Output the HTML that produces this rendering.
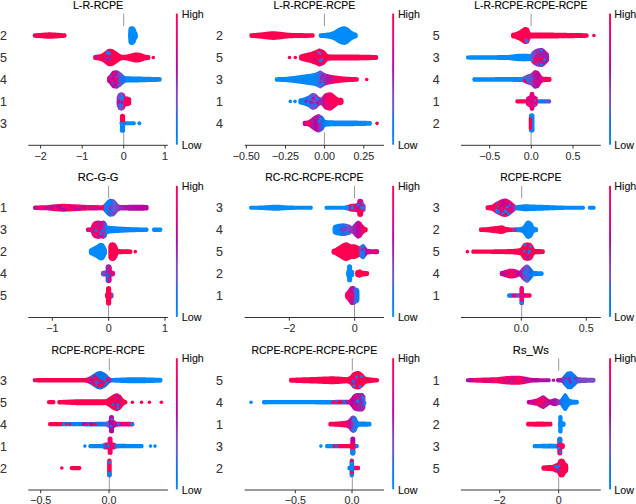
<!DOCTYPE html>
<html><head><meta charset="utf-8"><title>SHAP summary plots</title>
<style>html,body{margin:0;padding:0;background:#fff;}body{width:636px;height:504px;overflow:hidden;font-family:"Liberation Sans", sans-serif;}svg{display:block;}</style>
</head><body>
<svg width="636" height="504" viewBox="0 0 636 504" font-family='"Liberation Sans", sans-serif'><defs><linearGradient id="cb" x1="0" y1="1" x2="0" y2="0"><stop offset="0" stop-color="#008bfb"/><stop offset="0.1" stop-color="#007cf5"/><stop offset="0.2" stop-color="#236cea"/><stop offset="0.3" stop-color="#6359da"/><stop offset="0.4" stop-color="#8443c6"/><stop offset="0.5" stop-color="#9b23ad"/><stop offset="0.6" stop-color="#bb00a0"/><stop offset="0.7" stop-color="#d5008f"/><stop offset="0.8" stop-color="#e9007c"/><stop offset="0.9" stop-color="#f90067"/><stop offset="1" stop-color="#ff0051"/></linearGradient><linearGradient id="g1" gradientUnits="userSpaceOnUse" x1="107.1" y1="0" x2="161.8" y2="0"><stop offset="0" stop-color="#bb00a0"/><stop offset="0.11" stop-color="#bb00a0"/><stop offset="0.18" stop-color="#9b23ad"/><stop offset="0.24" stop-color="#754fd1"/><stop offset="0.29" stop-color="#236cea"/><stop offset="0.34" stop-color="#0086fa"/><stop offset="1" stop-color="#008bfb"/></linearGradient><linearGradient id="g2" gradientUnits="userSpaceOnUse" x1="116.6" y1="0" x2="131.3" y2="0"><stop offset="0" stop-color="#9135ba"/><stop offset="0.3" stop-color="#6359da"/><stop offset="0.44" stop-color="#8443c6"/><stop offset="0.5" stop-color="#fe005c"/><stop offset="1" stop-color="#ff0051"/></linearGradient><linearGradient id="g3" gradientUnits="userSpaceOnUse" x1="274.7" y1="0" x2="358.8" y2="0"><stop offset="0" stop-color="#008bfb"/><stop offset="0.49" stop-color="#0088fa"/><stop offset="0.54" stop-color="#6359da"/><stop offset="0.61" stop-color="#9b23ad"/><stop offset="0.67" stop-color="#e9007c"/><stop offset="0.73" stop-color="#fe005c"/><stop offset="1" stop-color="#ff0051"/></linearGradient><linearGradient id="g4" gradientUnits="userSpaceOnUse" x1="298.2" y1="0" x2="343.7" y2="0"><stop offset="0" stop-color="#0084f9"/><stop offset="0.17" stop-color="#007cf5"/><stop offset="0.3" stop-color="#6359da"/><stop offset="0.44" stop-color="#9135ba"/><stop offset="0.52" stop-color="#9b23ad"/><stop offset="0.59" stop-color="#e9007c"/><stop offset="0.65" stop-color="#fe005c"/><stop offset="1" stop-color="#ff0051"/></linearGradient><linearGradient id="g5" gradientUnits="userSpaceOnUse" x1="302.6" y1="0" x2="372" y2="0"><stop offset="0" stop-color="#bb00a0"/><stop offset="0.11" stop-color="#e00086"/><stop offset="0.19" stop-color="#bb00a0"/><stop offset="0.25" stop-color="#9135ba"/><stop offset="0.29" stop-color="#0074f0"/><stop offset="0.34" stop-color="#0088fa"/><stop offset="1" stop-color="#008bfb"/></linearGradient><linearGradient id="g6" gradientUnits="userSpaceOnUse" x1="465.9" y1="0" x2="549.3" y2="0"><stop offset="0" stop-color="#008bfb"/><stop offset="0.77" stop-color="#008bfb"/><stop offset="0.8" stop-color="#754fd1"/><stop offset="0.89" stop-color="#9b23ad"/><stop offset="0.96" stop-color="#ab15a7"/><stop offset="1" stop-color="#9b23ad"/></linearGradient><linearGradient id="g7" gradientUnits="userSpaceOnUse" x1="472.2" y1="0" x2="551.6" y2="0"><stop offset="0" stop-color="#008bfb"/><stop offset="0.61" stop-color="#008bfb"/><stop offset="0.66" stop-color="#4b63e3"/><stop offset="0.74" stop-color="#8443c6"/><stop offset="0.79" stop-color="#ab15a7"/><stop offset="0.84" stop-color="#c80098"/><stop offset="0.89" stop-color="#e9007c"/><stop offset="0.95" stop-color="#ff0051"/><stop offset="1" stop-color="#ff0051"/></linearGradient><linearGradient id="g8" gradientUnits="userSpaceOnUse" x1="515.3" y1="0" x2="551.2" y2="0"><stop offset="0" stop-color="#ff0051"/><stop offset="0.27" stop-color="#fe005c"/><stop offset="0.41" stop-color="#e9007c"/><stop offset="0.55" stop-color="#d5008f"/><stop offset="0.63" stop-color="#007cf5"/><stop offset="0.83" stop-color="#236cea"/><stop offset="0.99" stop-color="#8443c6"/></linearGradient><linearGradient id="g9" gradientUnits="userSpaceOnUse" x1="33" y1="0" x2="148.6" y2="0"><stop offset="0" stop-color="#ab15a7"/><stop offset="0.04" stop-color="#e9007c"/><stop offset="0.1" stop-color="#f90067"/><stop offset="0.61" stop-color="#fc0061"/><stop offset="0.62" stop-color="#0084f9"/><stop offset="0.67" stop-color="#007cf5"/><stop offset="0.7" stop-color="#6359da"/><stop offset="0.74" stop-color="#9135ba"/><stop offset="0.8" stop-color="#ab15a7"/><stop offset="1" stop-color="#bb00a0"/></linearGradient><linearGradient id="g10" gradientUnits="userSpaceOnUse" x1="85.9" y1="0" x2="148.6" y2="0"><stop offset="0" stop-color="#e00086"/><stop offset="0.1" stop-color="#f20072"/><stop offset="0.18" stop-color="#f90067"/><stop offset="0.24" stop-color="#e00086"/><stop offset="0.29" stop-color="#9135ba"/><stop offset="0.33" stop-color="#0084f9"/><stop offset="1" stop-color="#008bfb"/></linearGradient><linearGradient id="g11" gradientUnits="userSpaceOnUse" x1="100.9" y1="0" x2="115.1" y2="0"><stop offset="0" stop-color="#754fd1"/><stop offset="0.5" stop-color="#9135ba"/><stop offset="0.71" stop-color="#e00086"/><stop offset="1" stop-color="#e9007c"/></linearGradient><linearGradient id="g12" gradientUnits="userSpaceOnUse" x1="105" y1="0" x2="113.7" y2="0"><stop offset="0" stop-color="#ff0051"/><stop offset="0.46" stop-color="#ff0051"/><stop offset="0.69" stop-color="#8443c6"/><stop offset="1" stop-color="#6359da"/></linearGradient><linearGradient id="g13" gradientUnits="userSpaceOnUse" x1="324.4" y1="0" x2="365.8" y2="0"><stop offset="0" stop-color="#008bfb"/><stop offset="0.58" stop-color="#008bfb"/><stop offset="0.61" stop-color="#ff0051"/><stop offset="0.74" stop-color="#fe005c"/><stop offset="0.81" stop-color="#bb00a0"/><stop offset="0.91" stop-color="#754fd1"/><stop offset="1" stop-color="#8443c6"/></linearGradient><linearGradient id="g14" gradientUnits="userSpaceOnUse" x1="332.4" y1="0" x2="367.8" y2="0"><stop offset="0" stop-color="#0088fa"/><stop offset="0.16" stop-color="#0084f9"/><stop offset="0.3" stop-color="#236cea"/><stop offset="0.44" stop-color="#754fd1"/><stop offset="0.55" stop-color="#9135ba"/><stop offset="0.67" stop-color="#ab15a7"/><stop offset="0.75" stop-color="#c80098"/><stop offset="0.84" stop-color="#f20072"/><stop offset="0.89" stop-color="#ff0051"/><stop offset="1" stop-color="#ff0051"/></linearGradient><linearGradient id="g15" gradientUnits="userSpaceOnUse" x1="331.4" y1="0" x2="379.3" y2="0"><stop offset="0" stop-color="#ff0051"/><stop offset="0.56" stop-color="#ff0051"/><stop offset="0.6" stop-color="#6359da"/><stop offset="0.64" stop-color="#0084f9"/><stop offset="0.69" stop-color="#007cf5"/><stop offset="0.72" stop-color="#bb00a0"/><stop offset="0.81" stop-color="#e00086"/><stop offset="0.91" stop-color="#e9007c"/><stop offset="1" stop-color="#d5008f"/></linearGradient><linearGradient id="g16" gradientUnits="userSpaceOnUse" x1="344.9" y1="0" x2="359.5" y2="0"><stop offset="0" stop-color="#ff0051"/><stop offset="0.21" stop-color="#fe005c"/><stop offset="0.35" stop-color="#d5008f"/><stop offset="0.55" stop-color="#ab15a7"/><stop offset="0.69" stop-color="#6359da"/><stop offset="0.83" stop-color="#007cf5"/><stop offset="1" stop-color="#007cf5"/></linearGradient><linearGradient id="g17" gradientUnits="userSpaceOnUse" x1="485.4" y1="0" x2="585" y2="0"><stop offset="0" stop-color="#ff0051"/><stop offset="0.07" stop-color="#fe005c"/><stop offset="0.12" stop-color="#f20072"/><stop offset="0.27" stop-color="#e9007c"/><stop offset="0.3" stop-color="#6359da"/><stop offset="0.32" stop-color="#0088fa"/><stop offset="1" stop-color="#008bfb"/></linearGradient><linearGradient id="g18" gradientUnits="userSpaceOnUse" x1="478.8" y1="0" x2="538.2" y2="0"><stop offset="0" stop-color="#ff0051"/><stop offset="0.54" stop-color="#ff0051"/><stop offset="0.58" stop-color="#8443c6"/><stop offset="0.61" stop-color="#f90067"/><stop offset="0.64" stop-color="#0084f9"/><stop offset="1" stop-color="#008bfb"/></linearGradient><linearGradient id="g19" gradientUnits="userSpaceOnUse" x1="499.5" y1="0" x2="543.8" y2="0"><stop offset="0" stop-color="#9b23ad"/><stop offset="0.08" stop-color="#c80098"/><stop offset="0.17" stop-color="#f20072"/><stop offset="0.28" stop-color="#f20072"/><stop offset="0.37" stop-color="#d5008f"/><stop offset="0.44" stop-color="#bb00a0"/><stop offset="0.53" stop-color="#9135ba"/><stop offset="0.62" stop-color="#754fd1"/><stop offset="0.71" stop-color="#0074f0"/><stop offset="0.78" stop-color="#0084f9"/><stop offset="1" stop-color="#008bfb"/></linearGradient><linearGradient id="g20" gradientUnits="userSpaceOnUse" x1="507" y1="0" x2="531.6" y2="0"><stop offset="0" stop-color="#0084f9"/><stop offset="0.16" stop-color="#007cf5"/><stop offset="0.24" stop-color="#fe005c"/><stop offset="0.33" stop-color="#9b23ad"/><stop offset="0.45" stop-color="#6359da"/><stop offset="0.57" stop-color="#e9007c"/><stop offset="0.69" stop-color="#bb00a0"/><stop offset="0.81" stop-color="#f90067"/><stop offset="1" stop-color="#ff0051"/></linearGradient><linearGradient id="g21" gradientUnits="userSpaceOnUse" x1="32.8" y1="0" x2="162.5" y2="0"><stop offset="0" stop-color="#ff0051"/><stop offset="0.41" stop-color="#ff0051"/><stop offset="0.43" stop-color="#d5008f"/><stop offset="0.45" stop-color="#236cea"/><stop offset="0.52" stop-color="#0074f0"/><stop offset="0.58" stop-color="#236cea"/><stop offset="0.6" stop-color="#9b23ad"/><stop offset="0.61" stop-color="#0084f9"/><stop offset="1" stop-color="#008bfb"/></linearGradient><linearGradient id="g22" gradientUnits="userSpaceOnUse" x1="48" y1="0" x2="134.4" y2="0"><stop offset="0" stop-color="#ff0051"/><stop offset="0.16" stop-color="#ff0051"/><stop offset="0.17" stop-color="#0084f9"/><stop offset="0.6" stop-color="#007cf5"/><stop offset="0.69" stop-color="#6359da"/><stop offset="0.74" stop-color="#bb00a0"/><stop offset="0.79" stop-color="#d5008f"/><stop offset="0.89" stop-color="#e9007c"/><stop offset="1" stop-color="#f90067"/></linearGradient><linearGradient id="g23" gradientUnits="userSpaceOnUse" x1="88.3" y1="0" x2="143.7" y2="0"><stop offset="0" stop-color="#008bfb"/><stop offset="0.28" stop-color="#0084f9"/><stop offset="0.32" stop-color="#f90067"/><stop offset="0.46" stop-color="#f90067"/><stop offset="0.5" stop-color="#0084f9"/><stop offset="1" stop-color="#008bfb"/></linearGradient><linearGradient id="g24" gradientUnits="userSpaceOnUse" x1="261.9" y1="0" x2="365.5" y2="0"><stop offset="0" stop-color="#008bfb"/><stop offset="0.66" stop-color="#008bfb"/><stop offset="0.68" stop-color="#8443c6"/><stop offset="0.72" stop-color="#0084f9"/><stop offset="0.75" stop-color="#e9007c"/><stop offset="0.79" stop-color="#007cf5"/><stop offset="0.83" stop-color="#d5008f"/><stop offset="0.87" stop-color="#bb00a0"/><stop offset="0.93" stop-color="#9b23ad"/><stop offset="1" stop-color="#9b23ad"/></linearGradient><linearGradient id="g25" gradientUnits="userSpaceOnUse" x1="328.2" y1="0" x2="371.6" y2="0"><stop offset="0" stop-color="#ff0051"/><stop offset="0.36" stop-color="#fe005c"/><stop offset="0.46" stop-color="#e00086"/><stop offset="0.53" stop-color="#9b23ad"/><stop offset="0.59" stop-color="#6359da"/><stop offset="0.65" stop-color="#0084f9"/><stop offset="1" stop-color="#008bfb"/></linearGradient><linearGradient id="g26" gradientUnits="userSpaceOnUse" x1="325" y1="0" x2="359" y2="0"><stop offset="0" stop-color="#008bfb"/><stop offset="0.21" stop-color="#008bfb"/><stop offset="0.26" stop-color="#f90067"/><stop offset="0.35" stop-color="#236cea"/><stop offset="0.41" stop-color="#ff0051"/><stop offset="0.74" stop-color="#ff0051"/><stop offset="0.79" stop-color="#d5008f"/><stop offset="0.85" stop-color="#007cf5"/><stop offset="1" stop-color="#008bfb"/></linearGradient><linearGradient id="g27" gradientUnits="userSpaceOnUse" x1="347.3" y1="0" x2="360.2" y2="0"><stop offset="0" stop-color="#0084f9"/><stop offset="0.44" stop-color="#007cf5"/><stop offset="0.6" stop-color="#f90067"/><stop offset="1" stop-color="#ff0051"/></linearGradient><linearGradient id="g28" gradientUnits="userSpaceOnUse" x1="465.7" y1="0" x2="550.9" y2="0"><stop offset="0" stop-color="#ab15a7"/><stop offset="0.06" stop-color="#bb00a0"/><stop offset="0.11" stop-color="#f20072"/><stop offset="0.4" stop-color="#f90067"/><stop offset="0.64" stop-color="#fb0063"/><stop offset="0.72" stop-color="#e9007c"/><stop offset="0.77" stop-color="#bb00a0"/><stop offset="1" stop-color="#ab15a7"/></linearGradient><linearGradient id="g29" gradientUnits="userSpaceOnUse" x1="555.9" y1="0" x2="595.5" y2="0"><stop offset="0" stop-color="#ab15a7"/><stop offset="0.15" stop-color="#9b23ad"/><stop offset="0.23" stop-color="#007cf5"/><stop offset="0.41" stop-color="#007ff7"/><stop offset="0.51" stop-color="#236cea"/><stop offset="0.61" stop-color="#8443c6"/><stop offset="1" stop-color="#754fd1"/></linearGradient><linearGradient id="g30" gradientUnits="userSpaceOnUse" x1="526.7" y1="0" x2="579" y2="0"><stop offset="0" stop-color="#bb00a0"/><stop offset="0.12" stop-color="#d5008f"/><stop offset="0.22" stop-color="#e9007c"/><stop offset="0.31" stop-color="#f20072"/><stop offset="0.41" stop-color="#bb00a0"/><stop offset="0.54" stop-color="#ab15a7"/><stop offset="0.62" stop-color="#9135ba"/><stop offset="0.67" stop-color="#007cf5"/><stop offset="0.73" stop-color="#0084f9"/><stop offset="1" stop-color="#008bfb"/></linearGradient><linearGradient id="g31" gradientUnits="userSpaceOnUse" x1="532.6" y1="0" x2="565" y2="0"><stop offset="0" stop-color="#008bfb"/><stop offset="0.72" stop-color="#008bfb"/><stop offset="0.78" stop-color="#e9007c"/><stop offset="0.85" stop-color="#f90067"/><stop offset="1" stop-color="#ff0051"/></linearGradient></defs><line x1="123.7" y1="13.6" x2="123.7" y2="26.05" stroke="#999" stroke-width="1"/>
<line x1="123.7" y1="132.35" x2="123.7" y2="145.3" stroke="#999" stroke-width="1"/>
<path d="M32.7,35.13 L33.2,33.88 L33.7,33.51 L34.2,33.35 L34.7,33.31 L35.2,33.28 L35.7,33.24 L36.2,33.21 L36.7,33.17 L37.2,33.14 L37.7,33.1 L38.2,33.07 L38.7,33.04 L39.2,33 L39.7,32.97 L40.2,32.93 L40.7,32.89 L41.2,32.85 L41.7,32.81 L42.2,32.77 L42.7,32.73 L43.2,32.69 L43.7,32.65 L44.2,32.61 L44.7,32.57 L45.2,32.53 L45.7,32.5 L46.2,32.47 L46.7,32.44 L47.2,32.41 L47.7,32.38 L48.2,32.34 L48.7,32.31 L49.2,32.28 L49.7,32.25 L50.2,32.28 L50.7,32.31 L51.2,32.33 L51.7,32.36 L52.2,32.39 L52.7,32.42 L53.2,32.45 L53.7,32.48 L54.2,32.5 L54.7,32.53 L55.2,32.56 L55.7,32.6 L56.2,32.64 L56.7,32.68 L57.2,32.72 L57.7,32.76 L58.2,32.8 L58.7,32.84 L59.2,32.88 L59.7,32.92 L60.2,32.96 L60.7,33 L61.2,33.04 L61.7,33.07 L62.2,33.11 L62.7,33.15 L63.2,33.19 L63.7,33.22 L64.2,33.26 L64.7,33.3 L65.2,33.36 L65.7,33.58 L66.2,34.04 L66.7,35.55 L66.7,35.55 L66.2,37.06 L65.7,37.52 L65.2,37.74 L64.7,37.8 L64.2,37.84 L63.7,37.88 L63.2,37.91 L62.7,37.95 L62.2,37.99 L61.7,38.03 L61.2,38.06 L60.7,38.1 L60.2,38.14 L59.7,38.18 L59.2,38.22 L58.7,38.26 L58.2,38.3 L57.7,38.34 L57.2,38.38 L56.7,38.42 L56.2,38.46 L55.7,38.5 L55.2,38.54 L54.7,38.57 L54.2,38.6 L53.7,38.62 L53.2,38.65 L52.7,38.68 L52.2,38.71 L51.7,38.74 L51.2,38.77 L50.7,38.79 L50.2,38.82 L49.7,38.85 L49.2,38.82 L48.7,38.79 L48.2,38.76 L47.7,38.72 L47.2,38.69 L46.7,38.66 L46.2,38.63 L45.7,38.6 L45.2,38.57 L44.7,38.53 L44.2,38.49 L43.7,38.45 L43.2,38.41 L42.7,38.37 L42.2,38.33 L41.7,38.29 L41.2,38.25 L40.7,38.21 L40.2,38.17 L39.7,38.13 L39.2,38.1 L38.7,38.06 L38.2,38.03 L37.7,38 L37.2,37.96 L36.7,37.93 L36.2,37.89 L35.7,37.86 L35.2,37.82 L34.7,37.79 L34.2,37.75 L33.7,37.59 L33.2,37.22 L32.7,35.97Z" fill="#ff0051"/>
<path d="M128,35.55 L128.5,28.23 L129,27.59 L129.5,26.96 L130,26.49 L130.5,26.24 L131,26.15 L131.5,26.15 L132,26.15 L132.5,26.16 L133,26.25 L133.5,26.47 L134,26.89 L134.5,27.36 L135,27.82 L135.5,28.46 L136,29.81 L136.5,31.56 L137,32.2 L137.5,32.69 L138,35.55 L138,35.55 L137.5,38.41 L137,38.9 L136.5,39.54 L136,41.29 L135.5,42.64 L135,43.28 L134.5,43.74 L134,44.21 L133.5,44.63 L133,44.85 L132.5,44.94 L132,44.95 L131.5,44.95 L131,44.95 L130.5,44.86 L130,44.61 L129.5,44.14 L129,43.51 L128.5,42.87 L128,35.55Z" fill="#008bfb"/>
<path d="M93.1,56.82 L93.6,55.58 L94.1,55.21 L94.6,55.05 L95.1,54.97 L95.6,54.89 L96.1,54.82 L96.6,54.74 L97.1,54.67 L97.6,54.59 L98.1,54.52 L98.6,54.44 L99.1,54.37 L99.6,54.29 L100.1,54.22 L100.6,54.07 L101.1,53.81 L101.6,53.54 L102.1,53.27 L102.6,53.01 L103.1,52.72 L103.6,52.34 L104.1,51.96 L104.6,51.58 L105.1,51.2 L105.6,50.82 L106.1,50.42 L106.6,50.02 L107.1,49.62 L107.6,49.27 L108.1,49.05 L108.6,48.91 L109.1,48.78 L109.6,48.65 L110.1,48.63 L110.6,48.69 L111.1,48.79 L111.6,48.89 L112.1,48.99 L112.6,49.12 L113.1,49.36 L113.6,49.66 L114.1,49.96 L114.6,50.26 L115.1,50.56 L115.6,50.88 L116.1,51.19 L116.6,51.5 L117.1,51.81 L117.6,52.16 L118.1,52.56 L118.6,52.97 L119.1,53.38 L119.6,53.73 L120.1,54.08 L120.6,54.35 L121.1,54.46 L121.6,54.56 L122.1,54.67 L122.6,54.78 L123.1,54.88 L123.6,54.84 L124.1,54.79 L124.6,54.74 L125.1,54.69 L125.6,54.64 L126.1,54.56 L126.6,54.48 L127.1,54.4 L127.6,54.32 L128.1,54.24 L128.6,54.1 L129.1,53.96 L129.6,53.81 L130.1,53.67 L130.6,53.53 L131.1,53.39 L131.6,53.25 L132.1,53.13 L132.6,53.02 L133.1,52.9 L133.6,52.78 L134.1,52.67 L134.6,52.55 L135.1,52.5 L135.6,52.5 L136.1,52.5 L136.6,52.5 L137.1,52.5 L137.6,52.5 L138.1,52.51 L138.6,52.59 L139.1,52.71 L139.6,52.83 L140.1,52.94 L140.6,53.06 L141.1,53.18 L141.6,53.31 L142.1,53.49 L142.6,53.68 L143.1,53.87 L143.6,54.05 L144.1,54.24 L144.6,54.43 L145.1,54.62 L145.6,54.75 L146.1,54.81 L146.6,54.86 L147.1,54.92 L147.6,54.97 L148.1,55.03 L148.6,55.08 L149.1,55.16 L149.6,55.37 L150.1,55.83 L150.5,57.5 L150.5,57.5 L150.1,59.17 L149.6,59.63 L149.1,59.84 L148.6,59.92 L148.1,59.97 L147.6,60.03 L147.1,60.08 L146.6,60.14 L146.1,60.19 L145.6,60.25 L145.1,60.38 L144.6,60.57 L144.1,60.76 L143.6,60.95 L143.1,61.13 L142.6,61.32 L142.1,61.51 L141.6,61.69 L141.1,61.82 L140.6,61.94 L140.1,62.06 L139.6,62.17 L139.1,62.29 L138.6,62.41 L138.1,62.49 L137.6,62.5 L137.1,62.5 L136.6,62.5 L136.1,62.5 L135.6,62.5 L135.1,62.5 L134.6,62.45 L134.1,62.33 L133.6,62.22 L133.1,62.1 L132.6,61.98 L132.1,61.87 L131.6,61.75 L131.1,61.61 L130.6,61.47 L130.1,61.33 L129.6,61.19 L129.1,61.04 L128.6,60.9 L128.1,60.76 L127.6,60.68 L127.1,60.6 L126.6,60.52 L126.1,60.44 L125.6,60.36 L125.1,60.31 L124.6,60.26 L124.1,60.21 L123.6,60.16 L123.1,60.12 L122.6,60.22 L122.1,60.33 L121.6,60.44 L121.1,60.54 L120.6,60.65 L120.1,60.92 L119.6,61.27 L119.1,61.62 L118.6,62.03 L118.1,62.44 L117.6,62.84 L117.1,63.19 L116.6,63.5 L116.1,63.81 L115.6,64.12 L115.1,64.44 L114.6,64.74 L114.1,65.04 L113.6,65.34 L113.1,65.64 L112.6,65.88 L112.1,66.01 L111.6,66.11 L111.1,66.21 L110.6,66.31 L110.1,66.37 L109.6,66.35 L109.1,66.22 L108.6,66.09 L108.1,65.95 L107.6,65.73 L107.1,65.38 L106.6,64.98 L106.1,64.58 L105.6,64.18 L105.1,63.8 L104.6,63.42 L104.1,63.04 L103.6,62.66 L103.1,62.28 L102.6,61.99 L102.1,61.73 L101.6,61.46 L101.1,61.19 L100.6,60.93 L100.1,60.78 L99.6,60.71 L99.1,60.63 L98.6,60.56 L98.1,60.48 L97.6,60.41 L97.1,60.33 L96.6,60.26 L96.1,60.18 L95.6,60.11 L95.1,60.03 L94.6,59.95 L94.1,59.79 L93.6,59.42 L93.1,58.18Z" fill="#ff0051"/>
<circle cx="107.59" cy="58.22" r="1.5" fill="#9b23ad"/>
<circle cx="110.21" cy="57.91" r="1.5" fill="#9b23ad"/>
<circle cx="109.29" cy="59.52" r="1.5" fill="#9b23ad"/>
<circle cx="105.46" cy="59.25" r="1.5" fill="#9b23ad"/>
<circle cx="107.22" cy="53.05" r="1.5" fill="#0084f9"/>
<circle cx="107.42" cy="51.93" r="1.5" fill="#0084f9"/>
<circle cx="109.55" cy="53.41" r="1.5" fill="#0084f9"/>
<circle cx="96.5" cy="56.99" r="1.5" fill="#9b23ad"/>
<circle cx="153.3" cy="57.5" r="1.8" fill="#ff0051"/>
<path d="M107.1,77.73 L107.6,76.49 L108.1,76.07 L108.6,75.68 L109.1,75.28 L109.6,74.64 L110.1,73.98 L110.6,73.32 L111.1,72.66 L111.6,72 L112.1,71.34 L112.6,70.96 L113.1,70.71 L113.6,70.61 L114.1,70.53 L114.6,70.45 L115.1,70.37 L115.6,70.29 L116.1,70.21 L116.6,70.18 L117.1,70.24 L117.6,70.45 L118.1,70.74 L118.6,71.03 L119.1,71.32 L119.6,71.61 L120.1,71.9 L120.6,72.19 L121.1,72.6 L121.6,73.08 L122.1,73.56 L122.6,74.04 L123.1,74.52 L123.6,74.96 L124.1,75.31 L124.6,75.66 L125.1,76 L125.6,76.27 L126.1,76.28 L126.6,76.29 L127.1,76.29 L127.6,76.3 L128.1,76.31 L128.6,76.32 L129.1,76.33 L129.6,76.34 L130.1,76.35 L130.6,76.36 L131.1,76.37 L131.6,76.38 L132.1,76.39 L132.6,76.4 L133.1,76.41 L133.6,76.42 L134.1,76.43 L134.6,76.44 L135.1,76.45 L135.6,76.46 L136.1,76.47 L136.6,76.48 L137.1,76.49 L137.6,76.5 L138.1,76.51 L138.6,76.52 L139.1,76.53 L139.6,76.54 L140.1,76.56 L140.6,76.57 L141.1,76.59 L141.6,76.6 L142.1,76.62 L142.6,76.63 L143.1,76.65 L143.6,76.66 L144.1,76.68 L144.6,76.69 L145.1,76.71 L145.6,76.72 L146.1,76.74 L146.6,76.75 L147.1,76.77 L147.6,76.78 L148.1,76.8 L148.6,76.81 L149.1,76.83 L149.6,76.84 L150.1,76.85 L150.6,76.87 L151.1,76.88 L151.6,76.89 L152.1,76.9 L152.6,76.92 L153.1,76.93 L153.6,76.94 L154.1,76.95 L154.6,76.97 L155.1,76.98 L155.6,76.99 L156.1,77 L156.6,77.02 L157.1,77.03 L157.6,77.04 L158.1,77.06 L158.6,77.08 L159.1,77.11 L159.6,77.13 L160.1,77.16 L160.6,77.29 L161.1,77.61 L161.6,78.36 L161.8,79.45 L161.8,79.45 L161.6,80.54 L161.1,81.29 L160.6,81.61 L160.1,81.74 L159.6,81.77 L159.1,81.79 L158.6,81.82 L158.1,81.84 L157.6,81.86 L157.1,81.87 L156.6,81.88 L156.1,81.9 L155.6,81.91 L155.1,81.92 L154.6,81.93 L154.1,81.95 L153.6,81.96 L153.1,81.97 L152.6,81.98 L152.1,82 L151.6,82.01 L151.1,82.02 L150.6,82.03 L150.1,82.05 L149.6,82.06 L149.1,82.07 L148.6,82.09 L148.1,82.1 L147.6,82.12 L147.1,82.13 L146.6,82.15 L146.1,82.16 L145.6,82.18 L145.1,82.19 L144.6,82.21 L144.1,82.22 L143.6,82.24 L143.1,82.25 L142.6,82.27 L142.1,82.28 L141.6,82.3 L141.1,82.31 L140.6,82.33 L140.1,82.34 L139.6,82.36 L139.1,82.37 L138.6,82.38 L138.1,82.39 L137.6,82.4 L137.1,82.41 L136.6,82.42 L136.1,82.43 L135.6,82.44 L135.1,82.45 L134.6,82.46 L134.1,82.47 L133.6,82.48 L133.1,82.49 L132.6,82.5 L132.1,82.51 L131.6,82.52 L131.1,82.53 L130.6,82.54 L130.1,82.55 L129.6,82.56 L129.1,82.57 L128.6,82.58 L128.1,82.59 L127.6,82.6 L127.1,82.61 L126.6,82.61 L126.1,82.62 L125.6,82.63 L125.1,82.9 L124.6,83.24 L124.1,83.59 L123.6,83.94 L123.1,84.38 L122.6,84.86 L122.1,85.34 L121.6,85.82 L121.1,86.3 L120.6,86.71 L120.1,87 L119.6,87.29 L119.1,87.58 L118.6,87.87 L118.1,88.16 L117.6,88.45 L117.1,88.66 L116.6,88.72 L116.1,88.69 L115.6,88.61 L115.1,88.53 L114.6,88.45 L114.1,88.37 L113.6,88.29 L113.1,88.19 L112.6,87.94 L112.1,87.56 L111.6,86.9 L111.1,86.24 L110.6,85.58 L110.1,84.92 L109.6,84.26 L109.1,83.62 L108.6,83.22 L108.1,82.83 L107.6,82.41 L107.1,81.17Z" fill="url(#g1)"/>
<circle cx="116.51" cy="81.46" r="1.5" fill="#ff0051"/>
<circle cx="116.31" cy="78.99" r="1.5" fill="#ff0051"/>
<circle cx="117.91" cy="77.62" r="1.5" fill="#ff0051"/>
<circle cx="117.73" cy="76.57" r="1.5" fill="#9135ba"/>
<circle cx="111.3" cy="76.33" r="1.5" fill="#9135ba"/>
<circle cx="112.78" cy="83.27" r="1.5" fill="#9135ba"/>
<circle cx="111.63" cy="80.19" r="1.5" fill="#9135ba"/>
<circle cx="115.75" cy="77.57" r="1.5" fill="#9135ba"/>
<circle cx="113.93" cy="73.27" r="1.5" fill="#f20072"/>
<circle cx="109.54" cy="78.14" r="1.5" fill="#f20072"/>
<circle cx="115.12" cy="78.4" r="1.5" fill="#f20072"/>
<circle cx="111.83" cy="80.27" r="1.5" fill="#f20072"/>
<circle cx="120.72" cy="77.56" r="1.5" fill="#236cea"/>
<circle cx="122.77" cy="80.6" r="1.5" fill="#236cea"/>
<circle cx="119.46" cy="80.32" r="1.5" fill="#236cea"/>
<path d="M116.6,97.63 L117.1,96.05 L117.6,94.72 L118.1,93.72 L118.6,93.17 L119.1,92.91 L119.6,92.69 L120.1,92.47 L120.6,92.25 L121.1,92.17 L121.6,92.16 L122.1,92.29 L122.6,92.52 L123.1,92.76 L123.6,92.99 L124.1,93.31 L124.6,94.01 L125.1,95.11 L125.6,96.31 L126.1,96.6 L126.6,96.6 L127.1,96.6 L127.6,96.61 L128.1,96.72 L128.6,96.9 L129.1,97.1 L129.6,97.3 L130.1,97.5 L130.6,97.82 L131.1,98.57 L131.3,101.4 L131.3,101.4 L131.1,104.23 L130.6,104.98 L130.1,105.3 L129.6,105.5 L129.1,105.7 L128.6,105.9 L128.1,106.08 L127.6,106.19 L127.1,106.2 L126.6,106.2 L126.1,106.2 L125.6,106.49 L125.1,107.69 L124.6,108.79 L124.1,109.49 L123.6,109.81 L123.1,110.04 L122.6,110.28 L122.1,110.51 L121.6,110.64 L121.1,110.63 L120.6,110.55 L120.1,110.33 L119.6,110.11 L119.1,109.89 L118.6,109.63 L118.1,109.08 L117.6,108.08 L117.1,106.75 L116.6,105.17Z" fill="url(#g2)"/>
<circle cx="121.34" cy="104.58" r="1.5" fill="#0084f9"/>
<circle cx="122.05" cy="98.56" r="1.5" fill="#0084f9"/>
<circle cx="122.93" cy="97.13" r="1.5" fill="#0084f9"/>
<circle cx="120.96" cy="103.31" r="1.5" fill="#0084f9"/>
<circle cx="118.76" cy="101.3" r="1.5" fill="#ab15a7"/>
<circle cx="118.2" cy="102.48" r="1.5" fill="#ab15a7"/>
<circle cx="121.82" cy="102.46" r="1.5" fill="#ab15a7"/>
<path d="M124,123.15 L124.5,121.91 L125,121.54 L125.5,121.38 L126,121.35 L126.5,121.35 L127,121.35 L127.5,121.35 L128,121.35 L128.5,121.35 L129,121.35 L129.5,121.35 L130,121.35 L130.5,121.35 L131,121.35 L131.5,121.35 L132,121.35 L132.5,121.35 L133,121.35 L133.5,121.35 L134,121.35 L134.5,121.41 L135,121.62 L135.5,122.08 L136,123.35 L136,123.35 L135.5,124.62 L135,125.08 L134.5,125.29 L134,125.35 L133.5,125.35 L133,125.35 L132.5,125.35 L132,125.35 L131.5,125.35 L131,125.35 L130.5,125.35 L130,125.35 L129.5,125.35 L129,125.35 L128.5,125.35 L128,125.35 L127.5,125.35 L127,125.35 L126.5,125.35 L126,125.35 L125.5,125.32 L125,125.16 L124.5,124.79 L124,123.55Z" fill="#008bfb"/>
<circle cx="139.3" cy="123.2" r="2" fill="#008bfb"/>
<rect x="119.9" y="113.7" width="5.2" height="10.8" rx="2.6" fill="#ff0051"/>
<rect x="119.9" y="122" width="5.2" height="10.8" rx="2.6" fill="#0084f9"/>
<circle cx="121" cy="123" r="1.6" fill="#0084f9"/>
<line x1="28.3" y1="145.3" x2="167.9" y2="145.3" stroke="#333" stroke-width="1"/>
<line x1="40.6" y1="145.3" x2="40.6" y2="148.5" stroke="#333" stroke-width="1"/>
<text x="40.6" y="159.6" font-size="10.7" text-anchor="middle" fill="#333" stroke="#333" stroke-width="0.12">−2</text>
<line x1="82.2" y1="145.3" x2="82.2" y2="148.5" stroke="#333" stroke-width="1"/>
<text x="82.2" y="159.6" font-size="10.7" text-anchor="middle" fill="#333" stroke="#333" stroke-width="0.12">−1</text>
<line x1="123.7" y1="145.3" x2="123.7" y2="148.5" stroke="#333" stroke-width="1"/>
<text x="123.7" y="159.6" font-size="10.7" text-anchor="middle" fill="#333" stroke="#333" stroke-width="0.12">0</text>
<line x1="165" y1="145.3" x2="165" y2="148.5" stroke="#333" stroke-width="1"/>
<text x="165" y="159.6" font-size="10.7" text-anchor="middle" fill="#333" stroke="#333" stroke-width="0.12">1</text>
<text x="6.8" y="40.15" font-size="12.4" text-anchor="end" fill="#333" stroke="#333" stroke-width="0.12">2</text>
<text x="6.8" y="62.1" font-size="12.4" text-anchor="end" fill="#333" stroke="#333" stroke-width="0.12">5</text>
<text x="6.8" y="84.05" font-size="12.4" text-anchor="end" fill="#333" stroke="#333" stroke-width="0.12">4</text>
<text x="6.8" y="106" font-size="12.4" text-anchor="end" fill="#333" stroke="#333" stroke-width="0.12">1</text>
<text x="6.8" y="127.95" font-size="12.4" text-anchor="end" fill="#333" stroke="#333" stroke-width="0.12">3</text>
<text x="98.1" y="8.9" font-size="10.7" text-anchor="middle" fill="#000" stroke="#000" stroke-width="0.12" textLength="50.3" lengthAdjust="spacingAndGlyphs">L-R-RCPE</text>
<rect x="175.9" y="13.6" width="1.9" height="131.1" fill="url(#cb)"/>
<text x="181.8" y="17.6" font-size="10.7" text-anchor="start" fill="#111" stroke="#111" stroke-width="0.12">High</text>
<text x="181.8" y="149" font-size="10.7" text-anchor="start" fill="#111" stroke="#111" stroke-width="0.12">Low</text>
<line x1="324.4" y1="13.6" x2="324.4" y2="26.05" stroke="#999" stroke-width="1"/>
<line x1="324.4" y1="132.35" x2="324.4" y2="145.3" stroke="#999" stroke-width="1"/>
<path d="M249.3,35.55 L249.8,33.78 L250.3,33.41 L250.8,33.25 L251.3,33.21 L251.8,33.17 L252.3,33.14 L252.8,33.1 L253.3,33.07 L253.8,33.03 L254.3,33 L254.8,32.96 L255.3,32.92 L255.8,32.88 L256.3,32.83 L256.8,32.79 L257.3,32.75 L257.8,32.71 L258.3,32.66 L258.8,32.62 L259.3,32.58 L259.8,32.53 L260.3,32.49 L260.8,32.45 L261.3,32.41 L261.8,32.36 L262.3,32.3 L262.8,32.23 L263.3,32.16 L263.8,32.1 L264.3,32.03 L264.8,31.96 L265.3,31.9 L265.8,31.83 L266.3,31.76 L266.8,31.7 L267.3,31.63 L267.8,31.57 L268.3,31.52 L268.8,31.49 L269.3,31.45 L269.8,31.41 L270.3,31.38 L270.8,31.34 L271.3,31.3 L271.8,31.27 L272.3,31.23 L272.8,31.19 L273.3,31.15 L273.8,31.18 L274.3,31.22 L274.8,31.27 L275.3,31.32 L275.8,31.36 L276.3,31.41 L276.8,31.45 L277.3,31.5 L277.8,31.54 L278.3,31.59 L278.8,31.63 L279.3,31.68 L279.8,31.72 L280.3,31.77 L280.8,31.84 L281.3,31.91 L281.8,31.97 L282.3,32.04 L282.8,32.11 L283.3,32.17 L283.8,32.24 L284.3,32.31 L284.8,32.37 L285.3,32.44 L285.8,32.51 L286.3,32.57 L286.8,32.6 L287.3,32.63 L287.8,32.67 L288.3,32.7 L288.8,32.73 L289.3,32.77 L289.8,32.8 L290.3,32.83 L290.8,32.87 L291.3,32.9 L291.8,32.93 L292.3,32.96 L292.8,32.96 L293.3,32.97 L293.8,32.98 L294.3,32.99 L294.8,32.99 L295.3,33 L295.8,33.01 L296.3,33.02 L296.8,33.03 L297.3,33.03 L297.8,33.04 L298.3,33.05 L298.8,33.06 L299.3,33.06 L299.8,33.07 L300.3,33.08 L300.8,33.09 L301.3,33.09 L301.8,33.1 L302.3,33.11 L302.8,33.12 L303.3,33.13 L303.8,33.13 L304.3,33.14 L304.8,33.15 L305.3,33.16 L305.8,33.17 L306.3,33.18 L306.8,33.19 L307.3,33.2 L307.8,33.21 L308.3,33.22 L308.8,33.23 L309.3,33.24 L309.8,33.25 L310.3,33.26 L310.8,33.27 L311.3,33.28 L311.8,33.29 L312.3,33.3 L312.8,33.31 L313.3,33.37 L313.8,33.58 L314.3,34.04 L314.8,35.55 L314.8,35.55 L314.3,37.06 L313.8,37.52 L313.3,37.73 L312.8,37.79 L312.3,37.8 L311.8,37.81 L311.3,37.82 L310.8,37.83 L310.3,37.84 L309.8,37.85 L309.3,37.86 L308.8,37.87 L308.3,37.88 L307.8,37.89 L307.3,37.9 L306.8,37.91 L306.3,37.92 L305.8,37.93 L305.3,37.94 L304.8,37.95 L304.3,37.96 L303.8,37.97 L303.3,37.97 L302.8,37.98 L302.3,37.99 L301.8,38 L301.3,38.01 L300.8,38.01 L300.3,38.02 L299.8,38.03 L299.3,38.04 L298.8,38.04 L298.3,38.05 L297.8,38.06 L297.3,38.07 L296.8,38.07 L296.3,38.08 L295.8,38.09 L295.3,38.1 L294.8,38.11 L294.3,38.11 L293.8,38.12 L293.3,38.13 L292.8,38.14 L292.3,38.14 L291.8,38.17 L291.3,38.2 L290.8,38.23 L290.3,38.27 L289.8,38.3 L289.3,38.33 L288.8,38.37 L288.3,38.4 L287.8,38.43 L287.3,38.47 L286.8,38.5 L286.3,38.53 L285.8,38.59 L285.3,38.66 L284.8,38.73 L284.3,38.79 L283.8,38.86 L283.3,38.93 L282.8,38.99 L282.3,39.06 L281.8,39.13 L281.3,39.19 L280.8,39.26 L280.3,39.33 L279.8,39.38 L279.3,39.42 L278.8,39.47 L278.3,39.51 L277.8,39.56 L277.3,39.6 L276.8,39.65 L276.3,39.69 L275.8,39.74 L275.3,39.78 L274.8,39.83 L274.3,39.88 L273.8,39.92 L273.3,39.95 L272.8,39.91 L272.3,39.87 L271.8,39.83 L271.3,39.8 L270.8,39.76 L270.3,39.72 L269.8,39.69 L269.3,39.65 L268.8,39.61 L268.3,39.58 L267.8,39.53 L267.3,39.47 L266.8,39.4 L266.3,39.34 L265.8,39.27 L265.3,39.2 L264.8,39.14 L264.3,39.07 L263.8,39 L263.3,38.94 L262.8,38.87 L262.3,38.8 L261.8,38.74 L261.3,38.69 L260.8,38.65 L260.3,38.61 L259.8,38.57 L259.3,38.52 L258.8,38.48 L258.3,38.44 L257.8,38.39 L257.3,38.35 L256.8,38.31 L256.3,38.27 L255.8,38.22 L255.3,38.18 L254.8,38.14 L254.3,38.1 L253.8,38.07 L253.3,38.03 L252.8,38 L252.3,37.96 L251.8,37.93 L251.3,37.89 L250.8,37.85 L250.3,37.69 L249.8,37.32 L249.3,35.55Z" fill="#ff0051"/>
<path d="M318.6,35.55 L319.1,33.78 L319.6,33.42 L320.1,33.25 L320.6,33.21 L321.1,33.18 L321.6,33.14 L322.1,33.11 L322.6,33.08 L323.1,33.04 L323.6,33.01 L324.1,32.97 L324.6,32.92 L325.1,32.86 L325.6,32.8 L326.1,32.73 L326.6,32.67 L327.1,32.61 L327.6,32.54 L328.1,32.48 L328.6,32.42 L329.1,32.35 L329.6,32.29 L330.1,32.14 L330.6,31.98 L331.1,31.83 L331.6,31.68 L332.1,31.53 L332.6,31.37 L333.1,31.17 L333.6,30.9 L334.1,30.62 L334.6,30.34 L335.1,30.07 L335.6,29.78 L336.1,29.42 L336.6,29.06 L337.1,28.7 L337.6,28.34 L338.1,28.01 L338.6,27.78 L339.1,27.58 L339.6,27.38 L340.1,27.18 L340.6,26.98 L341.1,26.78 L341.6,26.61 L342.1,26.51 L342.6,26.43 L343.1,26.35 L343.6,26.27 L344.1,26.19 L344.6,26.18 L345.1,26.27 L345.6,26.47 L346.1,26.69 L346.6,26.91 L347.1,27.13 L347.6,27.35 L348.1,27.66 L348.6,28.07 L349.1,28.52 L349.6,28.98 L350.1,29.43 L350.6,29.85 L351.1,30.24 L351.6,30.64 L352.1,31.03 L352.6,31.37 L353.1,31.6 L353.6,31.83 L354.1,32.06 L354.6,32.25 L355.1,32.42 L355.6,32.58 L356.1,32.74 L356.6,32.91 L357.1,33.22 L357.6,33.97 L357.7,34.56 L357.7,36.54 L357.6,37.13 L357.1,37.88 L356.6,38.19 L356.1,38.36 L355.6,38.52 L355.1,38.68 L354.6,38.85 L354.1,39.04 L353.6,39.27 L353.1,39.5 L352.6,39.73 L352.1,40.07 L351.6,40.46 L351.1,40.86 L350.6,41.25 L350.1,41.67 L349.6,42.12 L349.1,42.58 L348.6,43.03 L348.1,43.44 L347.6,43.75 L347.1,43.97 L346.6,44.19 L346.1,44.41 L345.6,44.63 L345.1,44.83 L344.6,44.92 L344.1,44.91 L343.6,44.83 L343.1,44.75 L342.6,44.67 L342.1,44.59 L341.6,44.49 L341.1,44.32 L340.6,44.12 L340.1,43.92 L339.6,43.72 L339.1,43.52 L338.6,43.32 L338.1,43.09 L337.6,42.76 L337.1,42.4 L336.6,42.04 L336.1,41.68 L335.6,41.32 L335.1,41.03 L334.6,40.76 L334.1,40.48 L333.6,40.2 L333.1,39.93 L332.6,39.73 L332.1,39.57 L331.6,39.42 L331.1,39.27 L330.6,39.12 L330.1,38.96 L329.6,38.81 L329.1,38.75 L328.6,38.68 L328.1,38.62 L327.6,38.56 L327.1,38.49 L326.6,38.43 L326.1,38.37 L325.6,38.3 L325.1,38.24 L324.6,38.18 L324.1,38.13 L323.6,38.09 L323.1,38.06 L322.6,38.02 L322.1,37.99 L321.6,37.96 L321.1,37.92 L320.6,37.89 L320.1,37.85 L319.6,37.68 L319.1,37.32 L318.6,35.55Z" fill="#008bfb"/>
<circle cx="289.5" cy="57.5" r="1.8" fill="#ff0051"/>
<circle cx="295.3" cy="57.5" r="1.8" fill="#ff0051"/>
<path d="M298.9,57.5 L299.4,55.06 L299.9,54.7 L300.4,54.53 L300.9,54.39 L301.4,54.25 L301.9,54.12 L302.4,53.98 L302.9,53.85 L303.4,53.71 L303.9,53.57 L304.4,53.45 L304.9,53.33 L305.4,53.22 L305.9,53.1 L306.4,52.98 L306.9,52.86 L307.4,52.74 L307.9,52.62 L308.4,52.5 L308.9,52.38 L309.4,52.26 L309.9,52.14 L310.4,52 L310.9,51.81 L311.4,51.63 L311.9,51.45 L312.4,51.27 L312.9,51.09 L313.4,50.9 L313.9,50.72 L314.4,50.54 L314.9,50.36 L315.4,50.18 L315.9,49.95 L316.4,49.72 L316.9,49.48 L317.4,49.25 L317.9,49.02 L318.4,48.78 L318.9,48.61 L319.4,48.52 L319.9,48.58 L320.4,48.76 L320.9,48.95 L321.4,49.14 L321.9,49.33 L322.4,49.53 L322.9,49.72 L323.4,49.91 L323.9,50.1 L324.4,50.42 L324.9,50.9 L325.4,51.47 L325.9,52.04 L326.4,52.61 L326.9,53.17 L327.4,53.7 L327.9,54.23 L328.4,54.33 L328.9,54.35 L329.4,54.36 L329.9,54.37 L330.4,54.38 L330.9,54.4 L331.4,54.41 L331.9,54.42 L332.4,54.44 L332.9,54.45 L333.4,54.46 L333.9,54.47 L334.4,54.49 L334.9,54.5 L335.4,54.5 L335.9,54.5 L336.4,54.5 L336.9,54.5 L337.4,54.5 L337.9,54.5 L338.4,54.5 L338.9,54.5 L339.4,54.5 L339.9,54.5 L340.4,54.5 L340.9,54.5 L341.4,54.5 L341.9,54.5 L342.4,54.5 L342.9,54.5 L343.4,54.5 L343.9,54.5 L344.4,54.5 L344.9,54.5 L345.4,54.5 L345.9,54.5 L346.4,54.5 L346.9,54.5 L347.4,54.5 L347.9,54.5 L348.4,54.5 L348.9,54.5 L349.4,54.5 L349.9,54.5 L350.4,54.51 L350.9,54.51 L351.4,54.52 L351.9,54.53 L352.4,54.53 L352.9,54.54 L353.4,54.55 L353.9,54.55 L354.4,54.56 L354.9,54.57 L355.4,54.57 L355.9,54.58 L356.4,54.59 L356.9,54.59 L357.4,54.6 L357.9,54.61 L358.4,54.61 L358.9,54.62 L359.4,54.63 L359.9,54.63 L360.4,54.64 L360.9,54.65 L361.4,54.65 L361.9,54.66 L362.4,54.67 L362.9,54.67 L363.4,54.68 L363.9,54.69 L364.4,54.69 L364.9,54.7 L365.4,54.71 L365.9,54.73 L366.4,54.74 L366.9,54.76 L367.4,54.77 L367.9,54.78 L368.4,54.8 L368.9,54.81 L369.4,54.83 L369.9,54.84 L370.4,54.86 L370.9,54.87 L371.4,54.88 L371.9,54.9 L372.4,54.92 L372.9,54.94 L373.4,54.97 L373.9,54.99 L374.4,55.02 L374.9,55.04 L375.4,55.06 L375.9,55.09 L376.4,55.11 L376.9,55.17 L377.4,55.38 L377.9,55.85 L378.3,57.5 L378.3,57.5 L377.9,59.15 L377.4,59.62 L376.9,59.83 L376.4,59.89 L375.9,59.91 L375.4,59.94 L374.9,59.96 L374.4,59.98 L373.9,60.01 L373.4,60.03 L372.9,60.06 L372.4,60.08 L371.9,60.1 L371.4,60.12 L370.9,60.13 L370.4,60.14 L369.9,60.16 L369.4,60.17 L368.9,60.19 L368.4,60.2 L367.9,60.22 L367.4,60.23 L366.9,60.24 L366.4,60.26 L365.9,60.27 L365.4,60.29 L364.9,60.3 L364.4,60.31 L363.9,60.31 L363.4,60.32 L362.9,60.33 L362.4,60.33 L361.9,60.34 L361.4,60.35 L360.9,60.35 L360.4,60.36 L359.9,60.37 L359.4,60.37 L358.9,60.38 L358.4,60.39 L357.9,60.39 L357.4,60.4 L356.9,60.41 L356.4,60.41 L355.9,60.42 L355.4,60.43 L354.9,60.43 L354.4,60.44 L353.9,60.45 L353.4,60.45 L352.9,60.46 L352.4,60.47 L351.9,60.47 L351.4,60.48 L350.9,60.49 L350.4,60.49 L349.9,60.5 L349.4,60.5 L348.9,60.5 L348.4,60.5 L347.9,60.5 L347.4,60.5 L346.9,60.5 L346.4,60.5 L345.9,60.5 L345.4,60.5 L344.9,60.5 L344.4,60.5 L343.9,60.5 L343.4,60.5 L342.9,60.5 L342.4,60.5 L341.9,60.5 L341.4,60.5 L340.9,60.5 L340.4,60.5 L339.9,60.5 L339.4,60.5 L338.9,60.5 L338.4,60.5 L337.9,60.5 L337.4,60.5 L336.9,60.5 L336.4,60.5 L335.9,60.5 L335.4,60.5 L334.9,60.5 L334.4,60.51 L333.9,60.53 L333.4,60.54 L332.9,60.55 L332.4,60.56 L331.9,60.58 L331.4,60.59 L330.9,60.6 L330.4,60.62 L329.9,60.63 L329.4,60.64 L328.9,60.65 L328.4,60.67 L327.9,60.77 L327.4,61.3 L326.9,61.83 L326.4,62.39 L325.9,62.96 L325.4,63.53 L324.9,64.1 L324.4,64.58 L323.9,64.9 L323.4,65.09 L322.9,65.28 L322.4,65.47 L321.9,65.67 L321.4,65.86 L320.9,66.05 L320.4,66.24 L319.9,66.42 L319.4,66.48 L318.9,66.39 L318.4,66.22 L317.9,65.98 L317.4,65.75 L316.9,65.52 L316.4,65.28 L315.9,65.05 L315.4,64.82 L314.9,64.64 L314.4,64.46 L313.9,64.28 L313.4,64.1 L312.9,63.91 L312.4,63.73 L311.9,63.55 L311.4,63.37 L310.9,63.19 L310.4,63 L309.9,62.86 L309.4,62.74 L308.9,62.62 L308.4,62.5 L307.9,62.38 L307.4,62.26 L306.9,62.14 L306.4,62.02 L305.9,61.9 L305.4,61.78 L304.9,61.67 L304.4,61.55 L303.9,61.43 L303.4,61.29 L302.9,61.15 L302.4,61.02 L301.9,60.88 L301.4,60.75 L300.9,60.61 L300.4,60.47 L299.9,60.3 L299.4,59.94 L298.9,57.5Z" fill="#ff0051"/>
<circle cx="321.5" cy="59.78" r="1.5" fill="#0084f9"/>
<circle cx="320.78" cy="60.82" r="1.5" fill="#0084f9"/>
<circle cx="320.32" cy="60.43" r="1.5" fill="#0084f9"/>
<circle cx="320.36" cy="53.29" r="1.5" fill="#6359da"/>
<circle cx="318.9" cy="52.62" r="1.5" fill="#6359da"/>
<circle cx="314.61" cy="59.56" r="1.5" fill="#bb00a0"/>
<circle cx="320.47" cy="64.19" r="1.5" fill="#bb00a0"/>
<path d="M274.7,79.45 L275.2,77.74 L275.7,77.37 L276.2,77.21 L276.7,77.18 L277.2,77.16 L277.7,77.14 L278.2,77.12 L278.7,77.1 L279.2,77.09 L279.7,77.07 L280.2,77.05 L280.7,77.03 L281.2,77.01 L281.7,76.99 L282.2,76.98 L282.7,76.96 L283.2,76.94 L283.7,76.92 L284.2,76.9 L284.7,76.89 L285.2,76.87 L285.7,76.84 L286.2,76.79 L286.7,76.74 L287.2,76.68 L287.7,76.63 L288.2,76.57 L288.7,76.52 L289.2,76.47 L289.7,76.41 L290.2,76.36 L290.7,76.31 L291.2,76.25 L291.7,76.2 L292.2,76.14 L292.7,76.09 L293.2,76.04 L293.7,75.98 L294.2,75.93 L294.7,75.88 L295.2,75.8 L295.7,75.73 L296.2,75.66 L296.7,75.59 L297.2,75.52 L297.7,75.45 L298.2,75.38 L298.7,75.31 L299.2,75.24 L299.7,75.17 L300.2,75.1 L300.7,75.03 L301.2,74.96 L301.7,74.89 L302.2,74.82 L302.7,74.75 L303.2,74.68 L303.7,74.6 L304.2,74.53 L304.7,74.46 L305.2,74.39 L305.7,74.32 L306.2,74.25 L306.7,74.18 L307.2,74.11 L307.7,74.05 L308.2,73.98 L308.7,73.92 L309.2,73.86 L309.7,73.79 L310.2,73.73 L310.7,73.66 L311.2,73.6 L311.7,73.51 L312.2,73.41 L312.7,73.3 L313.2,73.2 L313.7,73.09 L314.2,72.99 L314.7,72.88 L315.2,72.78 L315.7,72.6 L316.2,72.36 L316.7,72.12 L317.2,71.88 L317.7,71.64 L318.2,71.36 L318.7,71.08 L319.2,70.8 L319.7,70.56 L320.2,70.48 L320.7,70.53 L321.2,70.73 L321.7,71.04 L322.2,71.39 L322.7,71.74 L323.2,72.09 L323.7,72.43 L324.2,72.77 L324.7,73.11 L325.2,73.37 L325.7,73.51 L326.2,73.66 L326.7,73.8 L327.2,73.95 L327.7,74.09 L328.2,74.23 L328.7,74.35 L329.2,74.44 L329.7,74.54 L330.2,74.63 L330.7,74.72 L331.2,74.81 L331.7,74.9 L332.2,75 L332.7,75.09 L333.2,75.18 L333.7,75.25 L334.2,75.32 L334.7,75.39 L335.2,75.46 L335.7,75.53 L336.2,75.6 L336.7,75.67 L337.2,75.74 L337.7,75.81 L338.2,75.88 L338.7,75.95 L339.2,76.02 L339.7,76.09 L340.2,76.16 L340.7,76.21 L341.2,76.25 L341.7,76.3 L342.2,76.34 L342.7,76.39 L343.2,76.43 L343.7,76.48 L344.2,76.52 L344.7,76.57 L345.2,76.62 L345.7,76.66 L346.2,76.68 L346.7,76.71 L347.2,76.73 L347.7,76.75 L348.2,76.78 L348.7,76.8 L349.2,76.82 L349.7,76.85 L350.2,76.87 L350.7,76.89 L351.2,76.91 L351.7,76.94 L352.2,76.96 L352.7,76.98 L353.2,77.01 L353.7,77.03 L354.2,77.05 L354.7,77.07 L355.2,77.09 L355.7,77.12 L356.2,77.14 L356.7,77.16 L357.2,77.18 L357.7,77.31 L358.2,77.63 L358.7,78.38 L358.8,79.45 L358.8,79.45 L358.7,80.52 L358.2,81.27 L357.7,81.59 L357.2,81.72 L356.7,81.74 L356.2,81.76 L355.7,81.78 L355.2,81.81 L354.7,81.83 L354.2,81.85 L353.7,81.87 L353.2,81.89 L352.7,81.92 L352.2,81.94 L351.7,81.96 L351.2,81.99 L350.7,82.01 L350.2,82.03 L349.7,82.05 L349.2,82.08 L348.7,82.1 L348.2,82.12 L347.7,82.15 L347.2,82.17 L346.7,82.19 L346.2,82.22 L345.7,82.24 L345.2,82.28 L344.7,82.33 L344.2,82.38 L343.7,82.42 L343.2,82.47 L342.7,82.51 L342.2,82.56 L341.7,82.6 L341.2,82.65 L340.7,82.69 L340.2,82.74 L339.7,82.81 L339.2,82.88 L338.7,82.95 L338.2,83.02 L337.7,83.09 L337.2,83.16 L336.7,83.23 L336.2,83.3 L335.7,83.37 L335.2,83.44 L334.7,83.51 L334.2,83.58 L333.7,83.65 L333.2,83.72 L332.7,83.81 L332.2,83.9 L331.7,84 L331.2,84.09 L330.7,84.18 L330.2,84.27 L329.7,84.36 L329.2,84.46 L328.7,84.55 L328.2,84.67 L327.7,84.81 L327.2,84.95 L326.7,85.1 L326.2,85.24 L325.7,85.39 L325.2,85.53 L324.7,85.79 L324.2,86.13 L323.7,86.47 L323.2,86.81 L322.7,87.16 L322.2,87.51 L321.7,87.86 L321.2,88.17 L320.7,88.37 L320.2,88.42 L319.7,88.34 L319.2,88.1 L318.7,87.82 L318.2,87.54 L317.7,87.26 L317.2,87.02 L316.7,86.78 L316.2,86.54 L315.7,86.3 L315.2,86.12 L314.7,86.02 L314.2,85.91 L313.7,85.81 L313.2,85.7 L312.7,85.6 L312.2,85.49 L311.7,85.39 L311.2,85.3 L310.7,85.24 L310.2,85.17 L309.7,85.11 L309.2,85.04 L308.7,84.98 L308.2,84.92 L307.7,84.85 L307.2,84.79 L306.7,84.72 L306.2,84.65 L305.7,84.58 L305.2,84.51 L304.7,84.44 L304.2,84.37 L303.7,84.3 L303.2,84.22 L302.7,84.15 L302.2,84.08 L301.7,84.01 L301.2,83.94 L300.7,83.87 L300.2,83.8 L299.7,83.73 L299.2,83.66 L298.7,83.59 L298.2,83.52 L297.7,83.45 L297.2,83.38 L296.7,83.31 L296.2,83.24 L295.7,83.17 L295.2,83.1 L294.7,83.02 L294.2,82.97 L293.7,82.92 L293.2,82.86 L292.7,82.81 L292.2,82.76 L291.7,82.7 L291.2,82.65 L290.7,82.59 L290.2,82.54 L289.7,82.49 L289.2,82.43 L288.7,82.38 L288.2,82.33 L287.7,82.27 L287.2,82.22 L286.7,82.16 L286.2,82.11 L285.7,82.06 L285.2,82.03 L284.7,82.01 L284.2,82 L283.7,81.98 L283.2,81.96 L282.7,81.94 L282.2,81.92 L281.7,81.91 L281.2,81.89 L280.7,81.87 L280.2,81.85 L279.7,81.83 L279.2,81.81 L278.7,81.8 L278.2,81.78 L277.7,81.76 L277.2,81.74 L276.7,81.72 L276.2,81.69 L275.7,81.53 L275.2,81.16 L274.7,79.45Z" fill="url(#g3)"/>
<circle cx="332.33" cy="78.33" r="1.5" fill="#9b23ad"/>
<circle cx="325.79" cy="80.81" r="1.5" fill="#9b23ad"/>
<circle cx="320.34" cy="78.9" r="1.5" fill="#9b23ad"/>
<circle cx="322.52" cy="75.13" r="1.5" fill="#9b23ad"/>
<circle cx="320.88" cy="83.09" r="1.5" fill="#9b23ad"/>
<circle cx="321.94" cy="76.4" r="1.5" fill="#9b23ad"/>
<circle cx="321.13" cy="84.36" r="1.5" fill="#0084f9"/>
<circle cx="318.64" cy="78.81" r="1.5" fill="#0084f9"/>
<circle cx="322.4" cy="83.84" r="1.5" fill="#0084f9"/>
<circle cx="366.7" cy="79.45" r="1.8" fill="#ff0051"/>
<circle cx="290.3" cy="101.4" r="1.8" fill="#008bfb"/>
<circle cx="295" cy="101.4" r="1.8" fill="#008bfb"/>
<path d="M298.2,101.4 L298.7,99.02 L299.2,98.65 L299.7,98.49 L300.2,98.37 L300.7,98.25 L301.2,98.13 L301.7,98.01 L302.2,97.88 L302.7,97.76 L303.2,97.64 L303.7,97.52 L304.2,97.35 L304.7,97.15 L305.2,96.95 L305.7,96.75 L306.2,96.56 L306.7,96.36 L307.2,96.16 L307.7,95.96 L308.2,95.76 L308.7,95.34 L309.2,94.9 L309.7,94.46 L310.2,94.09 L310.7,93.83 L311.2,93.56 L311.7,93.3 L312.2,93.04 L312.7,92.88 L313.2,92.86 L313.7,92.93 L314.2,93.13 L314.7,93.35 L315.2,93.58 L315.7,93.81 L316.2,94.04 L316.7,94.36 L317.2,94.88 L317.7,95.4 L318.2,95.92 L318.7,96.45 L319.2,96.78 L319.7,97.03 L320.2,97.27 L320.7,97.51 L321.2,97.73 L321.7,97.09 L322.2,96.46 L322.7,95.84 L323.2,95.23 L323.7,94.61 L324.2,94 L324.7,93.52 L325.2,93.27 L325.7,93.13 L326.2,92.99 L326.7,92.85 L327.2,92.71 L327.7,92.57 L328.2,92.43 L328.7,92.28 L329.2,92.15 L329.7,92.14 L330.2,92.22 L330.7,92.41 L331.2,92.62 L331.7,92.83 L332.2,93.03 L332.7,93.24 L333.2,93.56 L333.7,93.99 L334.2,94.43 L334.7,94.86 L335.2,95.3 L335.7,95.72 L336.2,96.13 L336.7,96.54 L337.2,96.95 L337.7,97.32 L338.2,97.61 L338.7,97.83 L339.2,97.76 L339.7,97.7 L340.2,97.64 L340.7,97.62 L341.2,97.73 L341.7,97.94 L342.2,98.18 L342.7,98.43 L343.2,98.89 L343.7,101.4 L343.7,101.4 L343.2,103.91 L342.7,104.37 L342.2,104.62 L341.7,104.86 L341.2,105.07 L340.7,105.18 L340.2,105.16 L339.7,105.1 L339.2,105.04 L338.7,104.97 L338.2,105.19 L337.7,105.48 L337.2,105.85 L336.7,106.26 L336.2,106.67 L335.7,107.08 L335.2,107.5 L334.7,107.94 L334.2,108.37 L333.7,108.81 L333.2,109.24 L332.7,109.56 L332.2,109.77 L331.7,109.97 L331.2,110.18 L330.7,110.39 L330.2,110.58 L329.7,110.66 L329.2,110.65 L328.7,110.52 L328.2,110.37 L327.7,110.23 L327.2,110.09 L326.7,109.95 L326.2,109.81 L325.7,109.67 L325.2,109.53 L324.7,109.28 L324.2,108.8 L323.7,108.19 L323.2,107.57 L322.7,106.96 L322.2,106.34 L321.7,105.71 L321.2,105.07 L320.7,105.29 L320.2,105.53 L319.7,105.77 L319.2,106.02 L318.7,106.35 L318.2,106.88 L317.7,107.4 L317.2,107.92 L316.7,108.44 L316.2,108.76 L315.7,108.99 L315.2,109.22 L314.7,109.45 L314.2,109.67 L313.7,109.87 L313.2,109.94 L312.7,109.92 L312.2,109.76 L311.7,109.5 L311.2,109.24 L310.7,108.97 L310.2,108.71 L309.7,108.34 L309.2,107.9 L308.7,107.46 L308.2,107.04 L307.7,106.84 L307.2,106.64 L306.7,106.44 L306.2,106.24 L305.7,106.05 L305.2,105.85 L304.7,105.65 L304.2,105.45 L303.7,105.28 L303.2,105.16 L302.7,105.04 L302.2,104.92 L301.7,104.79 L301.2,104.67 L300.7,104.55 L300.2,104.43 L299.7,104.31 L299.2,104.15 L298.7,103.78 L298.2,101.4Z" fill="url(#g4)"/>
<circle cx="315.29" cy="105.62" r="1.5" fill="#0084f9"/>
<circle cx="307.18" cy="100.84" r="1.5" fill="#0084f9"/>
<circle cx="308.38" cy="104.3" r="1.5" fill="#0084f9"/>
<circle cx="317.37" cy="98.78" r="1.5" fill="#0084f9"/>
<circle cx="305.64" cy="99.96" r="1.5" fill="#0084f9"/>
<circle cx="306.5" cy="101.31" r="1.5" fill="#0084f9"/>
<circle cx="313.07" cy="98.18" r="1.5" fill="#ab15a7"/>
<circle cx="306.05" cy="100.94" r="1.5" fill="#ab15a7"/>
<circle cx="310.43" cy="102.09" r="1.5" fill="#ab15a7"/>
<circle cx="317.44" cy="102.8" r="1.5" fill="#ab15a7"/>
<circle cx="312.19" cy="102.89" r="1.5" fill="#ab15a7"/>
<circle cx="327.73" cy="95.18" r="1.5" fill="#e00086"/>
<circle cx="329.3" cy="105.55" r="1.5" fill="#e00086"/>
<circle cx="329.12" cy="105.79" r="1.5" fill="#e00086"/>
<path d="M302.6,123.35 L303.1,121.3 L303.6,120.93 L304.1,120.77 L304.6,120.73 L305.1,120.7 L305.6,120.67 L306.1,120.64 L306.6,120.61 L307.1,120.58 L307.6,120.4 L308.1,120.2 L308.6,119.99 L309.1,119.78 L309.6,119.41 L310.1,119.04 L310.6,118.67 L311.1,118.3 L311.6,117.92 L312.1,117.53 L312.6,117.14 L313.1,116.76 L313.6,116.37 L314.1,115.98 L314.6,115.64 L315.1,115.42 L315.6,115.2 L316.1,114.98 L316.6,114.76 L317.1,114.54 L317.6,114.33 L318.1,114.16 L318.6,114.08 L319.1,114.14 L319.6,114.35 L320.1,114.64 L320.6,114.93 L321.1,115.22 L321.6,115.51 L322.1,115.8 L322.6,116.09 L323.1,116.55 L323.6,117.28 L324.1,118.05 L324.6,118.86 L325.1,119.77 L325.6,119.97 L326.1,120.01 L326.6,120.06 L327.1,120.1 L327.6,120.14 L328.1,120.18 L328.6,120.23 L329.1,120.27 L329.6,120.31 L330.1,120.35 L330.6,120.36 L331.1,120.36 L331.6,120.36 L332.1,120.37 L332.6,120.37 L333.1,120.37 L333.6,120.38 L334.1,120.38 L334.6,120.38 L335.1,120.39 L335.6,120.39 L336.1,120.39 L336.6,120.4 L337.1,120.4 L337.6,120.4 L338.1,120.41 L338.6,120.41 L339.1,120.41 L339.6,120.42 L340.1,120.42 L340.6,120.42 L341.1,120.43 L341.6,120.43 L342.1,120.43 L342.6,120.44 L343.1,120.44 L343.6,120.44 L344.1,120.45 L344.6,120.45 L345.1,120.45 L345.6,120.46 L346.1,120.47 L346.6,120.47 L347.1,120.48 L347.6,120.49 L348.1,120.49 L348.6,120.5 L349.1,120.51 L349.6,120.51 L350.1,120.52 L350.6,120.53 L351.1,120.53 L351.6,120.54 L352.1,120.55 L352.6,120.55 L353.1,120.56 L353.6,120.57 L354.1,120.57 L354.6,120.58 L355.1,120.59 L355.6,120.59 L356.1,120.6 L356.6,120.61 L357.1,120.61 L357.6,120.62 L358.1,120.63 L358.6,120.63 L359.1,120.64 L359.6,120.65 L360.1,120.66 L360.6,120.67 L361.1,120.69 L361.6,120.71 L362.1,120.72 L362.6,120.74 L363.1,120.76 L363.6,120.77 L364.1,120.79 L364.6,120.81 L365.1,120.82 L365.6,120.84 L366.1,120.86 L366.6,120.87 L367.1,120.89 L367.6,120.91 L368.1,120.92 L368.6,120.94 L369.1,120.96 L369.6,120.97 L370.1,120.99 L370.6,121.05 L371.1,121.26 L371.6,121.72 L372,123.35 L372,123.35 L371.6,124.98 L371.1,125.44 L370.6,125.65 L370.1,125.71 L369.6,125.73 L369.1,125.74 L368.6,125.76 L368.1,125.78 L367.6,125.79 L367.1,125.81 L366.6,125.83 L366.1,125.84 L365.6,125.86 L365.1,125.88 L364.6,125.89 L364.1,125.91 L363.6,125.93 L363.1,125.94 L362.6,125.96 L362.1,125.98 L361.6,125.99 L361.1,126.01 L360.6,126.03 L360.1,126.04 L359.6,126.05 L359.1,126.06 L358.6,126.07 L358.1,126.07 L357.6,126.08 L357.1,126.09 L356.6,126.09 L356.1,126.1 L355.6,126.11 L355.1,126.11 L354.6,126.12 L354.1,126.13 L353.6,126.13 L353.1,126.14 L352.6,126.15 L352.1,126.15 L351.6,126.16 L351.1,126.17 L350.6,126.17 L350.1,126.18 L349.6,126.19 L349.1,126.19 L348.6,126.2 L348.1,126.21 L347.6,126.21 L347.1,126.22 L346.6,126.23 L346.1,126.23 L345.6,126.24 L345.1,126.25 L344.6,126.25 L344.1,126.25 L343.6,126.26 L343.1,126.26 L342.6,126.26 L342.1,126.27 L341.6,126.27 L341.1,126.27 L340.6,126.28 L340.1,126.28 L339.6,126.28 L339.1,126.29 L338.6,126.29 L338.1,126.29 L337.6,126.3 L337.1,126.3 L336.6,126.3 L336.1,126.31 L335.6,126.31 L335.1,126.31 L334.6,126.32 L334.1,126.32 L333.6,126.32 L333.1,126.33 L332.6,126.33 L332.1,126.33 L331.6,126.34 L331.1,126.34 L330.6,126.34 L330.1,126.35 L329.6,126.39 L329.1,126.43 L328.6,126.47 L328.1,126.52 L327.6,126.56 L327.1,126.6 L326.6,126.64 L326.1,126.69 L325.6,126.73 L325.1,126.93 L324.6,127.84 L324.1,128.65 L323.6,129.42 L323.1,130.15 L322.6,130.61 L322.1,130.9 L321.6,131.19 L321.1,131.48 L320.6,131.77 L320.1,132.06 L319.6,132.35 L319.1,132.56 L318.6,132.62 L318.1,132.54 L317.6,132.37 L317.1,132.16 L316.6,131.94 L316.1,131.72 L315.6,131.5 L315.1,131.28 L314.6,131.06 L314.1,130.72 L313.6,130.33 L313.1,129.94 L312.6,129.56 L312.1,129.17 L311.6,128.78 L311.1,128.4 L310.6,128.03 L310.1,127.66 L309.6,127.29 L309.1,126.92 L308.6,126.71 L308.1,126.5 L307.6,126.3 L307.1,126.12 L306.6,126.09 L306.1,126.06 L305.6,126.03 L305.1,126 L304.6,125.97 L304.1,125.93 L303.6,125.77 L303.1,125.4 L302.6,123.35Z" fill="url(#g5)"/>
<circle cx="310.71" cy="122.84" r="1.5" fill="#ff0051"/>
<circle cx="307.24" cy="123.61" r="1.5" fill="#ff0051"/>
<circle cx="306.75" cy="122.53" r="1.5" fill="#ff0051"/>
<circle cx="308.51" cy="122.42" r="1.5" fill="#ff0051"/>
<circle cx="315.4" cy="117.89" r="1.5" fill="#9b23ad"/>
<circle cx="312" cy="120.92" r="1.5" fill="#9b23ad"/>
<circle cx="313.01" cy="122.19" r="1.5" fill="#9b23ad"/>
<circle cx="312.26" cy="126.1" r="1.5" fill="#9b23ad"/>
<circle cx="320.46" cy="118.84" r="1.5" fill="#0084f9"/>
<circle cx="319.01" cy="121.13" r="1.5" fill="#0084f9"/>
<circle cx="377.1" cy="123.35" r="1.8" fill="#ff0051"/>
<line x1="244.7" y1="145.3" x2="384" y2="145.3" stroke="#333" stroke-width="1"/>
<line x1="246.3" y1="145.3" x2="246.3" y2="148.5" stroke="#333" stroke-width="1"/>
<text x="246.3" y="159.6" font-size="10.7" text-anchor="middle" fill="#333" stroke="#333" stroke-width="0.12">−0.50</text>
<line x1="285.5" y1="145.3" x2="285.5" y2="148.5" stroke="#333" stroke-width="1"/>
<text x="285.5" y="159.6" font-size="10.7" text-anchor="middle" fill="#333" stroke="#333" stroke-width="0.12">−0.25</text>
<line x1="324.6" y1="145.3" x2="324.6" y2="148.5" stroke="#333" stroke-width="1"/>
<text x="324.6" y="159.6" font-size="10.7" text-anchor="middle" fill="#333" stroke="#333" stroke-width="0.12">0.00</text>
<line x1="363.8" y1="145.3" x2="363.8" y2="148.5" stroke="#333" stroke-width="1"/>
<text x="363.8" y="159.6" font-size="10.7" text-anchor="middle" fill="#333" stroke="#333" stroke-width="0.12">0.25</text>
<text x="223" y="40.15" font-size="12.4" text-anchor="end" fill="#333" stroke="#333" stroke-width="0.12">2</text>
<text x="223" y="62.1" font-size="12.4" text-anchor="end" fill="#333" stroke="#333" stroke-width="0.12">5</text>
<text x="223" y="84.05" font-size="12.4" text-anchor="end" fill="#333" stroke="#333" stroke-width="0.12">3</text>
<text x="223" y="106" font-size="12.4" text-anchor="end" fill="#333" stroke="#333" stroke-width="0.12">1</text>
<text x="223" y="127.95" font-size="12.4" text-anchor="end" fill="#333" stroke="#333" stroke-width="0.12">4</text>
<text x="314.35" y="8.9" font-size="10.7" text-anchor="middle" fill="#000" stroke="#000" stroke-width="0.12" textLength="81.8" lengthAdjust="spacingAndGlyphs">L-R-RCPE-RCPE</text>
<rect x="392.2" y="13.6" width="1.9" height="131.1" fill="url(#cb)"/>
<text x="397.9" y="17.6" font-size="10.7" text-anchor="start" fill="#111" stroke="#111" stroke-width="0.12">High</text>
<text x="397.9" y="149" font-size="10.7" text-anchor="start" fill="#111" stroke="#111" stroke-width="0.12">Low</text>
<line x1="531.1" y1="13.6" x2="531.1" y2="26.05" stroke="#999" stroke-width="1"/>
<line x1="531.1" y1="132.35" x2="531.1" y2="145.3" stroke="#999" stroke-width="1"/>
<path d="M511,34.54 L511.5,33.3 L512,32.93 L512.5,32.77 L513,32.68 L513.5,32.6 L514,32.51 L514.5,32.43 L515,32.34 L515.5,32.16 L516,31.92 L516.5,31.69 L517,31.45 L517.5,31.22 L518,30.99 L518.5,30.75 L519,30.52 L519.5,30.28 L520,29.94 L520.5,29.59 L521,29.25 L521.5,28.9 L522,28.56 L522.5,28.24 L523,27.92 L523.5,27.6 L524,27.28 L524.5,27.03 L525,26.91 L525.5,26.89 L526,27.01 L526.5,27.17 L527,27.32 L527.5,27.47 L528,27.63 L528.5,27.95 L529,28.43 L529.5,29.66 L530,31.16 L530.5,32.36 L531,32.55 L531.5,32.55 L532,32.55 L532.5,32.55 L533,32.55 L533.5,32.55 L534,32.55 L534.5,32.55 L535,32.55 L535.5,32.55 L536,32.55 L536.5,32.55 L537,32.55 L537.5,32.55 L538,32.55 L538.5,32.55 L539,32.55 L539.5,32.55 L540,32.55 L540.5,32.55 L541,32.55 L541.5,32.55 L542,32.55 L542.5,32.55 L543,32.55 L543.5,32.55 L544,32.55 L544.5,32.55 L545,32.55 L545.5,32.55 L546,32.55 L546.5,32.55 L547,32.55 L547.5,32.55 L548,32.55 L548.5,32.55 L549,32.55 L549.5,32.55 L550,32.55 L550.5,32.56 L551,32.57 L551.5,32.58 L552,32.59 L552.5,32.6 L553,32.61 L553.5,32.62 L554,32.63 L554.5,32.64 L555,32.65 L555.5,32.66 L556,32.67 L556.5,32.68 L557,32.69 L557.5,32.7 L558,32.71 L558.5,32.72 L559,32.73 L559.5,32.74 L560,32.75 L560.5,32.76 L561,32.77 L561.5,32.78 L562,32.79 L562.5,32.8 L563,32.81 L563.5,32.82 L564,32.83 L564.5,32.84 L565,32.85 L565.5,32.86 L566,32.86 L566.5,32.87 L567,32.88 L567.5,32.88 L568,32.89 L568.5,32.9 L569,32.9 L569.5,32.91 L570,32.92 L570.5,32.92 L571,32.93 L571.5,32.94 L572,32.94 L572.5,32.95 L573,32.96 L573.5,32.96 L574,32.97 L574.5,32.98 L575,32.98 L575.5,32.99 L576,33 L576.5,33 L577,33.01 L577.5,33.02 L578,33.02 L578.5,33.03 L579,33.04 L579.5,33.04 L580,33.05 L580.5,33.07 L581,33.09 L581.5,33.1 L582,33.12 L582.5,33.14 L583,33.15 L583.5,33.17 L584,33.19 L584.5,33.21 L585,33.22 L585.5,33.24 L586,33.26 L586.5,33.27 L587,33.29 L587.5,33.42 L588,33.74 L588.5,34.49 L588.8,35.55 L588.8,35.55 L588.5,36.61 L588,37.36 L587.5,37.68 L587,37.81 L586.5,37.83 L586,37.84 L585.5,37.86 L585,37.88 L584.5,37.89 L584,37.91 L583.5,37.93 L583,37.95 L582.5,37.96 L582,37.98 L581.5,38 L581,38.01 L580.5,38.03 L580,38.05 L579.5,38.06 L579,38.06 L578.5,38.07 L578,38.08 L577.5,38.08 L577,38.09 L576.5,38.1 L576,38.1 L575.5,38.11 L575,38.12 L574.5,38.12 L574,38.13 L573.5,38.14 L573,38.14 L572.5,38.15 L572,38.16 L571.5,38.16 L571,38.17 L570.5,38.18 L570,38.18 L569.5,38.19 L569,38.2 L568.5,38.2 L568,38.21 L567.5,38.22 L567,38.22 L566.5,38.23 L566,38.24 L565.5,38.24 L565,38.25 L564.5,38.26 L564,38.27 L563.5,38.28 L563,38.29 L562.5,38.3 L562,38.31 L561.5,38.32 L561,38.33 L560.5,38.34 L560,38.35 L559.5,38.36 L559,38.37 L558.5,38.38 L558,38.39 L557.5,38.4 L557,38.41 L556.5,38.42 L556,38.43 L555.5,38.44 L555,38.45 L554.5,38.46 L554,38.47 L553.5,38.48 L553,38.49 L552.5,38.5 L552,38.51 L551.5,38.52 L551,38.53 L550.5,38.54 L550,38.55 L549.5,38.55 L549,38.55 L548.5,38.55 L548,38.55 L547.5,38.55 L547,38.55 L546.5,38.55 L546,38.55 L545.5,38.55 L545,38.55 L544.5,38.55 L544,38.55 L543.5,38.55 L543,38.55 L542.5,38.55 L542,38.55 L541.5,38.55 L541,38.55 L540.5,38.55 L540,38.55 L539.5,38.55 L539,38.55 L538.5,38.55 L538,38.55 L537.5,38.55 L537,38.55 L536.5,38.55 L536,38.55 L535.5,38.55 L535,38.55 L534.5,38.55 L534,38.55 L533.5,38.55 L533,38.55 L532.5,38.55 L532,38.55 L531.5,38.55 L531,38.55 L530.5,38.74 L530,39.94 L529.5,41.44 L529,42.67 L528.5,43.15 L528,43.47 L527.5,43.63 L527,43.78 L526.5,43.93 L526,44.09 L525.5,44.21 L525,44.19 L524.5,44.07 L524,43.82 L523.5,43.5 L523,43.18 L522.5,42.86 L522,42.54 L521.5,42.2 L521,41.85 L520.5,41.51 L520,41.16 L519.5,40.82 L519,40.58 L518.5,40.35 L518,40.11 L517.5,39.88 L517,39.65 L516.5,39.41 L516,39.18 L515.5,38.94 L515,38.76 L514.5,38.67 L514,38.59 L513.5,38.5 L513,38.42 L512.5,38.33 L512,38.17 L511.5,37.8 L511,36.56Z" fill="#ff0051"/>
<circle cx="526.09" cy="39.77" r="1.5" fill="#6359da"/>
<circle cx="527.55" cy="40.99" r="1.5" fill="#6359da"/>
<circle cx="526.4" cy="41.25" r="1.5" fill="#0084f9"/>
<circle cx="593.9" cy="35.55" r="1.8" fill="#ff0051"/>
<path d="M465.9,57.5 L466.4,55.94 L466.9,55.57 L467.4,55.41 L467.9,55.39 L468.4,55.38 L468.9,55.38 L469.4,55.38 L469.9,55.37 L470.4,55.37 L470.9,55.36 L471.4,55.36 L471.9,55.36 L472.4,55.35 L472.9,55.35 L473.4,55.35 L473.9,55.34 L474.4,55.34 L474.9,55.34 L475.4,55.33 L475.9,55.33 L476.4,55.33 L476.9,55.32 L477.4,55.32 L477.9,55.32 L478.4,55.31 L478.9,55.31 L479.4,55.3 L479.9,55.3 L480.4,55.3 L480.9,55.29 L481.4,55.29 L481.9,55.29 L482.4,55.28 L482.9,55.28 L483.4,55.27 L483.9,55.27 L484.4,55.27 L484.9,55.26 L485.4,55.26 L485.9,55.26 L486.4,55.25 L486.9,55.25 L487.4,55.25 L487.9,55.24 L488.4,55.24 L488.9,55.23 L489.4,55.23 L489.9,55.23 L490.4,55.22 L490.9,55.22 L491.4,55.22 L491.9,55.21 L492.4,55.21 L492.9,55.2 L493.4,55.2 L493.9,55.19 L494.4,55.18 L494.9,55.17 L495.4,55.16 L495.9,55.15 L496.4,55.14 L496.9,55.13 L497.4,55.12 L497.9,55.11 L498.4,55.1 L498.9,55.1 L499.4,55.09 L499.9,55.08 L500.4,55.07 L500.9,55.06 L501.4,55.05 L501.9,55.04 L502.4,55.03 L502.9,55.02 L503.4,55.01 L503.9,55 L504.4,54.99 L504.9,54.98 L505.4,54.97 L505.9,54.96 L506.4,54.95 L506.9,54.94 L507.4,54.93 L507.9,54.92 L508.4,54.91 L508.9,54.91 L509.4,54.86 L509.9,54.8 L510.4,54.74 L510.9,54.68 L511.4,54.61 L511.9,54.55 L512.4,54.49 L512.9,54.43 L513.4,54.36 L513.9,54.3 L514.4,54.23 L514.9,54.17 L515.4,54.1 L515.9,54.03 L516.4,53.97 L516.9,53.91 L517.4,53.88 L517.9,53.86 L518.4,53.85 L518.9,53.83 L519.4,53.81 L519.9,53.79 L520.4,53.77 L520.9,53.75 L521.4,53.73 L521.9,53.71 L522.4,53.69 L522.9,53.67 L523.4,53.66 L523.9,53.64 L524.4,53.62 L524.9,53.6 L525.4,53.63 L525.9,53.67 L526.4,53.71 L526.9,53.74 L527.4,53.78 L527.9,53.82 L528.4,53.85 L528.9,53.89 L529.4,53.94 L529.9,54.01 L530.4,53.98 L530.9,53.24 L531.4,52.5 L531.9,51.76 L532.4,51.21 L532.9,50.8 L533.4,50.43 L533.9,50.05 L534.4,49.68 L534.9,49.41 L535.4,49.21 L535.9,49.01 L536.4,48.81 L536.9,48.61 L537.4,48.49 L537.9,48.41 L538.4,48.33 L538.9,48.25 L539.4,48.17 L539.9,48.11 L540.4,48.1 L540.9,48.1 L541.4,48.1 L541.9,48.1 L542.4,48.11 L542.9,48.24 L543.4,48.56 L543.9,48.95 L544.4,49.34 L544.9,49.73 L545.4,50.16 L545.9,50.66 L546.4,51.16 L546.9,51.66 L547.4,52.16 L547.9,52.66 L548.4,53.16 L548.9,53.68 L549.3,57.5 L549.3,57.5 L548.9,61.32 L548.4,61.84 L547.9,62.34 L547.4,62.84 L546.9,63.34 L546.4,63.84 L545.9,64.34 L545.4,64.84 L544.9,65.27 L544.4,65.66 L543.9,66.05 L543.4,66.44 L542.9,66.76 L542.4,66.89 L541.9,66.9 L541.4,66.9 L540.9,66.9 L540.4,66.9 L539.9,66.89 L539.4,66.83 L538.9,66.75 L538.4,66.67 L537.9,66.59 L537.4,66.51 L536.9,66.39 L536.4,66.19 L535.9,65.99 L535.4,65.79 L534.9,65.59 L534.4,65.32 L533.9,64.95 L533.4,64.57 L532.9,64.2 L532.4,63.79 L531.9,63.24 L531.4,62.5 L530.9,61.76 L530.4,61.02 L529.9,60.99 L529.4,61.06 L528.9,61.11 L528.4,61.15 L527.9,61.18 L527.4,61.22 L526.9,61.26 L526.4,61.29 L525.9,61.33 L525.4,61.37 L524.9,61.4 L524.4,61.38 L523.9,61.36 L523.4,61.34 L522.9,61.33 L522.4,61.31 L521.9,61.29 L521.4,61.27 L520.9,61.25 L520.4,61.23 L519.9,61.21 L519.4,61.19 L518.9,61.17 L518.4,61.15 L517.9,61.14 L517.4,61.12 L516.9,61.09 L516.4,61.03 L515.9,60.97 L515.4,60.9 L514.9,60.83 L514.4,60.77 L513.9,60.7 L513.4,60.64 L512.9,60.57 L512.4,60.51 L511.9,60.45 L511.4,60.39 L510.9,60.32 L510.4,60.26 L509.9,60.2 L509.4,60.14 L508.9,60.09 L508.4,60.09 L507.9,60.08 L507.4,60.07 L506.9,60.06 L506.4,60.05 L505.9,60.04 L505.4,60.03 L504.9,60.02 L504.4,60.01 L503.9,60 L503.4,59.99 L502.9,59.98 L502.4,59.97 L501.9,59.96 L501.4,59.95 L500.9,59.94 L500.4,59.93 L499.9,59.92 L499.4,59.91 L498.9,59.9 L498.4,59.9 L497.9,59.89 L497.4,59.88 L496.9,59.87 L496.4,59.86 L495.9,59.85 L495.4,59.84 L494.9,59.83 L494.4,59.82 L493.9,59.81 L493.4,59.8 L492.9,59.8 L492.4,59.79 L491.9,59.79 L491.4,59.78 L490.9,59.78 L490.4,59.78 L489.9,59.77 L489.4,59.77 L488.9,59.77 L488.4,59.76 L487.9,59.76 L487.4,59.75 L486.9,59.75 L486.4,59.75 L485.9,59.74 L485.4,59.74 L484.9,59.74 L484.4,59.73 L483.9,59.73 L483.4,59.73 L482.9,59.72 L482.4,59.72 L481.9,59.71 L481.4,59.71 L480.9,59.71 L480.4,59.7 L479.9,59.7 L479.4,59.7 L478.9,59.69 L478.4,59.69 L477.9,59.68 L477.4,59.68 L476.9,59.68 L476.4,59.67 L475.9,59.67 L475.4,59.67 L474.9,59.66 L474.4,59.66 L473.9,59.66 L473.4,59.65 L472.9,59.65 L472.4,59.65 L471.9,59.64 L471.4,59.64 L470.9,59.64 L470.4,59.63 L469.9,59.63 L469.4,59.62 L468.9,59.62 L468.4,59.62 L467.9,59.61 L467.4,59.59 L466.9,59.43 L466.4,59.06 L465.9,57.5Z" fill="url(#g6)"/>
<circle cx="534.86" cy="58.04" r="1.5" fill="#ff0051"/>
<circle cx="537.43" cy="59.21" r="1.5" fill="#ff0051"/>
<circle cx="542.29" cy="58.59" r="1.5" fill="#ff0051"/>
<circle cx="534.23" cy="62.16" r="1.5" fill="#ff0051"/>
<circle cx="539.28" cy="58.49" r="1.5" fill="#ff0051"/>
<circle cx="541.43" cy="50.31" r="1.5" fill="#0084f9"/>
<circle cx="541.28" cy="64.77" r="1.5" fill="#0084f9"/>
<circle cx="544.63" cy="59.68" r="1.5" fill="#0084f9"/>
<circle cx="537.13" cy="55.62" r="1.5" fill="#e9007c"/>
<circle cx="536" cy="61.09" r="1.5" fill="#e9007c"/>
<circle cx="540.39" cy="61.74" r="1.5" fill="#e9007c"/>
<path d="M472.2,79.45 L472.7,77.79 L473.2,77.43 L473.7,77.27 L474.2,77.24 L474.7,77.24 L475.2,77.23 L475.7,77.23 L476.2,77.23 L476.7,77.23 L477.2,77.22 L477.7,77.22 L478.2,77.22 L478.7,77.21 L479.2,77.21 L479.7,77.21 L480.2,77.21 L480.7,77.2 L481.2,77.2 L481.7,77.2 L482.2,77.19 L482.7,77.19 L483.2,77.19 L483.7,77.19 L484.2,77.18 L484.7,77.18 L485.2,77.18 L485.7,77.17 L486.2,77.17 L486.7,77.17 L487.2,77.17 L487.7,77.16 L488.2,77.16 L488.7,77.16 L489.2,77.15 L489.7,77.15 L490.2,77.15 L490.7,77.15 L491.2,77.14 L491.7,77.14 L492.2,77.14 L492.7,77.14 L493.2,77.13 L493.7,77.13 L494.2,77.13 L494.7,77.13 L495.2,77.12 L495.7,77.12 L496.2,77.12 L496.7,77.12 L497.2,77.11 L497.7,77.11 L498.2,77.11 L498.7,77.11 L499.2,77.1 L499.7,77.1 L500.2,77.1 L500.7,77.1 L501.2,77.09 L501.7,77.09 L502.2,77.09 L502.7,77.09 L503.2,77.08 L503.7,77.08 L504.2,77.08 L504.7,77.08 L505.2,77.07 L505.7,77.07 L506.2,77.07 L506.7,77.07 L507.2,77.06 L507.7,77.06 L508.2,77.06 L508.7,77.06 L509.2,77.05 L509.7,77.05 L510.2,77.05 L510.7,77.04 L511.2,77.04 L511.7,77.04 L512.2,77.03 L512.7,77.03 L513.2,77.02 L513.7,77.02 L514.2,77.01 L514.7,77.01 L515.2,77.01 L515.7,77 L516.2,77 L516.7,76.99 L517.2,76.99 L517.7,76.98 L518.2,76.98 L518.7,76.98 L519.2,76.97 L519.7,76.97 L520.2,76.96 L520.7,76.96 L521.2,76.95 L521.7,76.88 L522.2,76.73 L522.7,76.58 L523.2,76.44 L523.7,76.24 L524.2,76 L524.7,75.76 L525.2,75.51 L525.7,75.27 L526.2,75.02 L526.7,74.78 L527.2,74.54 L527.7,74.36 L528.2,74.21 L528.7,74.06 L529.2,73.91 L529.7,73.76 L530.2,73.61 L530.7,73.46 L531.2,73.14 L531.7,72.57 L532.2,72.01 L532.7,71.57 L533.2,71.13 L533.7,70.69 L534.2,70.33 L534.7,70.16 L535.2,70.09 L535.7,70.15 L536.2,70.3 L536.7,70.44 L537.2,70.59 L537.7,70.73 L538.2,70.89 L538.7,71.21 L539.2,71.89 L539.7,72.69 L540.2,73.49 L540.7,74.3 L541.2,75.09 L541.7,75.55 L542.2,76.01 L542.7,76.47 L543.2,76.69 L543.7,76.72 L544.2,76.74 L544.7,76.76 L545.2,76.78 L545.7,76.8 L546.2,76.82 L546.7,76.84 L547.2,76.86 L547.7,76.89 L548.2,76.93 L548.7,76.96 L549.2,76.99 L549.7,77.02 L550.2,77.09 L550.7,77.3 L551.2,77.76 L551.6,79.45 L551.6,79.45 L551.2,81.14 L550.7,81.6 L550.2,81.81 L549.7,81.88 L549.2,81.91 L548.7,81.94 L548.2,81.97 L547.7,82.01 L547.2,82.04 L546.7,82.06 L546.2,82.08 L545.7,82.1 L545.2,82.12 L544.7,82.14 L544.2,82.16 L543.7,82.18 L543.2,82.21 L542.7,82.43 L542.2,82.89 L541.7,83.35 L541.2,83.81 L540.7,84.6 L540.2,85.41 L539.7,86.21 L539.2,87.01 L538.7,87.69 L538.2,88.01 L537.7,88.17 L537.2,88.31 L536.7,88.46 L536.2,88.6 L535.7,88.75 L535.2,88.81 L534.7,88.74 L534.2,88.57 L533.7,88.21 L533.2,87.77 L532.7,87.33 L532.2,86.89 L531.7,86.33 L531.2,85.76 L530.7,85.44 L530.2,85.29 L529.7,85.14 L529.2,84.99 L528.7,84.84 L528.2,84.69 L527.7,84.54 L527.2,84.36 L526.7,84.12 L526.2,83.88 L525.7,83.63 L525.2,83.39 L524.7,83.14 L524.2,82.9 L523.7,82.66 L523.2,82.46 L522.7,82.32 L522.2,82.17 L521.7,82.02 L521.2,81.95 L520.7,81.94 L520.2,81.94 L519.7,81.93 L519.2,81.93 L518.7,81.92 L518.2,81.92 L517.7,81.92 L517.2,81.91 L516.7,81.91 L516.2,81.9 L515.7,81.9 L515.2,81.89 L514.7,81.89 L514.2,81.89 L513.7,81.88 L513.2,81.88 L512.7,81.87 L512.2,81.87 L511.7,81.86 L511.2,81.86 L510.7,81.86 L510.2,81.85 L509.7,81.85 L509.2,81.85 L508.7,81.84 L508.2,81.84 L507.7,81.84 L507.2,81.84 L506.7,81.83 L506.2,81.83 L505.7,81.83 L505.2,81.83 L504.7,81.82 L504.2,81.82 L503.7,81.82 L503.2,81.82 L502.7,81.81 L502.2,81.81 L501.7,81.81 L501.2,81.81 L500.7,81.8 L500.2,81.8 L499.7,81.8 L499.2,81.8 L498.7,81.79 L498.2,81.79 L497.7,81.79 L497.2,81.79 L496.7,81.78 L496.2,81.78 L495.7,81.78 L495.2,81.78 L494.7,81.77 L494.2,81.77 L493.7,81.77 L493.2,81.77 L492.7,81.76 L492.2,81.76 L491.7,81.76 L491.2,81.76 L490.7,81.75 L490.2,81.75 L489.7,81.75 L489.2,81.75 L488.7,81.74 L488.2,81.74 L487.7,81.74 L487.2,81.73 L486.7,81.73 L486.2,81.73 L485.7,81.73 L485.2,81.72 L484.7,81.72 L484.2,81.72 L483.7,81.71 L483.2,81.71 L482.7,81.71 L482.2,81.71 L481.7,81.7 L481.2,81.7 L480.7,81.7 L480.2,81.69 L479.7,81.69 L479.2,81.69 L478.7,81.69 L478.2,81.68 L477.7,81.68 L477.2,81.68 L476.7,81.67 L476.2,81.67 L475.7,81.67 L475.2,81.67 L474.7,81.66 L474.2,81.66 L473.7,81.63 L473.2,81.47 L472.7,81.11 L472.2,79.45Z" fill="url(#g7)"/>
<circle cx="524.32" cy="80.07" r="1.5" fill="#ff0051"/>
<circle cx="526.25" cy="81.39" r="1.5" fill="#ff0051"/>
<circle cx="538.12" cy="83.07" r="1.5" fill="#e9007c"/>
<circle cx="537.91" cy="82.44" r="1.5" fill="#e9007c"/>
<circle cx="534.36" cy="79.7" r="1.5" fill="#e9007c"/>
<circle cx="535.13" cy="72.3" r="1.5" fill="#e9007c"/>
<circle cx="526.17" cy="78.39" r="1.5" fill="#007cf5"/>
<circle cx="527.56" cy="80.64" r="1.5" fill="#007cf5"/>
<circle cx="531.74" cy="78.98" r="1.5" fill="#007cf5"/>
<path d="M515.3,101.1 L515.8,99.86 L516.3,99.49 L516.8,99.33 L517.3,99.3 L517.8,99.3 L518.3,99.3 L518.8,99.3 L519.3,99.3 L519.8,99.3 L520.3,99.3 L520.8,99.3 L521.3,99.3 L521.8,99.3 L522.3,99.3 L522.8,99.3 L523.3,99.3 L523.8,99.3 L524.3,99.3 L524.8,99.3 L525.3,99.3 L525.8,99.3 L526.3,99.3 L526.8,99.3 L527.3,99.3 L527.8,99.3 L528.3,99.3 L528.8,99.3 L529.3,99.3 L529.8,99.3 L530.3,99.3 L530.8,99.3 L531.3,99.3 L531.8,99.3 L532.3,99.3 L532.8,99.3 L533.3,99.3 L533.8,99.3 L534.3,99.3 L534.8,99.3 L535.3,99.3 L535.8,99.3 L536.3,99.3 L536.8,99.3 L537.3,99.3 L537.8,99.3 L538.3,99.3 L538.8,99.3 L539.3,99.3 L539.8,99.3 L540.3,99.3 L540.8,99.3 L541.3,99.3 L541.8,99.3 L542.3,99.3 L542.8,99.3 L543.3,99.3 L543.8,99.3 L544.3,99.3 L544.8,99.3 L545.3,99.3 L545.8,99.3 L546.3,99.3 L546.8,99.3 L547.3,99.3 L547.8,99.3 L548.3,99.3 L548.8,99.3 L549.3,99.3 L549.8,99.36 L550.3,99.57 L550.8,100.03 L551.2,101.4 L551.2,101.4 L550.8,102.77 L550.3,103.23 L549.8,103.44 L549.3,103.5 L548.8,103.5 L548.3,103.5 L547.8,103.5 L547.3,103.5 L546.8,103.5 L546.3,103.5 L545.8,103.5 L545.3,103.5 L544.8,103.5 L544.3,103.5 L543.8,103.5 L543.3,103.5 L542.8,103.5 L542.3,103.5 L541.8,103.5 L541.3,103.5 L540.8,103.5 L540.3,103.5 L539.8,103.5 L539.3,103.5 L538.8,103.5 L538.3,103.5 L537.8,103.5 L537.3,103.5 L536.8,103.5 L536.3,103.5 L535.8,103.5 L535.3,103.5 L534.8,103.5 L534.3,103.5 L533.8,103.5 L533.3,103.5 L532.8,103.5 L532.3,103.5 L531.8,103.5 L531.3,103.5 L530.8,103.5 L530.3,103.5 L529.8,103.5 L529.3,103.5 L528.8,103.5 L528.3,103.5 L527.8,103.5 L527.3,103.5 L526.8,103.5 L526.3,103.5 L525.8,103.5 L525.3,103.5 L524.8,103.5 L524.3,103.5 L523.8,103.5 L523.3,103.5 L522.8,103.5 L522.3,103.5 L521.8,103.5 L521.3,103.5 L520.8,103.5 L520.3,103.5 L519.8,103.5 L519.3,103.5 L518.8,103.5 L518.3,103.5 L517.8,103.5 L517.3,103.5 L516.8,103.47 L516.3,103.31 L515.8,102.94 L515.3,101.7Z" fill="url(#g8)"/>
<path d="M526,98.45 L526.5,97.21 L527,96.71 L527.5,96.44 L528,96.19 L528.5,95.94 L529,95.69 L529.5,95.49 L530,95.4 L530.5,95.4 L531,95.4 L531.5,95.4 L532,95.4 L532.5,95.4 L533,95.4 L533.5,95.4 L534,95.41 L534.5,95.48 L535,95.69 L535.5,95.94 L536,96.19 L536.5,96.44 L537,96.73 L537.5,97.2 L538,101.4 L538,101.4 L537.5,105.6 L537,106.07 L536.5,106.36 L536,106.61 L535.5,106.86 L535,107.11 L534.5,107.32 L534,107.39 L533.5,107.4 L533,107.4 L532.5,107.4 L532,107.4 L531.5,107.4 L531,107.4 L530.5,107.4 L530,107.4 L529.5,107.31 L529,107.11 L528.5,106.86 L528,106.61 L527.5,106.36 L527,106.09 L526.5,105.59 L526,104.35Z" fill="#e9007c"/>
<circle cx="534.62" cy="105.2" r="1.5" fill="#6359da"/>
<circle cx="534.73" cy="100.36" r="1.5" fill="#6359da"/>
<rect x="529.6" y="91.8" width="4.8" height="19.1" rx="2.4" fill="#e60080"/>
<rect x="528.9" y="113.2" width="5.6" height="19.6" rx="2.8" fill="#0088fa"/>
<rect x="528.8" y="117" width="3.2" height="13" rx="1.6" fill="#ff0051"/>
<line x1="460.9" y1="145.3" x2="600.75" y2="145.3" stroke="#333" stroke-width="1"/>
<line x1="489.7" y1="145.3" x2="489.7" y2="148.5" stroke="#333" stroke-width="1"/>
<text x="489.7" y="159.6" font-size="10.7" text-anchor="middle" fill="#333" stroke="#333" stroke-width="0.12">−0.5</text>
<line x1="531.3" y1="145.3" x2="531.3" y2="148.5" stroke="#333" stroke-width="1"/>
<text x="531.3" y="159.6" font-size="10.7" text-anchor="middle" fill="#333" stroke="#333" stroke-width="0.12">0.0</text>
<line x1="573" y1="145.3" x2="573" y2="148.5" stroke="#333" stroke-width="1"/>
<text x="573" y="159.6" font-size="10.7" text-anchor="middle" fill="#333" stroke="#333" stroke-width="0.12">0.5</text>
<text x="439.6" y="40.15" font-size="12.4" text-anchor="end" fill="#333" stroke="#333" stroke-width="0.12">5</text>
<text x="439.6" y="62.1" font-size="12.4" text-anchor="end" fill="#333" stroke="#333" stroke-width="0.12">3</text>
<text x="439.6" y="84.05" font-size="12.4" text-anchor="end" fill="#333" stroke="#333" stroke-width="0.12">4</text>
<text x="439.6" y="106" font-size="12.4" text-anchor="end" fill="#333" stroke="#333" stroke-width="0.12">1</text>
<text x="439.6" y="127.95" font-size="12.4" text-anchor="end" fill="#333" stroke="#333" stroke-width="0.12">2</text>
<text x="530.83" y="8.9" font-size="10.7" text-anchor="middle" fill="#000" stroke="#000" stroke-width="0.12" textLength="113" lengthAdjust="spacingAndGlyphs">L-R-RCPE-RCPE-RCPE</text>
<rect x="609.1" y="13.6" width="1.9" height="131.1" fill="url(#cb)"/>
<text x="614.3" y="17.6" font-size="10.7" text-anchor="start" fill="#111" stroke="#111" stroke-width="0.12">High</text>
<text x="614.3" y="149" font-size="10.7" text-anchor="start" fill="#111" stroke="#111" stroke-width="0.12">Low</text>
<line x1="108.6" y1="185.8" x2="108.6" y2="198.25" stroke="#999" stroke-width="1"/>
<line x1="108.6" y1="304.55" x2="108.6" y2="317.5" stroke="#999" stroke-width="1"/>
<path d="M33,207.3 L33.5,206.05 L34,205.69 L34.5,205.52 L35,205.49 L35.5,205.48 L36,205.46 L36.5,205.45 L37,205.43 L37.5,205.42 L38,205.41 L38.5,205.39 L39,205.38 L39.5,205.36 L40,205.35 L40.5,205.33 L41,205.32 L41.5,205.31 L42,205.29 L42.5,205.28 L43,205.26 L43.5,205.25 L44,205.23 L44.5,205.22 L45,205.2 L45.5,205.19 L46,205.18 L46.5,205.16 L47,205.13 L47.5,205.08 L48,205.02 L48.5,204.96 L49,204.91 L49.5,204.85 L50,204.8 L50.5,204.74 L51,204.69 L51.5,204.63 L52,204.58 L52.5,204.52 L53,204.46 L53.5,204.41 L54,204.35 L54.5,204.3 L55,204.25 L55.5,204.22 L56,204.19 L56.5,204.16 L57,204.13 L57.5,204.1 L58,204.06 L58.5,204.03 L59,204 L59.5,203.97 L60,203.94 L60.5,203.91 L61,203.88 L61.5,203.85 L62,203.82 L62.5,203.79 L63,203.76 L63.5,203.77 L64,203.79 L64.5,203.81 L65,203.83 L65.5,203.86 L66,203.88 L66.5,203.9 L67,203.92 L67.5,203.95 L68,203.97 L68.5,203.99 L69,204.02 L69.5,204.04 L70,204.06 L70.5,204.08 L71,204.11 L71.5,204.13 L72,204.15 L72.5,204.18 L73,204.21 L73.5,204.23 L74,204.26 L74.5,204.29 L75,204.32 L75.5,204.34 L76,204.37 L76.5,204.4 L77,204.43 L77.5,204.46 L78,204.48 L78.5,204.51 L79,204.54 L79.5,204.57 L80,204.59 L80.5,204.62 L81,204.65 L81.5,204.68 L82,204.71 L82.5,204.73 L83,204.76 L83.5,204.79 L84,204.82 L84.5,204.84 L85,204.86 L85.5,204.87 L86,204.88 L86.5,204.89 L87,204.9 L87.5,204.91 L88,204.92 L88.5,204.93 L89,204.94 L89.5,204.95 L90,204.96 L90.5,204.97 L91,204.97 L91.5,204.98 L92,204.99 L92.5,205 L93,205.01 L93.5,205.02 L94,205.03 L94.5,205.04 L95,205.05 L95.5,205.06 L96,205.08 L96.5,205.09 L97,205.1 L97.5,205.11 L98,205.12 L98.5,205.13 L99,205.15 L99.5,205.16 L100,205.17 L100.5,205.18 L101,205.19 L101.5,205.2 L102,205.22 L102.5,205.23 L103,205.01 L103.5,204.47 L104,203.92 L104.5,203.36 L105,202.81 L105.5,202.22 L106,201.63 L106.5,201.04 L107,200.55 L107.5,200.17 L108,199.79 L108.5,199.41 L109,199.03 L109.5,198.77 L110,198.69 L110.5,198.7 L111,198.79 L111.5,198.88 L112,198.97 L112.5,199.06 L113,199.15 L113.5,199.24 L114,199.37 L114.5,199.69 L115,200.16 L115.5,200.76 L116,201.35 L116.5,201.95 L117,202.54 L117.5,203.13 L118,203.71 L118.5,204.2 L119,204.4 L119.5,204.6 L120,204.81 L120.5,204.95 L121,204.94 L121.5,204.94 L122,204.93 L122.5,204.93 L123,204.92 L123.5,204.92 L124,204.91 L124.5,204.91 L125,204.9 L125.5,204.9 L126,204.9 L126.5,204.89 L127,204.89 L127.5,204.88 L128,204.88 L128.5,204.87 L129,204.87 L129.5,204.86 L130,204.86 L130.5,204.85 L131,204.85 L131.5,204.85 L132,204.84 L132.5,204.84 L133,204.83 L133.5,204.83 L134,204.82 L134.5,204.82 L135,204.81 L135.5,204.81 L136,204.8 L136.5,204.8 L137,204.8 L137.5,204.79 L138,204.79 L138.5,204.78 L139,204.78 L139.5,204.77 L140,204.77 L140.5,204.76 L141,204.76 L141.5,204.75 L142,204.75 L142.5,204.78 L143,204.8 L143.5,204.83 L144,204.85 L144.5,204.88 L145,204.9 L145.5,204.93 L146,204.95 L146.5,205.01 L147,205.08 L147.5,205.21 L148,205.53 L148.5,206.28 L148.6,206.87 L148.6,208.63 L148.5,209.22 L148,209.97 L147.5,210.29 L147,210.42 L146.5,210.49 L146,210.55 L145.5,210.57 L145,210.6 L144.5,210.62 L144,210.65 L143.5,210.67 L143,210.7 L142.5,210.72 L142,210.75 L141.5,210.75 L141,210.74 L140.5,210.74 L140,210.73 L139.5,210.73 L139,210.72 L138.5,210.72 L138,210.71 L137.5,210.71 L137,210.7 L136.5,210.7 L136,210.7 L135.5,210.69 L135,210.69 L134.5,210.68 L134,210.68 L133.5,210.67 L133,210.67 L132.5,210.66 L132,210.66 L131.5,210.65 L131,210.65 L130.5,210.65 L130,210.64 L129.5,210.64 L129,210.63 L128.5,210.63 L128,210.62 L127.5,210.62 L127,210.61 L126.5,210.61 L126,210.6 L125.5,210.6 L125,210.6 L124.5,210.59 L124,210.59 L123.5,210.58 L123,210.58 L122.5,210.57 L122,210.57 L121.5,210.56 L121,210.56 L120.5,210.55 L120,210.69 L119.5,210.9 L119,211.1 L118.5,211.3 L118,211.79 L117.5,212.37 L117,212.96 L116.5,213.55 L116,214.15 L115.5,214.74 L115,215.34 L114.5,215.81 L114,216.13 L113.5,216.26 L113,216.35 L112.5,216.44 L112,216.53 L111.5,216.62 L111,216.71 L110.5,216.8 L110,216.81 L109.5,216.73 L109,216.47 L108.5,216.09 L108,215.71 L107.5,215.33 L107,214.95 L106.5,214.46 L106,213.87 L105.5,213.28 L105,212.69 L104.5,212.14 L104,211.58 L103.5,211.03 L103,210.49 L102.5,210.27 L102,210.28 L101.5,210.3 L101,210.31 L100.5,210.32 L100,210.33 L99.5,210.34 L99,210.35 L98.5,210.37 L98,210.38 L97.5,210.39 L97,210.4 L96.5,210.41 L96,210.42 L95.5,210.44 L95,210.45 L94.5,210.46 L94,210.47 L93.5,210.48 L93,210.49 L92.5,210.5 L92,210.51 L91.5,210.52 L91,210.53 L90.5,210.53 L90,210.54 L89.5,210.55 L89,210.56 L88.5,210.57 L88,210.58 L87.5,210.59 L87,210.6 L86.5,210.61 L86,210.62 L85.5,210.63 L85,210.64 L84.5,210.66 L84,210.68 L83.5,210.71 L83,210.74 L82.5,210.77 L82,210.79 L81.5,210.82 L81,210.85 L80.5,210.88 L80,210.91 L79.5,210.93 L79,210.96 L78.5,210.99 L78,211.02 L77.5,211.04 L77,211.07 L76.5,211.1 L76,211.13 L75.5,211.16 L75,211.18 L74.5,211.21 L74,211.24 L73.5,211.27 L73,211.29 L72.5,211.32 L72,211.35 L71.5,211.37 L71,211.39 L70.5,211.42 L70,211.44 L69.5,211.46 L69,211.48 L68.5,211.51 L68,211.53 L67.5,211.55 L67,211.58 L66.5,211.6 L66,211.62 L65.5,211.64 L65,211.67 L64.5,211.69 L64,211.71 L63.5,211.73 L63,211.74 L62.5,211.71 L62,211.68 L61.5,211.65 L61,211.62 L60.5,211.59 L60,211.56 L59.5,211.53 L59,211.5 L58.5,211.47 L58,211.44 L57.5,211.4 L57,211.37 L56.5,211.34 L56,211.31 L55.5,211.28 L55,211.25 L54.5,211.2 L54,211.15 L53.5,211.09 L53,211.04 L52.5,210.98 L52,210.92 L51.5,210.87 L51,210.81 L50.5,210.76 L50,210.7 L49.5,210.65 L49,210.59 L48.5,210.54 L48,210.48 L47.5,210.42 L47,210.37 L46.5,210.34 L46,210.32 L45.5,210.31 L45,210.3 L44.5,210.28 L44,210.27 L43.5,210.25 L43,210.24 L42.5,210.22 L42,210.21 L41.5,210.19 L41,210.18 L40.5,210.17 L40,210.15 L39.5,210.14 L39,210.12 L38.5,210.11 L38,210.09 L37.5,210.08 L37,210.07 L36.5,210.05 L36,210.04 L35.5,210.02 L35,210.01 L34.5,209.98 L34,209.81 L33.5,209.45 L33,208.2Z" fill="url(#g9)"/>
<circle cx="53.23" cy="206.93" r="1.5" fill="#ab15a7"/>
<circle cx="51.8" cy="206.95" r="1.5" fill="#ab15a7"/>
<circle cx="77.44" cy="208.95" r="1.5" fill="#ab15a7"/>
<circle cx="90.43" cy="207.71" r="1.5" fill="#ab15a7"/>
<circle cx="79.18" cy="208.59" r="1.5" fill="#ab15a7"/>
<circle cx="45.09" cy="207.99" r="1.5" fill="#ab15a7"/>
<circle cx="94.59" cy="208.26" r="1.5" fill="#ab15a7"/>
<circle cx="85.01" cy="207.7" r="1.5" fill="#ab15a7"/>
<circle cx="50.71" cy="208.46" r="1.5" fill="#ab15a7"/>
<circle cx="59.95" cy="208.95" r="1.5" fill="#ab15a7"/>
<circle cx="98.3" cy="207.58" r="1.5" fill="#ab15a7"/>
<circle cx="64.08" cy="209.68" r="1.5" fill="#ab15a7"/>
<circle cx="83.49" cy="206.98" r="1.5" fill="#ab15a7"/>
<circle cx="47.62" cy="207.14" r="1.5" fill="#ab15a7"/>
<circle cx="94.29" cy="208.31" r="1.5" fill="#ab15a7"/>
<circle cx="48.77" cy="208.41" r="1.5" fill="#ab15a7"/>
<circle cx="98.82" cy="208" r="1.5" fill="#ab15a7"/>
<circle cx="61.02" cy="207.95" r="1.5" fill="#ab15a7"/>
<circle cx="57.62" cy="205.94" r="1.5" fill="#bb00a0"/>
<circle cx="74.42" cy="208.25" r="1.5" fill="#bb00a0"/>
<circle cx="65.53" cy="209.57" r="1.5" fill="#bb00a0"/>
<circle cx="63.68" cy="209.37" r="1.5" fill="#bb00a0"/>
<circle cx="71.52" cy="206.7" r="1.5" fill="#bb00a0"/>
<circle cx="60.04" cy="206.92" r="1.5" fill="#bb00a0"/>
<circle cx="110.16" cy="209.01" r="1.5" fill="#9135ba"/>
<circle cx="110.33" cy="206.57" r="1.5" fill="#9135ba"/>
<circle cx="109.18" cy="213.16" r="1.5" fill="#9135ba"/>
<circle cx="111.18" cy="207.16" r="1.5" fill="#9135ba"/>
<circle cx="113.25" cy="213.19" r="1.5" fill="#9135ba"/>
<path d="M85.9,229.26 L86.4,228.01 L86.9,227.64 L87.4,227.48 L87.9,227.45 L88.4,227.44 L88.9,227.43 L89.4,227.41 L89.9,227.35 L90.4,227.2 L90.9,227.04 L91.4,225.31 L91.9,223.91 L92.4,223.28 L92.9,222.7 L93.4,222.11 L93.9,221.6 L94.4,221.34 L94.9,221.18 L95.4,221.06 L95.9,220.94 L96.4,220.83 L96.9,220.71 L97.4,220.59 L97.9,220.47 L98.4,220.42 L98.9,220.47 L99.4,220.63 L99.9,220.78 L100.4,220.93 L100.9,221.09 L101.4,221.02 L101.9,220.88 L102.4,220.74 L102.9,220.6 L103.4,220.51 L103.9,220.57 L104.4,220.79 L104.9,221.12 L105.4,221.52 L105.9,221.92 L106.4,222.39 L106.9,223.65 L107.4,225.5 L107.9,225.62 L108.4,225.69 L108.9,225.75 L109.4,225.81 L109.9,225.87 L110.4,225.93 L110.9,225.96 L111.4,226 L111.9,226.03 L112.4,226.07 L112.9,226.1 L113.4,226.14 L113.9,226.17 L114.4,226.21 L114.9,226.24 L115.4,226.28 L115.9,226.31 L116.4,226.35 L116.9,226.38 L117.4,226.42 L117.9,226.45 L118.4,226.49 L118.9,226.52 L119.4,226.56 L119.9,226.59 L120.4,226.62 L120.9,226.65 L121.4,226.67 L121.9,226.7 L122.4,226.72 L122.9,226.75 L123.4,226.77 L123.9,226.8 L124.4,226.82 L124.9,226.85 L125.4,226.87 L125.9,226.9 L126.4,226.92 L126.9,226.95 L127.4,226.97 L127.9,227 L128.4,227.02 L128.9,227.05 L129.4,227.07 L129.9,227.1 L130.4,227.11 L130.9,227.13 L131.4,227.14 L131.9,227.16 L132.4,227.17 L132.9,227.19 L133.4,227.2 L133.9,227.22 L134.4,227.23 L134.9,227.25 L135.4,227.26 L135.9,227.28 L136.4,227.29 L136.9,227.31 L137.4,227.32 L137.9,227.34 L138.4,227.35 L138.9,227.37 L139.4,227.38 L139.9,227.4 L140.4,227.41 L140.9,227.41 L141.4,227.42 L141.9,227.42 L142.4,227.43 L142.9,227.43 L143.4,227.44 L143.9,227.45 L144.4,227.45 L144.9,227.46 L145.4,227.46 L145.9,227.47 L146.4,227.48 L146.9,227.49 L147.4,227.62 L147.9,227.94 L148.4,228.69 L148.6,229.7 L148.6,229.7 L148.4,230.71 L147.9,231.46 L147.4,231.78 L146.9,231.91 L146.4,231.92 L145.9,231.93 L145.4,231.94 L144.9,231.94 L144.4,231.95 L143.9,231.95 L143.4,231.96 L142.9,231.97 L142.4,231.97 L141.9,231.98 L141.4,231.98 L140.9,231.99 L140.4,231.99 L139.9,232 L139.4,232.02 L138.9,232.03 L138.4,232.05 L137.9,232.06 L137.4,232.08 L136.9,232.09 L136.4,232.11 L135.9,232.12 L135.4,232.14 L134.9,232.15 L134.4,232.17 L133.9,232.18 L133.4,232.2 L132.9,232.21 L132.4,232.23 L131.9,232.24 L131.4,232.26 L130.9,232.27 L130.4,232.29 L129.9,232.3 L129.4,232.33 L128.9,232.35 L128.4,232.38 L127.9,232.4 L127.4,232.43 L126.9,232.45 L126.4,232.48 L125.9,232.5 L125.4,232.53 L124.9,232.55 L124.4,232.58 L123.9,232.6 L123.4,232.63 L122.9,232.65 L122.4,232.68 L121.9,232.7 L121.4,232.73 L120.9,232.75 L120.4,232.78 L119.9,232.81 L119.4,232.84 L118.9,232.88 L118.4,232.91 L117.9,232.95 L117.4,232.98 L116.9,233.02 L116.4,233.05 L115.9,233.09 L115.4,233.12 L114.9,233.16 L114.4,233.19 L113.9,233.23 L113.4,233.26 L112.9,233.3 L112.4,233.33 L111.9,233.37 L111.4,233.4 L110.9,233.44 L110.4,233.47 L109.9,233.53 L109.4,233.59 L108.9,233.65 L108.4,233.71 L107.9,233.78 L107.4,233.9 L106.9,235.75 L106.4,237.01 L105.9,237.48 L105.4,237.88 L104.9,238.28 L104.4,238.61 L103.9,238.83 L103.4,238.89 L102.9,238.8 L102.4,238.66 L101.9,238.52 L101.4,238.38 L100.9,238.31 L100.4,238.47 L99.9,238.62 L99.4,238.77 L98.9,238.93 L98.4,238.98 L97.9,238.93 L97.4,238.81 L96.9,238.69 L96.4,238.57 L95.9,238.46 L95.4,238.34 L94.9,238.22 L94.4,238.06 L93.9,237.8 L93.4,237.29 L92.9,236.7 L92.4,236.12 L91.9,235.49 L91.4,234.09 L90.9,232.36 L90.4,232.2 L89.9,232.05 L89.4,231.99 L88.9,231.97 L88.4,231.96 L87.9,231.95 L87.4,231.92 L86.9,231.76 L86.4,231.39 L85.9,230.14Z" fill="url(#g10)"/>
<circle cx="98.05" cy="235.9" r="1.5" fill="#9b23ad"/>
<circle cx="99.02" cy="230.17" r="1.5" fill="#9b23ad"/>
<circle cx="99.28" cy="222.74" r="1.5" fill="#9b23ad"/>
<circle cx="98.28" cy="224.96" r="1.5" fill="#9b23ad"/>
<circle cx="93.05" cy="231.98" r="1.5" fill="#9b23ad"/>
<circle cx="95.07" cy="229.34" r="1.5" fill="#9b23ad"/>
<circle cx="102.25" cy="230.5" r="1.5" fill="#007cf5"/>
<circle cx="98.26" cy="229.97" r="1.5" fill="#007cf5"/>
<circle cx="100.55" cy="233.59" r="1.5" fill="#007cf5"/>
<circle cx="96.06" cy="230.54" r="1.5" fill="#007cf5"/>
<circle cx="94.74" cy="226.85" r="1.5" fill="#ff0051"/>
<circle cx="98.41" cy="229.82" r="1.5" fill="#ff0051"/>
<circle cx="96.93" cy="233.42" r="1.5" fill="#ff0051"/>
<path d="M151.9,229.7 L152.4,228.06 L152.9,227.69 L153.4,227.53 L153.9,227.5 L154.4,227.5 L154.9,227.5 L155.4,227.5 L155.9,227.5 L156.4,227.5 L156.9,227.5 L157.4,227.5 L157.9,227.5 L158.4,227.5 L158.9,227.5 L159.4,227.5 L159.9,227.5 L160.4,227.5 L160.9,227.56 L161.4,227.77 L161.9,228.23 L162.4,229.7 L162.4,229.7 L161.9,231.17 L161.4,231.63 L160.9,231.84 L160.4,231.9 L159.9,231.9 L159.4,231.9 L158.9,231.9 L158.4,231.9 L157.9,231.9 L157.4,231.9 L156.9,231.9 L156.4,231.9 L155.9,231.9 L155.4,231.9 L154.9,231.9 L154.4,231.9 L153.9,231.9 L153.4,231.87 L152.9,231.71 L152.4,231.34 L151.9,229.7Z" fill="#008bfb"/>
<path d="M88.8,250.27 L89.3,249.02 L89.8,248.66 L90.3,248.38 L90.8,248.11 L91.3,247.84 L91.8,247.58 L92.3,247.33 L92.8,247.07 L93.3,246.81 L93.8,246.56 L94.3,246.3 L94.8,246.04 L95.3,245.79 L95.8,245.49 L96.3,245.19 L96.8,244.88 L97.3,244.58 L97.8,244.22 L98.3,243.84 L98.8,243.46 L99.3,243.11 L99.8,242.95 L100.3,242.86 L100.8,242.9 L101.3,242.95 L101.8,242.99 L102.3,243.04 L102.8,243.17 L103.3,243.39 L103.8,243.85 L104.3,244.52 L104.8,245.18 L105.3,246.07 L105.8,247.14 L106.3,248.21 L106.8,248.81 L107.2,251.65 L107.2,251.65 L106.8,254.49 L106.3,255.09 L105.8,256.16 L105.3,257.23 L104.8,258.12 L104.3,258.78 L103.8,259.45 L103.3,259.91 L102.8,260.13 L102.3,260.26 L101.8,260.31 L101.3,260.35 L100.8,260.4 L100.3,260.44 L99.8,260.35 L99.3,260.19 L98.8,259.84 L98.3,259.46 L97.8,259.08 L97.3,258.72 L96.8,258.42 L96.3,258.11 L95.8,257.81 L95.3,257.51 L94.8,257.26 L94.3,257 L93.8,256.74 L93.3,256.49 L92.8,256.23 L92.3,255.97 L91.8,255.72 L91.3,255.46 L90.8,255.19 L90.3,254.92 L89.8,254.64 L89.3,254.28 L88.8,253.03Z" fill="#008bfb"/>
<path d="M108.3,245.95 L108.8,244.62 L109.3,243.78 L109.8,243.17 L110.3,242.8 L110.8,242.62 L111.3,242.45 L111.8,242.29 L112.3,242.2 L112.8,242.19 L113.3,242.32 L113.8,242.49 L114.3,242.66 L114.8,242.87 L115.3,243.24 L115.8,243.85 L116.3,244.52 L116.8,245.18 L117.3,246.13 L117.8,247.47 L118.3,248.82 L118.8,249.07 L119.3,249.09 L119.8,249.1 L120.3,249.12 L120.8,249.13 L121.3,249.15 L121.8,249.16 L122.3,249.17 L122.8,249.19 L123.3,249.2 L123.8,249.22 L124.3,249.23 L124.8,249.25 L125.3,249.26 L125.8,249.27 L126.3,249.29 L126.8,249.3 L127.3,249.31 L127.8,249.33 L128.3,249.34 L128.8,249.35 L129.3,249.37 L129.8,249.38 L130.3,249.39 L130.8,249.41 L131.3,249.54 L131.8,249.86 L132.3,250.61 L132.6,251.65 L132.6,251.65 L132.3,252.69 L131.8,253.44 L131.3,253.76 L130.8,253.89 L130.3,253.91 L129.8,253.92 L129.3,253.93 L128.8,253.95 L128.3,253.96 L127.8,253.97 L127.3,253.99 L126.8,254 L126.3,254.01 L125.8,254.03 L125.3,254.04 L124.8,254.05 L124.3,254.07 L123.8,254.08 L123.3,254.1 L122.8,254.11 L122.3,254.13 L121.8,254.14 L121.3,254.15 L120.8,254.17 L120.3,254.18 L119.8,254.2 L119.3,254.21 L118.8,254.23 L118.3,254.48 L117.8,255.83 L117.3,257.17 L116.8,258.12 L116.3,258.78 L115.8,259.45 L115.3,260.06 L114.8,260.43 L114.3,260.64 L113.8,260.81 L113.3,260.98 L112.8,261.11 L112.3,261.1 L111.8,261.01 L111.3,260.85 L110.8,260.68 L110.3,260.5 L109.8,260.13 L109.3,259.52 L108.8,258.68 L108.3,257.35Z" fill="#ff0051"/>
<circle cx="135.3" cy="251.65" r="1.8" fill="#ff0051"/>
<path d="M100.9,272.69 L101.4,271.45 L101.9,271.08 L102.4,270.92 L102.9,270.81 L103.4,270.69 L103.9,270.61 L104.4,270.6 L104.9,270.6 L105.4,270.6 L105.9,270.6 L106.4,270.6 L106.9,270.6 L107.4,270.6 L107.9,270.6 L108.4,270.6 L108.9,270.6 L109.4,270.6 L109.9,270.6 L110.4,270.6 L110.9,270.6 L111.4,270.6 L111.9,270.6 L112.4,270.66 L112.9,270.76 L113.4,270.87 L113.9,271.01 L114.4,271.33 L114.9,272.08 L115.1,273.6 L115.1,273.6 L114.9,275.12 L114.4,275.87 L113.9,276.19 L113.4,276.33 L112.9,276.44 L112.4,276.54 L111.9,276.6 L111.4,276.6 L110.9,276.6 L110.4,276.6 L109.9,276.6 L109.4,276.6 L108.9,276.6 L108.4,276.6 L107.9,276.6 L107.4,276.6 L106.9,276.6 L106.4,276.6 L105.9,276.6 L105.4,276.6 L104.9,276.6 L104.4,276.6 L103.9,276.59 L103.4,276.51 L102.9,276.39 L102.4,276.28 L101.9,276.12 L101.4,275.75 L100.9,274.51Z" fill="url(#g11)"/>
<rect x="105.6" y="264.3" width="6" height="18.9" rx="3" fill="#9b23ad"/>
<circle cx="108.32" cy="272.65" r="1.5" fill="#0074f0"/>
<circle cx="107.73" cy="273.58" r="1.5" fill="#0074f0"/>
<circle cx="107.52" cy="276.39" r="1.5" fill="#0074f0"/>
<circle cx="107.4" cy="274" r="1.5" fill="#0074f0"/>
<circle cx="107.46" cy="280.12" r="1.5" fill="#0074f0"/>
<circle cx="109.9" cy="279.15" r="1.5" fill="#f20072"/>
<circle cx="110.38" cy="269.89" r="1.5" fill="#f20072"/>
<circle cx="109.62" cy="280.15" r="1.5" fill="#f20072"/>
<circle cx="110.18" cy="268.06" r="1.5" fill="#f20072"/>
<circle cx="108.74" cy="272.63" r="1.5" fill="#f20072"/>
<path d="M105,294.13 L105.5,292.89 L106,292.52 L106.5,292.36 L107,292.24 L107.5,292.12 L108,292.06 L108.5,292.09 L109,292.14 L109.5,292.19 L110,292.24 L110.5,292.29 L111,292.34 L111.5,292.42 L112,292.59 L112.5,292.76 L113,293.08 L113.5,293.83 L113.7,295.55 L113.7,295.55 L113.5,297.27 L113,298.02 L112.5,298.34 L112,298.51 L111.5,298.68 L111,298.76 L110.5,298.81 L110,298.86 L109.5,298.91 L109,298.96 L108.5,299.01 L108,299.04 L107.5,298.98 L107,298.86 L106.5,298.74 L106,298.58 L105.5,298.21 L105,296.97Z" fill="url(#g12)"/>
<rect x="106" y="285.9" width="5.2" height="19.6" rx="2.6" fill="#ff0051"/>
<line x1="28.3" y1="317.5" x2="167.9" y2="317.5" stroke="#333" stroke-width="1"/>
<line x1="52.3" y1="317.5" x2="52.3" y2="320.7" stroke="#333" stroke-width="1"/>
<text x="52.3" y="331.8" font-size="10.7" text-anchor="middle" fill="#333" stroke="#333" stroke-width="0.12">−1</text>
<line x1="108.7" y1="317.5" x2="108.7" y2="320.7" stroke="#333" stroke-width="1"/>
<text x="108.7" y="331.8" font-size="10.7" text-anchor="middle" fill="#333" stroke="#333" stroke-width="0.12">0</text>
<line x1="165" y1="317.5" x2="165" y2="320.7" stroke="#333" stroke-width="1"/>
<text x="165" y="331.8" font-size="10.7" text-anchor="middle" fill="#333" stroke="#333" stroke-width="0.12">1</text>
<text x="6.8" y="212.35" font-size="12.4" text-anchor="end" fill="#333" stroke="#333" stroke-width="0.12">1</text>
<text x="6.8" y="234.3" font-size="12.4" text-anchor="end" fill="#333" stroke="#333" stroke-width="0.12">3</text>
<text x="6.8" y="256.25" font-size="12.4" text-anchor="end" fill="#333" stroke="#333" stroke-width="0.12">2</text>
<text x="6.8" y="278.2" font-size="12.4" text-anchor="end" fill="#333" stroke="#333" stroke-width="0.12">4</text>
<text x="6.8" y="300.15" font-size="12.4" text-anchor="end" fill="#333" stroke="#333" stroke-width="0.12">5</text>
<text x="98.1" y="181.1" font-size="10.7" text-anchor="middle" fill="#000" stroke="#000" stroke-width="0.12" textLength="40.9" lengthAdjust="spacingAndGlyphs">RC-G-G</text>
<rect x="175.9" y="185.8" width="1.9" height="131.1" fill="url(#cb)"/>
<text x="181.8" y="189.8" font-size="10.7" text-anchor="start" fill="#111" stroke="#111" stroke-width="0.12">High</text>
<text x="181.8" y="321.2" font-size="10.7" text-anchor="start" fill="#111" stroke="#111" stroke-width="0.12">Low</text>
<line x1="354.5" y1="185.8" x2="354.5" y2="198.25" stroke="#999" stroke-width="1"/>
<line x1="354.5" y1="304.55" x2="354.5" y2="317.5" stroke="#999" stroke-width="1"/>
<path d="M249,207.75 L249.5,206.29 L250,205.92 L250.5,205.76 L251,205.73 L251.5,205.72 L252,205.72 L252.5,205.71 L253,205.71 L253.5,205.7 L254,205.69 L254.5,205.69 L255,205.68 L255.5,205.68 L256,205.67 L256.5,205.67 L257,205.66 L257.5,205.66 L258,205.65 L258.5,205.63 L259,205.61 L259.5,205.58 L260,205.56 L260.5,205.54 L261,205.52 L261.5,205.5 L262,205.48 L262.5,205.46 L263,205.43 L263.5,205.41 L264,205.39 L264.5,205.37 L265,205.35 L265.5,205.31 L266,205.28 L266.5,205.25 L267,205.21 L267.5,205.18 L268,205.15 L268.5,205.11 L269,205.08 L269.5,205.05 L270,205.01 L270.5,204.98 L271,204.95 L271.5,204.92 L272,204.9 L272.5,204.87 L273,204.84 L273.5,204.82 L274,204.79 L274.5,204.76 L275,204.74 L275.5,204.71 L276,204.68 L276.5,204.66 L277,204.67 L277.5,204.71 L278,204.75 L278.5,204.79 L279,204.83 L279.5,204.87 L280,204.91 L280.5,204.95 L281,204.99 L281.5,205.03 L282,205.07 L282.5,205.11 L283,205.15 L283.5,205.18 L284,205.21 L284.5,205.24 L285,205.26 L285.5,205.29 L286,205.32 L286.5,205.35 L287,205.38 L287.5,205.41 L288,205.44 L288.5,205.46 L289,205.49 L289.5,205.52 L290,205.55 L290.5,205.56 L291,205.57 L291.5,205.58 L292,205.59 L292.5,205.6 L293,205.61 L293.5,205.62 L294,205.63 L294.5,205.64 L295,205.65 L295.5,205.66 L296,205.67 L296.5,205.68 L297,205.69 L297.5,205.7 L298,205.71 L298.5,205.72 L299,205.73 L299.5,205.74 L300,205.75 L300.5,205.75 L301,205.75 L301.5,205.75 L302,205.75 L302.5,205.75 L303,205.75 L303.5,205.75 L304,205.75 L304.5,205.75 L305,205.75 L305.5,205.75 L306,205.75 L306.5,205.75 L307,205.75 L307.5,205.75 L308,205.75 L308.5,205.75 L309,205.75 L309.5,205.75 L310,205.75 L310.5,205.75 L311,205.75 L311.5,205.81 L312,206.02 L312.5,206.48 L312.9,207.75 L312.9,207.75 L312.5,209.02 L312,209.48 L311.5,209.69 L311,209.75 L310.5,209.75 L310,209.75 L309.5,209.75 L309,209.75 L308.5,209.75 L308,209.75 L307.5,209.75 L307,209.75 L306.5,209.75 L306,209.75 L305.5,209.75 L305,209.75 L304.5,209.75 L304,209.75 L303.5,209.75 L303,209.75 L302.5,209.75 L302,209.75 L301.5,209.75 L301,209.75 L300.5,209.75 L300,209.75 L299.5,209.76 L299,209.77 L298.5,209.78 L298,209.79 L297.5,209.8 L297,209.81 L296.5,209.82 L296,209.83 L295.5,209.84 L295,209.85 L294.5,209.86 L294,209.87 L293.5,209.88 L293,209.89 L292.5,209.9 L292,209.91 L291.5,209.92 L291,209.93 L290.5,209.94 L290,209.95 L289.5,209.98 L289,210.01 L288.5,210.04 L288,210.06 L287.5,210.09 L287,210.12 L286.5,210.15 L286,210.18 L285.5,210.21 L285,210.24 L284.5,210.26 L284,210.29 L283.5,210.32 L283,210.35 L282.5,210.39 L282,210.43 L281.5,210.47 L281,210.51 L280.5,210.55 L280,210.59 L279.5,210.63 L279,210.67 L278.5,210.71 L278,210.75 L277.5,210.79 L277,210.83 L276.5,210.84 L276,210.82 L275.5,210.79 L275,210.76 L274.5,210.74 L274,210.71 L273.5,210.68 L273,210.66 L272.5,210.63 L272,210.6 L271.5,210.58 L271,210.55 L270.5,210.52 L270,210.49 L269.5,210.45 L269,210.42 L268.5,210.39 L268,210.35 L267.5,210.32 L267,210.29 L266.5,210.25 L266,210.22 L265.5,210.19 L265,210.15 L264.5,210.13 L264,210.11 L263.5,210.09 L263,210.07 L262.5,210.04 L262,210.02 L261.5,210 L261,209.98 L260.5,209.96 L260,209.94 L259.5,209.92 L259,209.89 L258.5,209.87 L258,209.85 L257.5,209.84 L257,209.84 L256.5,209.83 L256,209.83 L255.5,209.82 L255,209.82 L254.5,209.81 L254,209.81 L253.5,209.8 L253,209.79 L252.5,209.79 L252,209.78 L251.5,209.78 L251,209.77 L250.5,209.74 L250,209.58 L249.5,209.21 L249,207.75Z" fill="#008bfb"/>
<path d="M324.4,207.75 L324.9,206.31 L325.4,205.94 L325.9,205.78 L326.4,205.75 L326.9,205.75 L327.4,205.75 L327.9,205.75 L328.4,205.75 L328.9,205.75 L329.4,205.75 L329.9,205.75 L330.4,205.75 L330.9,205.75 L331.4,205.75 L331.9,205.75 L332.4,205.75 L332.9,205.75 L333.4,205.75 L333.9,205.75 L334.4,205.75 L334.9,205.75 L335.4,205.75 L335.9,205.74 L336.4,205.74 L336.9,205.73 L337.4,205.73 L337.9,205.72 L338.4,205.72 L338.9,205.71 L339.4,205.71 L339.9,205.7 L340.4,205.7 L340.9,205.69 L341.4,205.69 L341.9,205.68 L342.4,205.68 L342.9,205.67 L343.4,205.67 L343.9,205.66 L344.4,205.66 L344.9,205.6 L345.4,205.46 L345.9,205.31 L346.4,205.17 L346.9,205.02 L347.4,204.88 L347.9,204.73 L348.4,204.58 L348.9,204.44 L349.4,204.3 L349.9,204.18 L350.4,204.07 L350.9,203.96 L351.4,203.84 L351.9,203.76 L352.4,203.73 L352.9,203.7 L353.4,203.68 L353.9,203.65 L354.4,203.63 L354.9,203.6 L355.4,203.58 L355.9,203.46 L356.4,203.26 L356.9,203.06 L357.4,202.86 L357.9,202.77 L358.4,202.75 L358.9,202.75 L359.4,202.75 L359.9,202.75 L360.4,202.75 L360.9,202.75 L361.4,202.75 L361.9,202.75 L362.4,202.81 L362.9,202.99 L363.4,203.24 L363.9,203.49 L364.4,203.74 L364.9,204 L365.4,204.46 L365.8,207.75 L365.8,207.75 L365.4,211.04 L364.9,211.5 L364.4,211.76 L363.9,212.01 L363.4,212.26 L362.9,212.51 L362.4,212.69 L361.9,212.75 L361.4,212.75 L360.9,212.75 L360.4,212.75 L359.9,212.75 L359.4,212.75 L358.9,212.75 L358.4,212.75 L357.9,212.73 L357.4,212.64 L356.9,212.44 L356.4,212.24 L355.9,212.04 L355.4,211.92 L354.9,211.9 L354.4,211.87 L353.9,211.85 L353.4,211.82 L352.9,211.8 L352.4,211.77 L351.9,211.74 L351.4,211.66 L350.9,211.54 L350.4,211.43 L349.9,211.32 L349.4,211.2 L348.9,211.06 L348.4,210.92 L347.9,210.77 L347.4,210.62 L346.9,210.48 L346.4,210.33 L345.9,210.19 L345.4,210.04 L344.9,209.9 L344.4,209.84 L343.9,209.84 L343.4,209.83 L342.9,209.83 L342.4,209.82 L341.9,209.82 L341.4,209.81 L340.9,209.81 L340.4,209.8 L339.9,209.8 L339.4,209.79 L338.9,209.79 L338.4,209.78 L337.9,209.78 L337.4,209.77 L336.9,209.77 L336.4,209.76 L335.9,209.76 L335.4,209.75 L334.9,209.75 L334.4,209.75 L333.9,209.75 L333.4,209.75 L332.9,209.75 L332.4,209.75 L331.9,209.75 L331.4,209.75 L330.9,209.75 L330.4,209.75 L329.9,209.75 L329.4,209.75 L328.9,209.75 L328.4,209.75 L327.9,209.75 L327.4,209.75 L326.9,209.75 L326.4,209.75 L325.9,209.72 L325.4,209.56 L324.9,209.19 L324.4,207.75Z" fill="url(#g13)"/>
<circle cx="352.36" cy="206.6" r="1.5" fill="#0084f9"/>
<circle cx="352.37" cy="208.5" r="1.5" fill="#0084f9"/>
<rect x="357.2" y="198.7" width="6" height="11.3" rx="3" fill="#d9008b"/>
<rect x="357.2" y="209" width="6" height="7.9" rx="3" fill="#ff0051"/>
<circle cx="361.5" cy="207.5" r="1.8" fill="#0084f9"/>
<circle cx="358" cy="205" r="1.5" fill="#0084f9"/>
<circle cx="362.5" cy="203" r="1.5" fill="#8443c6"/>
<path d="M332.4,229.7 L332.9,226.11 L333.4,225.68 L333.9,225.25 L334.4,224.89 L334.9,224.71 L335.4,224.57 L335.9,224.43 L336.4,224.29 L336.9,224.14 L337.4,224 L337.9,223.9 L338.4,223.84 L338.9,223.78 L339.4,223.71 L339.9,223.65 L340.4,223.59 L340.9,223.53 L341.4,223.46 L341.9,223.4 L342.4,223.34 L342.9,223.32 L343.4,223.36 L343.9,223.42 L344.4,223.49 L344.9,223.55 L345.4,223.61 L345.9,223.67 L346.4,223.75 L346.9,223.89 L347.4,224.04 L347.9,224.18 L348.4,224.33 L348.9,224.48 L349.4,224.62 L349.9,224.78 L350.4,225.01 L350.9,225.39 L351.4,225.79 L351.9,226.18 L352.4,225.69 L352.9,225.1 L353.4,224.51 L353.9,223.95 L354.4,223.42 L354.9,222.9 L355.4,222.37 L355.9,221.89 L356.4,221.56 L356.9,221.25 L357.4,220.95 L357.9,220.79 L358.4,220.77 L358.9,220.85 L359.4,221.06 L359.9,221.35 L360.4,221.65 L360.9,221.94 L361.4,222.4 L361.9,223.16 L362.4,223.98 L362.9,224.79 L363.4,225.3 L363.9,225.74 L364.4,226.19 L364.9,226.64 L365.4,227.04 L365.9,227.13 L366.4,227.22 L366.9,227.43 L367.4,227.9 L367.8,229.7 L367.8,229.7 L367.4,231.5 L366.9,231.97 L366.4,232.18 L365.9,232.27 L365.4,232.36 L364.9,232.76 L364.4,233.21 L363.9,233.66 L363.4,234.1 L362.9,234.61 L362.4,235.42 L361.9,236.24 L361.4,237 L360.9,237.46 L360.4,237.75 L359.9,238.05 L359.4,238.34 L358.9,238.55 L358.4,238.63 L357.9,238.61 L357.4,238.45 L356.9,238.15 L356.4,237.84 L355.9,237.51 L355.4,237.03 L354.9,236.5 L354.4,235.98 L353.9,235.45 L353.4,234.89 L352.9,234.3 L352.4,233.71 L351.9,233.22 L351.4,233.61 L350.9,234.01 L350.4,234.39 L349.9,234.62 L349.4,234.78 L348.9,234.92 L348.4,235.07 L347.9,235.22 L347.4,235.36 L346.9,235.51 L346.4,235.65 L345.9,235.73 L345.4,235.79 L344.9,235.85 L344.4,235.91 L343.9,235.98 L343.4,236.04 L342.9,236.08 L342.4,236.06 L341.9,236 L341.4,235.94 L340.9,235.87 L340.4,235.81 L339.9,235.75 L339.4,235.69 L338.9,235.62 L338.4,235.56 L337.9,235.5 L337.4,235.4 L336.9,235.26 L336.4,235.11 L335.9,234.97 L335.4,234.83 L334.9,234.69 L334.4,234.51 L333.9,234.15 L333.4,233.72 L332.9,233.29 L332.4,229.7Z" fill="url(#g14)"/>
<circle cx="346.98" cy="232.81" r="1.5" fill="#0084f9"/>
<circle cx="338.16" cy="231.44" r="1.5" fill="#0084f9"/>
<circle cx="345.24" cy="226.63" r="1.5" fill="#0084f9"/>
<circle cx="348.36" cy="232.98" r="1.5" fill="#0084f9"/>
<circle cx="339.07" cy="233.44" r="1.5" fill="#0084f9"/>
<circle cx="343.98" cy="229.59" r="1.5" fill="#9135ba"/>
<circle cx="349.9" cy="231.57" r="1.5" fill="#9135ba"/>
<circle cx="341.61" cy="229.09" r="1.5" fill="#9135ba"/>
<circle cx="345.16" cy="228.31" r="1.5" fill="#9135ba"/>
<path d="M331.4,251.65 L331.9,249.47 L332.4,249.1 L332.9,248.92 L333.4,248.77 L333.9,248.62 L334.4,248.47 L334.9,248.25 L335.4,247.94 L335.9,247.63 L336.4,247.33 L336.9,247.02 L337.4,246.71 L337.9,246.41 L338.4,246.11 L338.9,245.8 L339.4,245.5 L339.9,245.19 L340.4,244.85 L340.9,244.52 L341.4,244.19 L341.9,243.85 L342.4,243.52 L342.9,243.26 L343.4,243.07 L343.9,242.88 L344.4,242.7 L344.9,242.51 L345.4,242.33 L345.9,242.18 L346.4,242.16 L346.9,242.29 L347.4,242.51 L347.9,242.73 L348.4,242.94 L348.9,243.16 L349.4,243.4 L349.9,243.67 L350.4,243.95 L350.9,244.17 L351.4,244.18 L351.9,244.19 L352.4,244.2 L352.9,244.22 L353.4,244.23 L353.9,244.24 L354.4,244.26 L354.9,244.37 L355.4,244.55 L355.9,244.76 L356.4,244.96 L356.9,245.17 L357.4,245.37 L357.9,245.59 L358.4,245.83 L358.9,246.07 L359.4,246.31 L359.9,245.95 L360.4,245.53 L360.9,245.15 L361.4,244.78 L361.9,244.4 L362.4,244.15 L362.9,244.06 L363.4,244.12 L363.9,244.25 L364.4,244.57 L364.9,245.24 L365.4,246.03 L365.9,246.83 L366.4,247.56 L366.9,248.15 L367.4,248.74 L367.9,248.79 L368.4,248.85 L368.9,248.91 L369.4,248.96 L369.9,249.02 L370.4,249.07 L370.9,249.13 L371.4,249.18 L371.9,249.24 L372.4,249.22 L372.9,249.2 L373.4,249.18 L373.9,249.15 L374.4,249.13 L374.9,249.1 L375.4,249.08 L375.9,249.05 L376.4,249.09 L376.9,249.15 L377.4,249.21 L377.9,249.28 L378.4,249.5 L378.9,249.96 L379.3,251.65 L379.3,251.65 L378.9,253.34 L378.4,253.8 L377.9,254.02 L377.4,254.09 L376.9,254.15 L376.4,254.21 L375.9,254.25 L375.4,254.22 L374.9,254.2 L374.4,254.17 L373.9,254.15 L373.4,254.12 L372.9,254.1 L372.4,254.08 L371.9,254.06 L371.4,254.12 L370.9,254.17 L370.4,254.23 L369.9,254.28 L369.4,254.34 L368.9,254.39 L368.4,254.45 L367.9,254.51 L367.4,254.56 L366.9,255.15 L366.4,255.74 L365.9,256.47 L365.4,257.27 L364.9,258.06 L364.4,258.73 L363.9,259.05 L363.4,259.18 L362.9,259.24 L362.4,259.15 L361.9,258.9 L361.4,258.52 L360.9,258.15 L360.4,257.77 L359.9,257.35 L359.4,256.99 L358.9,257.23 L358.4,257.47 L357.9,257.71 L357.4,257.93 L356.9,258.13 L356.4,258.34 L355.9,258.54 L355.4,258.75 L354.9,258.93 L354.4,259.04 L353.9,259.06 L353.4,259.07 L352.9,259.08 L352.4,259.1 L351.9,259.11 L351.4,259.12 L350.9,259.13 L350.4,259.35 L349.9,259.63 L349.4,259.9 L348.9,260.14 L348.4,260.36 L347.9,260.57 L347.4,260.79 L346.9,261.01 L346.4,261.14 L345.9,261.12 L345.4,260.97 L344.9,260.79 L344.4,260.6 L343.9,260.42 L343.4,260.23 L342.9,260.04 L342.4,259.78 L341.9,259.45 L341.4,259.11 L340.9,258.78 L340.4,258.45 L339.9,258.11 L339.4,257.8 L338.9,257.5 L338.4,257.19 L337.9,256.89 L337.4,256.59 L336.9,256.28 L336.4,255.97 L335.9,255.67 L335.4,255.36 L334.9,255.05 L334.4,254.83 L333.9,254.68 L333.4,254.53 L332.9,254.38 L332.4,254.2 L331.9,253.83 L331.4,251.65Z" fill="url(#g15)"/>
<circle cx="361.98" cy="249.81" r="1.5" fill="#9b23ad"/>
<circle cx="364.61" cy="248.29" r="1.5" fill="#9b23ad"/>
<rect x="347.1" y="264.3" width="5" height="18.2" rx="2.5" fill="#008bfb"/>
<path d="M346,273.6 L346.5,270.16 L347,269.79 L347.5,269.63 L348,269.6 L348.5,269.6 L349,269.6 L349.5,269.6 L350,269.6 L350.5,269.6 L351,269.6 L351.5,269.61 L352,269.68 L352.5,269.9 L353,270.17 L353.5,270.49 L354,271.24 L354.3,273.6 L354.3,273.6 L354,275.96 L353.5,276.71 L353,277.03 L352.5,277.3 L352,277.52 L351.5,277.59 L351,277.6 L350.5,277.6 L350,277.6 L349.5,277.6 L349,277.6 L348.5,277.6 L348,277.6 L347.5,277.57 L347,277.41 L346.5,277.04 L346,273.6Z" fill="#008bfb"/>
<path d="M355,273.6 L355.5,270.91 L356,270.54 L356.5,270.35 L357,270.17 L357.5,270.01 L358,269.85 L358.5,269.69 L359,269.53 L359.5,269.45 L360,269.46 L360.5,269.59 L361,269.85 L361.5,270.11 L362,270.38 L362.5,270.64 L363,270.69 L363.5,270.74 L364,270.79 L364.5,270.84 L365,270.89 L365.5,270.94 L366,270.99 L366.5,271.05 L367,271.11 L367.5,271.17 L368,271.3 L368.5,271.62 L369,272.37 L369.2,273.6 L369.2,273.6 L369,274.83 L368.5,275.58 L368,275.9 L367.5,276.03 L367,276.09 L366.5,276.15 L366,276.21 L365.5,276.26 L365,276.31 L364.5,276.36 L364,276.41 L363.5,276.46 L363,276.51 L362.5,276.56 L362,276.82 L361.5,277.09 L361,277.35 L360.5,277.61 L360,277.74 L359.5,277.75 L359,277.67 L358.5,277.51 L358,277.35 L357.5,277.19 L357,277.03 L356.5,276.85 L356,276.66 L355.5,276.29 L355,273.6Z" fill="#ff0051"/>
<path d="M344.9,295.55 L345.4,292.6 L345.9,292.23 L346.4,291.86 L346.9,291.23 L347.4,290.61 L347.9,289.98 L348.4,289.28 L348.9,288.56 L349.4,287.83 L349.9,287.11 L350.4,286.56 L350.9,286.31 L351.4,286.16 L351.9,286.11 L352.4,286.06 L352.9,286.01 L353.4,285.96 L353.9,286.01 L354.4,286.23 L354.9,286.57 L355.4,286.97 L355.9,287.37 L356.4,287.76 L356.9,287.92 L357.4,288.09 L357.9,288.3 L358.4,288.77 L358.9,289.53 L359.4,290.43 L359.5,295.55 L359.5,295.55 L359.4,300.67 L358.9,301.57 L358.4,302.33 L357.9,302.8 L357.4,303.01 L356.9,303.18 L356.4,303.34 L355.9,303.73 L355.4,304.13 L354.9,304.53 L354.4,304.87 L353.9,305.09 L353.4,305.14 L352.9,305.09 L352.4,305.04 L351.9,304.99 L351.4,304.94 L350.9,304.79 L350.4,304.54 L349.9,303.99 L349.4,303.27 L348.9,302.54 L348.4,301.82 L347.9,301.12 L347.4,300.49 L346.9,299.87 L346.4,299.24 L345.9,298.87 L345.4,298.5 L344.9,295.55Z" fill="url(#g16)"/>
<circle cx="351.88" cy="294.64" r="1.5" fill="#f90067"/>
<circle cx="348.13" cy="294.54" r="1.5" fill="#f90067"/>
<circle cx="352.37" cy="295.74" r="1.5" fill="#f90067"/>
<circle cx="348.45" cy="298.84" r="1.5" fill="#f90067"/>
<line x1="244.7" y1="317.5" x2="384" y2="317.5" stroke="#333" stroke-width="1"/>
<line x1="289.3" y1="317.5" x2="289.3" y2="320.7" stroke="#333" stroke-width="1"/>
<text x="289.3" y="331.8" font-size="10.7" text-anchor="middle" fill="#333" stroke="#333" stroke-width="0.12">−2</text>
<line x1="354.7" y1="317.5" x2="354.7" y2="320.7" stroke="#333" stroke-width="1"/>
<text x="354.7" y="331.8" font-size="10.7" text-anchor="middle" fill="#333" stroke="#333" stroke-width="0.12">0</text>
<text x="223" y="212.35" font-size="12.4" text-anchor="end" fill="#333" stroke="#333" stroke-width="0.12">3</text>
<text x="223" y="234.3" font-size="12.4" text-anchor="end" fill="#333" stroke="#333" stroke-width="0.12">4</text>
<text x="223" y="256.25" font-size="12.4" text-anchor="end" fill="#333" stroke="#333" stroke-width="0.12">5</text>
<text x="223" y="278.2" font-size="12.4" text-anchor="end" fill="#333" stroke="#333" stroke-width="0.12">2</text>
<text x="223" y="300.15" font-size="12.4" text-anchor="end" fill="#333" stroke="#333" stroke-width="0.12">1</text>
<text x="314.35" y="181.1" font-size="10.7" text-anchor="middle" fill="#000" stroke="#000" stroke-width="0.12" textLength="98.2" lengthAdjust="spacingAndGlyphs">RC-RC-RCPE-RCPE</text>
<rect x="392.2" y="185.8" width="1.9" height="131.1" fill="url(#cb)"/>
<text x="397.9" y="189.8" font-size="10.7" text-anchor="start" fill="#111" stroke="#111" stroke-width="0.12">High</text>
<text x="397.9" y="321.2" font-size="10.7" text-anchor="start" fill="#111" stroke="#111" stroke-width="0.12">Low</text>
<line x1="521.7" y1="185.8" x2="521.7" y2="198.25" stroke="#999" stroke-width="1"/>
<line x1="521.7" y1="304.55" x2="521.7" y2="317.5" stroke="#999" stroke-width="1"/>
<path d="M485.4,207.75 L485.9,205.91 L486.4,205.54 L486.9,205.38 L487.4,205.32 L487.9,205.26 L488.4,205.21 L488.9,205.15 L489.4,205.1 L489.9,205.04 L490.4,204.98 L490.9,204.92 L491.4,204.87 L491.9,204.75 L492.4,204.38 L492.9,204 L493.4,203.63 L493.9,203.31 L494.4,202.99 L494.9,202.68 L495.4,202.37 L495.9,202.06 L496.4,201.77 L496.9,201.48 L497.4,201.19 L497.9,200.91 L498.4,200.64 L498.9,200.4 L499.4,200.16 L499.9,199.92 L500.4,199.69 L500.9,199.49 L501.4,199.32 L501.9,199.15 L502.4,198.99 L502.9,198.82 L503.4,198.65 L503.9,198.49 L504.4,198.4 L504.9,198.39 L505.4,198.49 L505.9,198.62 L506.4,198.74 L506.9,198.87 L507.4,198.99 L507.9,199.2 L508.4,199.47 L508.9,199.74 L509.4,200.02 L509.9,200.29 L510.4,200.68 L510.9,201.1 L511.4,201.53 L511.9,201.95 L512.4,202.37 L512.9,202.76 L513.4,203.16 L513.9,203.55 L514.4,203.95 L514.9,204.35 L515.4,204.76 L515.9,205.08 L516.4,205.17 L516.9,205.2 L517.4,205.12 L517.9,205.05 L518.4,204.97 L518.9,204.9 L519.4,204.82 L519.9,204.75 L520.4,204.7 L520.9,204.64 L521.4,204.59 L521.9,204.54 L522.4,204.48 L522.9,204.43 L523.4,204.37 L523.9,204.32 L524.4,204.26 L524.9,204.21 L525.4,204.16 L525.9,204.17 L526.4,204.21 L526.9,204.24 L527.4,204.27 L527.9,204.31 L528.4,204.34 L528.9,204.37 L529.4,204.41 L529.9,204.44 L530.4,204.46 L530.9,204.48 L531.4,204.49 L531.9,204.51 L532.4,204.52 L532.9,204.54 L533.4,204.55 L533.9,204.57 L534.4,204.58 L534.9,204.6 L535.4,204.61 L535.9,204.63 L536.4,204.64 L536.9,204.66 L537.4,204.67 L537.9,204.69 L538.4,204.7 L538.9,204.72 L539.4,204.73 L539.9,204.75 L540.4,204.77 L540.9,204.79 L541.4,204.81 L541.9,204.83 L542.4,204.85 L542.9,204.87 L543.4,204.89 L543.9,204.92 L544.4,204.94 L544.9,204.96 L545.4,204.98 L545.9,205 L546.4,205.02 L546.9,205.04 L547.4,205.06 L547.9,205.08 L548.4,205.1 L548.9,205.12 L549.4,205.14 L549.9,205.17 L550.4,205.19 L550.9,205.21 L551.4,205.23 L551.9,205.25 L552.4,205.26 L552.9,205.28 L553.4,205.3 L553.9,205.31 L554.4,205.33 L554.9,205.34 L555.4,205.36 L555.9,205.37 L556.4,205.39 L556.9,205.4 L557.4,205.42 L557.9,205.43 L558.4,205.45 L558.9,205.46 L559.4,205.48 L559.9,205.5 L560.4,205.51 L560.9,205.53 L561.4,205.54 L561.9,205.56 L562.4,205.57 L562.9,205.59 L563.4,205.6 L563.9,205.62 L564.4,205.63 L564.9,205.65 L565.4,205.66 L565.9,205.66 L566.4,205.67 L566.9,205.67 L567.4,205.68 L567.9,205.68 L568.4,205.69 L568.9,205.69 L569.4,205.7 L569.9,205.71 L570.4,205.71 L570.9,205.72 L571.4,205.72 L571.9,205.73 L572.4,205.73 L572.9,205.74 L573.4,205.74 L573.9,205.75 L574.4,205.75 L574.9,205.75 L575.4,205.75 L575.9,205.75 L576.4,205.75 L576.9,205.75 L577.4,205.75 L577.9,205.75 L578.4,205.75 L578.9,205.75 L579.4,205.75 L579.9,205.75 L580.4,205.75 L580.9,205.75 L581.4,205.75 L581.9,205.75 L582.4,205.75 L582.9,205.75 L583.4,205.76 L583.9,205.89 L584.4,206.21 L584.9,206.96 L585,207.55 L585,207.95 L584.9,208.54 L584.4,209.29 L583.9,209.61 L583.4,209.74 L582.9,209.75 L582.4,209.75 L581.9,209.75 L581.4,209.75 L580.9,209.75 L580.4,209.75 L579.9,209.75 L579.4,209.75 L578.9,209.75 L578.4,209.75 L577.9,209.75 L577.4,209.75 L576.9,209.75 L576.4,209.75 L575.9,209.75 L575.4,209.75 L574.9,209.75 L574.4,209.75 L573.9,209.75 L573.4,209.76 L572.9,209.76 L572.4,209.77 L571.9,209.77 L571.4,209.78 L570.9,209.78 L570.4,209.79 L569.9,209.79 L569.4,209.8 L568.9,209.81 L568.4,209.81 L567.9,209.82 L567.4,209.82 L566.9,209.83 L566.4,209.83 L565.9,209.84 L565.4,209.84 L564.9,209.85 L564.4,209.87 L563.9,209.88 L563.4,209.9 L562.9,209.91 L562.4,209.93 L561.9,209.94 L561.4,209.96 L560.9,209.97 L560.4,209.99 L559.9,210 L559.4,210.02 L558.9,210.04 L558.4,210.05 L557.9,210.07 L557.4,210.08 L556.9,210.1 L556.4,210.11 L555.9,210.13 L555.4,210.14 L554.9,210.16 L554.4,210.17 L553.9,210.19 L553.4,210.2 L552.9,210.22 L552.4,210.24 L551.9,210.25 L551.4,210.27 L550.9,210.29 L550.4,210.31 L549.9,210.33 L549.4,210.36 L548.9,210.38 L548.4,210.4 L547.9,210.42 L547.4,210.44 L546.9,210.46 L546.4,210.48 L545.9,210.5 L545.4,210.52 L544.9,210.54 L544.4,210.56 L543.9,210.58 L543.4,210.61 L542.9,210.63 L542.4,210.65 L541.9,210.67 L541.4,210.69 L540.9,210.71 L540.4,210.73 L539.9,210.75 L539.4,210.77 L538.9,210.78 L538.4,210.8 L537.9,210.81 L537.4,210.83 L536.9,210.84 L536.4,210.86 L535.9,210.87 L535.4,210.89 L534.9,210.9 L534.4,210.92 L533.9,210.93 L533.4,210.95 L532.9,210.96 L532.4,210.98 L531.9,210.99 L531.4,211.01 L530.9,211.02 L530.4,211.04 L529.9,211.06 L529.4,211.09 L528.9,211.13 L528.4,211.16 L527.9,211.19 L527.4,211.23 L526.9,211.26 L526.4,211.29 L525.9,211.33 L525.4,211.34 L524.9,211.29 L524.4,211.24 L523.9,211.18 L523.4,211.13 L522.9,211.07 L522.4,211.02 L521.9,210.96 L521.4,210.91 L520.9,210.86 L520.4,210.8 L519.9,210.75 L519.4,210.68 L518.9,210.6 L518.4,210.53 L517.9,210.45 L517.4,210.38 L516.9,210.3 L516.4,210.33 L515.9,210.42 L515.4,210.74 L514.9,211.15 L514.4,211.55 L513.9,211.95 L513.4,212.34 L512.9,212.74 L512.4,213.13 L511.9,213.55 L511.4,213.97 L510.9,214.4 L510.4,214.82 L509.9,215.21 L509.4,215.48 L508.9,215.76 L508.4,216.03 L507.9,216.3 L507.4,216.51 L506.9,216.63 L506.4,216.76 L505.9,216.88 L505.4,217.01 L504.9,217.11 L504.4,217.1 L503.9,217.01 L503.4,216.85 L502.9,216.68 L502.4,216.51 L501.9,216.35 L501.4,216.18 L500.9,216.01 L500.4,215.81 L499.9,215.58 L499.4,215.34 L498.9,215.1 L498.4,214.86 L497.9,214.59 L497.4,214.31 L496.9,214.02 L496.4,213.73 L495.9,213.44 L495.4,213.13 L494.9,212.82 L494.4,212.51 L493.9,212.19 L493.4,211.87 L492.9,211.5 L492.4,211.12 L491.9,210.75 L491.4,210.63 L490.9,210.58 L490.4,210.52 L489.9,210.46 L489.4,210.4 L488.9,210.35 L488.4,210.29 L487.9,210.24 L487.4,210.18 L486.9,210.12 L486.4,209.96 L485.9,209.59 L485.4,207.75Z" fill="url(#g17)"/>
<circle cx="508.61" cy="213.52" r="1.5" fill="#0084f9"/>
<circle cx="497.68" cy="205.57" r="1.5" fill="#0084f9"/>
<circle cx="496.63" cy="210" r="1.5" fill="#0084f9"/>
<circle cx="500.33" cy="203.28" r="1.5" fill="#0084f9"/>
<circle cx="502.76" cy="213.5" r="1.5" fill="#0084f9"/>
<circle cx="509.1" cy="204.94" r="1.5" fill="#0084f9"/>
<circle cx="498.39" cy="211.98" r="1.5" fill="#0084f9"/>
<circle cx="505.13" cy="210.74" r="1.5" fill="#0084f9"/>
<circle cx="497.43" cy="203.76" r="1.5" fill="#0084f9"/>
<circle cx="507.01" cy="206.71" r="1.5" fill="#0084f9"/>
<circle cx="497.16" cy="211.56" r="1.5" fill="#0084f9"/>
<circle cx="506.15" cy="212.1" r="1.5" fill="#0084f9"/>
<circle cx="497.34" cy="210.92" r="1.5" fill="#0084f9"/>
<circle cx="497.07" cy="210.87" r="1.5" fill="#0084f9"/>
<circle cx="503.35" cy="205.44" r="1.5" fill="#ff0051"/>
<circle cx="504.74" cy="214.2" r="1.5" fill="#ff0051"/>
<circle cx="500.75" cy="203.12" r="1.5" fill="#ff0051"/>
<circle cx="504.38" cy="203.81" r="1.5" fill="#ff0051"/>
<circle cx="498.53" cy="204.27" r="1.5" fill="#ff0051"/>
<circle cx="497.71" cy="204.97" r="1.5" fill="#ff0051"/>
<circle cx="501.74" cy="205.16" r="1.5" fill="#bb00a0"/>
<circle cx="507.11" cy="204.84" r="1.5" fill="#bb00a0"/>
<circle cx="504" cy="202.98" r="1.5" fill="#bb00a0"/>
<circle cx="502.16" cy="201.21" r="1.5" fill="#bb00a0"/>
<path d="M587.8,207.55 L588.3,206.31 L588.8,205.94 L589.3,205.78 L589.8,205.75 L590.3,205.75 L590.8,205.75 L591.3,205.75 L591.8,205.75 L592.3,205.75 L592.8,205.75 L593.3,205.75 L593.8,205.75 L594.3,205.81 L594.8,206.02 L595.3,206.48 L595.8,207.75 L595.8,207.75 L595.3,209.02 L594.8,209.48 L594.3,209.69 L593.8,209.75 L593.3,209.75 L592.8,209.75 L592.3,209.75 L591.8,209.75 L591.3,209.75 L590.8,209.75 L590.3,209.75 L589.8,209.75 L589.3,209.72 L588.8,209.56 L588.3,209.19 L587.8,207.95Z" fill="#008bfb"/>
<path d="M478.8,229.7 L479.3,227.99 L479.8,227.62 L480.3,227.46 L480.8,227.43 L481.3,227.41 L481.8,227.39 L482.3,227.37 L482.8,227.35 L483.3,227.33 L483.8,227.32 L484.3,227.3 L484.8,227.28 L485.3,227.26 L485.8,227.24 L486.3,227.22 L486.8,227.21 L487.3,227.15 L487.8,227.08 L488.3,227.01 L488.8,226.95 L489.3,226.88 L489.8,226.81 L490.3,226.75 L490.8,226.68 L491.3,226.62 L491.8,226.55 L492.3,226.48 L492.8,226.42 L493.3,226.35 L493.8,226.28 L494.3,226.22 L494.8,226.15 L495.3,226.09 L495.8,226.04 L496.3,225.98 L496.8,225.93 L497.3,225.88 L497.8,225.82 L498.3,225.77 L498.8,225.71 L499.3,225.64 L499.8,225.57 L500.3,225.5 L500.8,225.44 L501.3,225.37 L501.8,225.31 L502.3,225.36 L502.8,225.53 L503.3,225.76 L503.8,225.98 L504.3,226.21 L504.8,226.44 L505.3,226.66 L505.8,226.82 L506.3,226.9 L506.8,226.99 L507.3,227.08 L507.8,227.17 L508.3,227.25 L508.8,227.34 L509.3,227.4 L509.8,227.4 L510.3,227.4 L510.8,227.4 L511.3,227.4 L511.8,227.4 L512.3,227.4 L512.8,227.4 L513.3,227.4 L513.8,227.4 L514.3,227.4 L514.8,227.38 L515.3,227.35 L515.8,227.33 L516.3,227.3 L516.8,227.27 L517.3,227.25 L517.8,227.22 L518.3,227.19 L518.8,227.16 L519.3,227.14 L519.8,227.11 L520.3,227.01 L520.8,226.91 L521.3,226.81 L521.8,226.71 L522.3,226.38 L522.8,225.82 L523.3,225.26 L523.8,224.7 L524.3,224 L524.8,223.17 L525.3,222.33 L525.8,221.69 L526.3,221.32 L526.8,221.01 L527.3,220.71 L527.8,220.51 L528.3,220.42 L528.8,220.48 L529.3,220.68 L529.8,220.92 L530.3,221.15 L530.8,221.4 L531.3,221.76 L531.8,222.26 L532.3,222.78 L532.8,223.64 L533.3,224.81 L533.8,225.98 L534.3,226.62 L534.8,226.86 L535.3,226.95 L535.8,227.04 L536.3,227.13 L536.8,227.22 L537.3,227.43 L537.8,227.9 L538.2,229.7 L538.2,229.7 L537.8,231.5 L537.3,231.97 L536.8,232.18 L536.3,232.27 L535.8,232.36 L535.3,232.45 L534.8,232.54 L534.3,232.78 L533.8,233.42 L533.3,234.59 L532.8,235.76 L532.3,236.62 L531.8,237.14 L531.3,237.64 L530.8,238 L530.3,238.25 L529.8,238.48 L529.3,238.72 L528.8,238.92 L528.3,238.98 L527.8,238.89 L527.3,238.69 L526.8,238.39 L526.3,238.08 L525.8,237.71 L525.3,237.07 L524.8,236.23 L524.3,235.4 L523.8,234.7 L523.3,234.14 L522.8,233.58 L522.3,233.02 L521.8,232.69 L521.3,232.59 L520.8,232.49 L520.3,232.39 L519.8,232.29 L519.3,232.26 L518.8,232.24 L518.3,232.21 L517.8,232.18 L517.3,232.15 L516.8,232.13 L516.3,232.1 L515.8,232.07 L515.3,232.05 L514.8,232.02 L514.3,232 L513.8,232 L513.3,232 L512.8,232 L512.3,232 L511.8,232 L511.3,232 L510.8,232 L510.3,232 L509.8,232 L509.3,232 L508.8,232.06 L508.3,232.15 L507.8,232.23 L507.3,232.32 L506.8,232.41 L506.3,232.5 L505.8,232.58 L505.3,232.74 L504.8,232.96 L504.3,233.19 L503.8,233.42 L503.3,233.64 L502.8,233.87 L502.3,234.04 L501.8,234.09 L501.3,234.03 L500.8,233.96 L500.3,233.9 L499.8,233.83 L499.3,233.76 L498.8,233.69 L498.3,233.63 L497.8,233.58 L497.3,233.52 L496.8,233.47 L496.3,233.42 L495.8,233.36 L495.3,233.31 L494.8,233.25 L494.3,233.18 L493.8,233.12 L493.3,233.05 L492.8,232.98 L492.3,232.92 L491.8,232.85 L491.3,232.78 L490.8,232.72 L490.3,232.65 L489.8,232.59 L489.3,232.52 L488.8,232.45 L488.3,232.39 L487.8,232.32 L487.3,232.25 L486.8,232.19 L486.3,232.18 L485.8,232.16 L485.3,232.14 L484.8,232.12 L484.3,232.1 L483.8,232.08 L483.3,232.07 L482.8,232.05 L482.3,232.03 L481.8,232.01 L481.3,231.99 L480.8,231.97 L480.3,231.94 L479.8,231.78 L479.3,231.41 L478.8,229.7Z" fill="url(#g18)"/>
<circle cx="467.4" cy="251.65" r="1.8" fill="#ff0051"/>
<path d="M471.2,251.65 L471.7,250.01 L472.2,249.64 L472.7,249.48 L473.2,249.45 L473.7,249.45 L474.2,249.45 L474.7,249.45 L475.2,249.45 L475.7,249.45 L476.2,249.45 L476.7,249.45 L477.2,249.45 L477.7,249.45 L478.2,249.45 L478.7,249.45 L479.2,249.45 L479.7,249.45 L480.2,249.45 L480.7,249.45 L481.2,249.45 L481.7,249.45 L482.2,249.45 L482.7,249.45 L483.2,249.45 L483.7,249.45 L484.2,249.45 L484.7,249.45 L485.2,249.45 L485.7,249.45 L486.2,249.45 L486.7,249.45 L487.2,249.45 L487.7,249.45 L488.2,249.45 L488.7,249.45 L489.2,249.45 L489.7,249.45 L490.2,249.45 L490.7,249.44 L491.2,249.43 L491.7,249.42 L492.2,249.41 L492.7,249.4 L493.2,249.39 L493.7,249.38 L494.2,249.37 L494.7,249.36 L495.2,249.35 L495.7,249.34 L496.2,249.33 L496.7,249.32 L497.2,249.31 L497.7,249.3 L498.2,249.29 L498.7,249.28 L499.2,249.27 L499.7,249.26 L500.2,249.25 L500.7,249.24 L501.2,249.23 L501.7,249.22 L502.2,249.21 L502.7,249.2 L503.2,249.19 L503.7,249.19 L504.2,249.18 L504.7,249.17 L505.2,249.16 L505.7,249.15 L506.2,249.14 L506.7,249.13 L507.2,249.12 L507.7,249.12 L508.2,249.11 L508.7,249.1 L509.2,249.09 L509.7,249.08 L510.2,249.07 L510.7,249.06 L511.2,249.06 L511.7,249.03 L512.2,248.98 L512.7,248.94 L513.2,248.89 L513.7,248.84 L514.2,248.8 L514.7,248.75 L515.2,248.7 L515.7,248.66 L516.2,248.61 L516.7,248.57 L517.2,248.52 L517.7,248.47 L518.2,248.37 L518.7,248.27 L519.2,248.17 L519.7,248.06 L520.2,247.96 L520.7,247.52 L521.2,246.86 L521.7,246.12 L522.2,245.28 L522.7,244.45 L523.2,243.71 L523.7,243.34 L524.2,243.16 L524.7,243 L525.2,242.84 L525.7,242.68 L526.2,242.52 L526.7,242.38 L527.2,242.36 L527.7,242.44 L528.2,242.53 L528.7,242.61 L529.2,242.69 L529.7,242.78 L530.2,242.86 L530.7,242.99 L531.2,243.31 L531.7,243.88 L532.2,244.48 L532.7,245.08 L533.2,245.86 L533.7,247.09 L534.2,248.29 L534.7,248.51 L535.2,248.72 L535.7,248.93 L536.2,249.05 L536.7,249.05 L537.2,249.05 L537.7,249.05 L538.2,249.05 L538.7,249.05 L539.2,249.05 L539.7,249.05 L540.2,249.06 L540.7,249.1 L541.2,249.14 L541.7,249.19 L542.2,249.23 L542.7,249.27 L543.2,249.31 L543.7,249.44 L544.2,249.76 L544.7,250.51 L544.8,251.1 L544.8,252.2 L544.7,252.79 L544.2,253.54 L543.7,253.86 L543.2,253.99 L542.7,254.03 L542.2,254.07 L541.7,254.11 L541.2,254.16 L540.7,254.2 L540.2,254.24 L539.7,254.25 L539.2,254.25 L538.7,254.25 L538.2,254.25 L537.7,254.25 L537.2,254.25 L536.7,254.25 L536.2,254.25 L535.7,254.37 L535.2,254.58 L534.7,254.79 L534.2,255.01 L533.7,256.21 L533.2,257.44 L532.7,258.22 L532.2,258.82 L531.7,259.42 L531.2,259.99 L530.7,260.31 L530.2,260.44 L529.7,260.52 L529.2,260.61 L528.7,260.69 L528.2,260.77 L527.7,260.86 L527.2,260.94 L526.7,260.92 L526.2,260.78 L525.7,260.62 L525.2,260.46 L524.7,260.3 L524.2,260.14 L523.7,259.96 L523.2,259.59 L522.7,258.85 L522.2,258.02 L521.7,257.18 L521.2,256.44 L520.7,255.78 L520.2,255.34 L519.7,255.24 L519.2,255.13 L518.7,255.03 L518.2,254.93 L517.7,254.83 L517.2,254.78 L516.7,254.73 L516.2,254.69 L515.7,254.64 L515.2,254.6 L514.7,254.55 L514.2,254.5 L513.7,254.46 L513.2,254.41 L512.7,254.36 L512.2,254.32 L511.7,254.27 L511.2,254.24 L510.7,254.24 L510.2,254.23 L509.7,254.22 L509.2,254.21 L508.7,254.2 L508.2,254.19 L507.7,254.18 L507.2,254.18 L506.7,254.17 L506.2,254.16 L505.7,254.15 L505.2,254.14 L504.7,254.13 L504.2,254.12 L503.7,254.11 L503.2,254.11 L502.7,254.1 L502.2,254.09 L501.7,254.08 L501.2,254.07 L500.7,254.06 L500.2,254.05 L499.7,254.04 L499.2,254.03 L498.7,254.02 L498.2,254.01 L497.7,254 L497.2,253.99 L496.7,253.98 L496.2,253.97 L495.7,253.96 L495.2,253.95 L494.7,253.94 L494.2,253.93 L493.7,253.92 L493.2,253.91 L492.7,253.9 L492.2,253.89 L491.7,253.88 L491.2,253.87 L490.7,253.86 L490.2,253.85 L489.7,253.85 L489.2,253.85 L488.7,253.85 L488.2,253.85 L487.7,253.85 L487.2,253.85 L486.7,253.85 L486.2,253.85 L485.7,253.85 L485.2,253.85 L484.7,253.85 L484.2,253.85 L483.7,253.85 L483.2,253.85 L482.7,253.85 L482.2,253.85 L481.7,253.85 L481.2,253.85 L480.7,253.85 L480.2,253.85 L479.7,253.85 L479.2,253.85 L478.7,253.85 L478.2,253.85 L477.7,253.85 L477.2,253.85 L476.7,253.85 L476.2,253.85 L475.7,253.85 L475.2,253.85 L474.7,253.85 L474.2,253.85 L473.7,253.85 L473.2,253.85 L472.7,253.82 L472.2,253.66 L471.7,253.29 L471.2,251.65Z" fill="#ff0051"/>
<circle cx="525" cy="245" r="1.5" fill="#0084f9"/>
<circle cx="528.86" cy="252.38" r="1.5" fill="#0084f9"/>
<circle cx="524.52" cy="251.31" r="1.5" fill="#0084f9"/>
<circle cx="530.48" cy="246.59" r="1.5" fill="#0084f9"/>
<circle cx="529.55" cy="250.69" r="1.5" fill="#0084f9"/>
<circle cx="526.96" cy="256.66" r="1.5" fill="#9b23ad"/>
<circle cx="526.14" cy="251.75" r="1.5" fill="#9b23ad"/>
<circle cx="528.5" cy="258.65" r="1.5" fill="#9b23ad"/>
<path d="M499.5,273.6 L500,271.65 L500.5,271.28 L501,271.12 L501.5,271.03 L502,270.95 L502.5,270.86 L503,270.7 L503.5,270.54 L504,270.37 L504.5,270.2 L505,270.04 L505.5,269.87 L506,269.73 L506.5,269.58 L507,269.43 L507.5,269.29 L508,269.14 L508.5,268.99 L509,268.85 L509.5,268.7 L510,268.62 L510.5,268.62 L511,268.66 L511.5,268.69 L512,268.73 L512.5,268.76 L513,268.8 L513.5,268.87 L514,268.98 L514.5,269.08 L515,269.19 L515.5,269.3 L516,269.4 L516.5,269.54 L517,269.77 L517.5,270 L518,270.22 L518.5,270.45 L519,270.62 L519.5,270.77 L520,270.34 L520.5,269.64 L521,268.87 L521.5,268.16 L522,267.7 L522.5,267.25 L523,266.79 L523.5,266.34 L524,265.91 L524.5,265.62 L525,265.33 L525.5,265.04 L526,264.76 L526.5,264.51 L527,264.43 L527.5,264.49 L528,264.7 L528.5,265.04 L529,265.48 L529.5,265.93 L530,266.38 L530.5,266.9 L531,267.59 L531.5,268.28 L532,268.96 L532.5,269.54 L533,270.11 L533.5,270.68 L534,270.89 L534.5,270.93 L535,270.96 L535.5,271 L536,271.04 L536.5,271.08 L537,271.12 L537.5,271.16 L538,271.2 L538.5,271.22 L539,271.24 L539.5,271.25 L540,271.27 L540.5,271.29 L541,271.31 L541.5,271.32 L542,271.34 L542.5,271.47 L543,271.79 L543.5,272.54 L543.8,273.6 L543.8,273.6 L543.5,274.66 L543,275.41 L542.5,275.73 L542,275.86 L541.5,275.88 L541,275.89 L540.5,275.91 L540,275.93 L539.5,275.95 L539,275.96 L538.5,275.98 L538,276 L537.5,276.04 L537,276.08 L536.5,276.12 L536,276.16 L535.5,276.2 L535,276.24 L534.5,276.27 L534,276.31 L533.5,276.52 L533,277.09 L532.5,277.66 L532,278.24 L531.5,278.92 L531,279.61 L530.5,280.3 L530,280.82 L529.5,281.27 L529,281.72 L528.5,282.16 L528,282.5 L527.5,282.71 L527,282.77 L526.5,282.69 L526,282.44 L525.5,282.16 L525,281.87 L524.5,281.58 L524,281.29 L523.5,280.86 L523,280.41 L522.5,279.95 L522,279.5 L521.5,279.04 L521,278.33 L520.5,277.56 L520,276.86 L519.5,276.43 L519,276.58 L518.5,276.75 L518,276.98 L517.5,277.2 L517,277.43 L516.5,277.66 L516,277.8 L515.5,277.9 L515,278.01 L514.5,278.12 L514,278.22 L513.5,278.33 L513,278.4 L512.5,278.44 L512,278.47 L511.5,278.51 L511,278.54 L510.5,278.58 L510,278.58 L509.5,278.5 L509,278.35 L508.5,278.21 L508,278.06 L507.5,277.91 L507,277.77 L506.5,277.62 L506,277.47 L505.5,277.33 L505,277.16 L504.5,277 L504,276.83 L503.5,276.66 L503,276.5 L502.5,276.34 L502,276.25 L501.5,276.17 L501,276.08 L500.5,275.92 L500,275.55 L499.5,273.6Z" fill="url(#g19)"/>
<circle cx="509.11" cy="275.53" r="1.5" fill="#ff0051"/>
<circle cx="513.48" cy="274.39" r="1.5" fill="#ff0051"/>
<circle cx="509.86" cy="272.65" r="1.5" fill="#ff0051"/>
<circle cx="505.65" cy="272.2" r="1.5" fill="#ff0051"/>
<circle cx="505.85" cy="274.54" r="1.5" fill="#ab15a7"/>
<circle cx="508.07" cy="271.85" r="1.5" fill="#ab15a7"/>
<circle cx="506.01" cy="274.97" r="1.5" fill="#ab15a7"/>
<circle cx="529.96" cy="275.09" r="1.5" fill="#0084f9"/>
<circle cx="525.26" cy="270.33" r="1.5" fill="#0084f9"/>
<circle cx="525.34" cy="273.08" r="1.5" fill="#0084f9"/>
<circle cx="524.26" cy="273" r="1.5" fill="#0084f9"/>
<circle cx="525.11" cy="279.38" r="1.5" fill="#0084f9"/>
<path d="M507,295.55 L507.5,293.91 L508,293.54 L508.5,293.38 L509,293.35 L509.5,293.35 L510,293.35 L510.5,293.35 L511,293.35 L511.5,293.35 L512,293.35 L512.5,293.35 L513,293.35 L513.5,293.35 L514,293.35 L514.5,293.35 L515,293.35 L515.5,293.35 L516,293.35 L516.5,293.35 L517,293.35 L517.5,293.35 L518,293.35 L518.5,293.35 L519,293.35 L519.5,293.35 L520,293.35 L520.5,293.35 L521,293.35 L521.5,293.35 L522,293.35 L522.5,293.35 L523,293.35 L523.5,293.35 L524,293.35 L524.5,293.35 L525,293.35 L525.5,293.35 L526,293.35 L526.5,293.35 L527,293.35 L527.5,293.35 L528,293.35 L528.5,293.35 L529,293.35 L529.5,293.35 L530,293.36 L530.5,293.49 L531,293.81 L531.5,294.56 L531.6,295.55 L531.6,295.55 L531.5,296.54 L531,297.29 L530.5,297.61 L530,297.74 L529.5,297.75 L529,297.75 L528.5,297.75 L528,297.75 L527.5,297.75 L527,297.75 L526.5,297.75 L526,297.75 L525.5,297.75 L525,297.75 L524.5,297.75 L524,297.75 L523.5,297.75 L523,297.75 L522.5,297.75 L522,297.75 L521.5,297.75 L521,297.75 L520.5,297.75 L520,297.75 L519.5,297.75 L519,297.75 L518.5,297.75 L518,297.75 L517.5,297.75 L517,297.75 L516.5,297.75 L516,297.75 L515.5,297.75 L515,297.75 L514.5,297.75 L514,297.75 L513.5,297.75 L513,297.75 L512.5,297.75 L512,297.75 L511.5,297.75 L511,297.75 L510.5,297.75 L510,297.75 L509.5,297.75 L509,297.75 L508.5,297.72 L508,297.56 L507.5,297.19 L507,295.55Z" fill="url(#g20)"/>
<rect x="519.4" y="286.1" width="4.6" height="19.1" rx="2.3" fill="#f20072"/>
<circle cx="521.7" cy="303" r="2" fill="#0084f9"/>
<line x1="460.9" y1="317.5" x2="600.75" y2="317.5" stroke="#333" stroke-width="1"/>
<line x1="521.3" y1="317.5" x2="521.3" y2="320.7" stroke="#333" stroke-width="1"/>
<text x="521.3" y="331.8" font-size="10.7" text-anchor="middle" fill="#333" stroke="#333" stroke-width="0.12">0.0</text>
<line x1="586.3" y1="317.5" x2="586.3" y2="320.7" stroke="#333" stroke-width="1"/>
<text x="586.3" y="331.8" font-size="10.7" text-anchor="middle" fill="#333" stroke="#333" stroke-width="0.12">0.5</text>
<text x="439.6" y="212.35" font-size="12.4" text-anchor="end" fill="#333" stroke="#333" stroke-width="0.12">3</text>
<text x="439.6" y="234.3" font-size="12.4" text-anchor="end" fill="#333" stroke="#333" stroke-width="0.12">2</text>
<text x="439.6" y="256.25" font-size="12.4" text-anchor="end" fill="#333" stroke="#333" stroke-width="0.12">5</text>
<text x="439.6" y="278.2" font-size="12.4" text-anchor="end" fill="#333" stroke="#333" stroke-width="0.12">4</text>
<text x="439.6" y="300.15" font-size="12.4" text-anchor="end" fill="#333" stroke="#333" stroke-width="0.12">1</text>
<text x="530.83" y="181.1" font-size="10.7" text-anchor="middle" fill="#000" stroke="#000" stroke-width="0.12" textLength="61" lengthAdjust="spacingAndGlyphs">RCPE-RCPE</text>
<rect x="609.1" y="185.8" width="1.9" height="131.1" fill="url(#cb)"/>
<text x="614.3" y="189.8" font-size="10.7" text-anchor="start" fill="#111" stroke="#111" stroke-width="0.12">High</text>
<text x="614.3" y="321.2" font-size="10.7" text-anchor="start" fill="#111" stroke="#111" stroke-width="0.12">Low</text>
<line x1="109.3" y1="358.3" x2="109.3" y2="370.75" stroke="#999" stroke-width="1"/>
<line x1="109.3" y1="477.05" x2="109.3" y2="490" stroke="#999" stroke-width="1"/>
<path d="M32.8,379.94 L33.3,378.69 L33.8,378.33 L34.3,378.16 L34.8,378.14 L35.3,378.14 L35.8,378.13 L36.3,378.13 L36.8,378.13 L37.3,378.12 L37.8,378.12 L38.3,378.12 L38.8,378.12 L39.3,378.11 L39.8,378.11 L40.3,378.11 L40.8,378.1 L41.3,378.1 L41.8,378.1 L42.3,378.1 L42.8,378.09 L43.3,378.09 L43.8,378.09 L44.3,378.08 L44.8,378.08 L45.3,378.08 L45.8,378.07 L46.3,378.07 L46.8,378.07 L47.3,378.07 L47.8,378.06 L48.3,378.06 L48.8,378.06 L49.3,378.05 L49.8,378.05 L50.3,378.05 L50.8,378.05 L51.3,378.05 L51.8,378.05 L52.3,378.05 L52.8,378.05 L53.3,378.05 L53.8,378.05 L54.3,378.05 L54.8,378.05 L55.3,378.05 L55.8,378.05 L56.3,378.05 L56.8,378.05 L57.3,378.05 L57.8,378.05 L58.3,378.05 L58.8,378.05 L59.3,378.05 L59.8,378.05 L60.3,378.05 L60.8,378.05 L61.3,378.05 L61.8,378.05 L62.3,378.05 L62.8,378.05 L63.3,378.05 L63.8,378.05 L64.3,378.05 L64.8,378.05 L65.3,378.05 L65.8,378.05 L66.3,378.05 L66.8,378.05 L67.3,378.05 L67.8,378.05 L68.3,378.05 L68.8,378.05 L69.3,378.05 L69.8,378.05 L70.3,378.05 L70.8,378.04 L71.3,378.03 L71.8,378.03 L72.3,378.02 L72.8,378.02 L73.3,378.01 L73.8,378.01 L74.3,378 L74.8,377.99 L75.3,377.99 L75.8,377.98 L76.3,377.98 L76.8,377.97 L77.3,377.96 L77.8,377.96 L78.3,377.95 L78.8,377.95 L79.3,377.94 L79.8,377.94 L80.3,377.93 L80.8,377.92 L81.3,377.92 L81.8,377.91 L82.3,377.91 L82.8,377.9 L83.3,377.89 L83.8,377.89 L84.3,377.88 L84.8,377.88 L85.3,377.87 L85.8,377.87 L86.3,377.86 L86.8,377.8 L87.3,377.55 L87.8,377.31 L88.3,377.07 L88.8,376.83 L89.3,376.57 L89.8,376.25 L90.3,375.94 L90.8,375.62 L91.3,375.3 L91.8,374.99 L92.3,374.67 L92.8,374.35 L93.3,374.01 L93.8,373.67 L94.3,373.33 L94.8,372.99 L95.3,372.64 L95.8,372.3 L96.3,371.96 L96.8,371.64 L97.3,371.48 L97.8,371.39 L98.3,371.3 L98.8,371.22 L99.3,371.13 L99.8,371.04 L100.3,370.98 L100.8,371.01 L101.3,371.14 L101.8,371.36 L102.3,371.58 L102.8,371.81 L103.3,372.03 L103.8,372.25 L104.3,372.48 L104.8,372.7 L105.3,372.97 L105.8,373.39 L106.3,373.87 L106.8,374.35 L107.3,374.83 L107.8,375.31 L108.3,375.85 L108.8,376.38 L109.3,376.86 L109.8,377.13 L110.3,377.41 L110.8,377.69 L111.3,377.96 L111.8,378.01 L112.3,377.99 L112.8,377.97 L113.3,377.95 L113.8,377.92 L114.3,377.9 L114.8,377.88 L115.3,377.86 L115.8,377.84 L116.3,377.81 L116.8,377.79 L117.3,377.77 L117.8,377.75 L118.3,377.72 L118.8,377.7 L119.3,377.68 L119.8,377.66 L120.3,377.64 L120.8,377.61 L121.3,377.59 L121.8,377.57 L122.3,377.55 L122.8,377.53 L123.3,377.51 L123.8,377.49 L124.3,377.46 L124.8,377.44 L125.3,377.42 L125.8,377.4 L126.3,377.38 L126.8,377.36 L127.3,377.35 L127.8,377.34 L128.3,377.34 L128.8,377.34 L129.3,377.33 L129.8,377.33 L130.3,377.32 L130.8,377.32 L131.3,377.32 L131.8,377.31 L132.3,377.31 L132.8,377.31 L133.3,377.3 L133.8,377.3 L134.3,377.29 L134.8,377.29 L135.3,377.29 L135.8,377.28 L136.3,377.28 L136.8,377.27 L137.3,377.27 L137.8,377.27 L138.3,377.26 L138.8,377.26 L139.3,377.26 L139.8,377.25 L140.3,377.26 L140.8,377.27 L141.3,377.28 L141.8,377.29 L142.3,377.3 L142.8,377.31 L143.3,377.32 L143.8,377.33 L144.3,377.34 L144.8,377.35 L145.3,377.36 L145.8,377.37 L146.3,377.38 L146.8,377.39 L147.3,377.4 L147.8,377.41 L148.3,377.42 L148.8,377.43 L149.3,377.44 L149.8,377.45 L150.3,377.46 L150.8,377.48 L151.3,377.5 L151.8,377.52 L152.3,377.54 L152.8,377.56 L153.3,377.58 L153.8,377.6 L154.3,377.62 L154.8,377.64 L155.3,377.66 L155.8,377.68 L156.3,377.7 L156.8,377.72 L157.3,377.74 L157.8,377.76 L158.3,377.78 L158.8,377.8 L159.3,377.82 L159.8,377.84 L160.3,377.86 L160.8,377.89 L161.3,378.02 L161.8,378.33 L162.3,379.08 L162.5,380.25 L162.5,380.25 L162.3,381.42 L161.8,382.17 L161.3,382.48 L160.8,382.61 L160.3,382.64 L159.8,382.66 L159.3,382.68 L158.8,382.7 L158.3,382.72 L157.8,382.74 L157.3,382.76 L156.8,382.78 L156.3,382.8 L155.8,382.82 L155.3,382.84 L154.8,382.86 L154.3,382.88 L153.8,382.9 L153.3,382.92 L152.8,382.94 L152.3,382.96 L151.8,382.98 L151.3,383 L150.8,383.02 L150.3,383.04 L149.8,383.05 L149.3,383.06 L148.8,383.07 L148.3,383.08 L147.8,383.09 L147.3,383.1 L146.8,383.11 L146.3,383.12 L145.8,383.13 L145.3,383.14 L144.8,383.15 L144.3,383.16 L143.8,383.17 L143.3,383.18 L142.8,383.19 L142.3,383.2 L141.8,383.21 L141.3,383.22 L140.8,383.23 L140.3,383.24 L139.8,383.25 L139.3,383.24 L138.8,383.24 L138.3,383.24 L137.8,383.23 L137.3,383.23 L136.8,383.23 L136.3,383.22 L135.8,383.22 L135.3,383.21 L134.8,383.21 L134.3,383.21 L133.8,383.2 L133.3,383.2 L132.8,383.19 L132.3,383.19 L131.8,383.19 L131.3,383.18 L130.8,383.18 L130.3,383.18 L129.8,383.17 L129.3,383.17 L128.8,383.16 L128.3,383.16 L127.8,383.16 L127.3,383.15 L126.8,383.14 L126.3,383.12 L125.8,383.1 L125.3,383.08 L124.8,383.06 L124.3,383.04 L123.8,383.01 L123.3,382.99 L122.8,382.97 L122.3,382.95 L121.8,382.93 L121.3,382.91 L120.8,382.89 L120.3,382.86 L119.8,382.84 L119.3,382.82 L118.8,382.8 L118.3,382.78 L117.8,382.75 L117.3,382.73 L116.8,382.71 L116.3,382.69 L115.8,382.66 L115.3,382.64 L114.8,382.62 L114.3,382.6 L113.8,382.58 L113.3,382.55 L112.8,382.53 L112.3,382.51 L111.8,382.49 L111.3,382.54 L110.8,382.81 L110.3,383.09 L109.8,383.37 L109.3,383.64 L108.8,384.12 L108.3,384.65 L107.8,385.19 L107.3,385.67 L106.8,386.15 L106.3,386.63 L105.8,387.11 L105.3,387.53 L104.8,387.8 L104.3,388.02 L103.8,388.25 L103.3,388.47 L102.8,388.69 L102.3,388.92 L101.8,389.14 L101.3,389.36 L100.8,389.49 L100.3,389.52 L99.8,389.46 L99.3,389.37 L98.8,389.28 L98.3,389.2 L97.8,389.11 L97.3,389.02 L96.8,388.86 L96.3,388.54 L95.8,388.2 L95.3,387.86 L94.8,387.51 L94.3,387.17 L93.8,386.83 L93.3,386.49 L92.8,386.15 L92.3,385.83 L91.8,385.51 L91.3,385.2 L90.8,384.88 L90.3,384.56 L89.8,384.25 L89.3,383.93 L88.8,383.67 L88.3,383.43 L87.8,383.19 L87.3,382.95 L86.8,382.7 L86.3,382.64 L85.8,382.63 L85.3,382.63 L84.8,382.62 L84.3,382.62 L83.8,382.61 L83.3,382.61 L82.8,382.6 L82.3,382.59 L81.8,382.59 L81.3,382.58 L80.8,382.58 L80.3,382.57 L79.8,382.56 L79.3,382.56 L78.8,382.55 L78.3,382.55 L77.8,382.54 L77.3,382.54 L76.8,382.53 L76.3,382.52 L75.8,382.52 L75.3,382.51 L74.8,382.51 L74.3,382.5 L73.8,382.49 L73.3,382.49 L72.8,382.48 L72.3,382.48 L71.8,382.47 L71.3,382.47 L70.8,382.46 L70.3,382.45 L69.8,382.45 L69.3,382.45 L68.8,382.45 L68.3,382.45 L67.8,382.45 L67.3,382.45 L66.8,382.45 L66.3,382.45 L65.8,382.45 L65.3,382.45 L64.8,382.45 L64.3,382.45 L63.8,382.45 L63.3,382.45 L62.8,382.45 L62.3,382.45 L61.8,382.45 L61.3,382.45 L60.8,382.45 L60.3,382.45 L59.8,382.45 L59.3,382.45 L58.8,382.45 L58.3,382.45 L57.8,382.45 L57.3,382.45 L56.8,382.45 L56.3,382.45 L55.8,382.45 L55.3,382.45 L54.8,382.45 L54.3,382.45 L53.8,382.45 L53.3,382.45 L52.8,382.45 L52.3,382.45 L51.8,382.45 L51.3,382.45 L50.8,382.45 L50.3,382.45 L49.8,382.45 L49.3,382.45 L48.8,382.44 L48.3,382.44 L47.8,382.44 L47.3,382.43 L46.8,382.43 L46.3,382.43 L45.8,382.43 L45.3,382.42 L44.8,382.42 L44.3,382.42 L43.8,382.41 L43.3,382.41 L42.8,382.41 L42.3,382.4 L41.8,382.4 L41.3,382.4 L40.8,382.4 L40.3,382.39 L39.8,382.39 L39.3,382.39 L38.8,382.38 L38.3,382.38 L37.8,382.38 L37.3,382.38 L36.8,382.37 L36.3,382.37 L35.8,382.37 L35.3,382.36 L34.8,382.36 L34.3,382.34 L33.8,382.17 L33.3,381.81 L32.8,380.56Z" fill="url(#g21)"/>
<circle cx="107.51" cy="380.5" r="1.5" fill="#ff0051"/>
<circle cx="94.4" cy="384.73" r="1.5" fill="#ff0051"/>
<circle cx="95.57" cy="378.64" r="1.5" fill="#ff0051"/>
<circle cx="90.02" cy="379.77" r="1.5" fill="#ff0051"/>
<circle cx="98.54" cy="380.29" r="1.5" fill="#ff0051"/>
<circle cx="93.62" cy="380.29" r="1.5" fill="#ff0051"/>
<circle cx="90.09" cy="379.28" r="1.5" fill="#ff0051"/>
<circle cx="91.62" cy="379.64" r="1.5" fill="#ff0051"/>
<circle cx="90.75" cy="377.89" r="1.5" fill="#ff0051"/>
<circle cx="95.48" cy="377.29" r="1.5" fill="#ff0051"/>
<circle cx="100.54" cy="380.69" r="1.5" fill="#ff0051"/>
<circle cx="103.51" cy="382.19" r="1.5" fill="#ff0051"/>
<circle cx="102.89" cy="385.13" r="1.5" fill="#ff0051"/>
<circle cx="97.01" cy="377.96" r="1.5" fill="#ff0051"/>
<circle cx="107.73" cy="378.57" r="1.5" fill="#ff0051"/>
<circle cx="103.03" cy="382.07" r="1.5" fill="#ff0051"/>
<circle cx="92.53" cy="382.95" r="1.5" fill="#ff0051"/>
<circle cx="102.7" cy="383.93" r="1.5" fill="#ff0051"/>
<circle cx="100.81" cy="385.63" r="1.5" fill="#ff0051"/>
<circle cx="93.67" cy="382.29" r="1.5" fill="#ff0051"/>
<circle cx="98.05" cy="385.57" r="1.5" fill="#ff0051"/>
<circle cx="101.66" cy="385.44" r="1.5" fill="#ff0051"/>
<circle cx="99.01" cy="386.07" r="1.5" fill="#ff0051"/>
<circle cx="100.19" cy="384.9" r="1.5" fill="#ff0051"/>
<circle cx="94.14" cy="375.91" r="1.5" fill="#ab15a7"/>
<circle cx="92.4" cy="379.27" r="1.5" fill="#ab15a7"/>
<circle cx="91.89" cy="382.39" r="1.5" fill="#ab15a7"/>
<circle cx="100.05" cy="382.15" r="1.5" fill="#ab15a7"/>
<circle cx="101.27" cy="382.84" r="1.5" fill="#ab15a7"/>
<path d="M46.9,401.9 L47.4,400.66 L47.9,400.29 L48.4,400.13 L48.9,400.1 L49.4,400.1 L49.9,400.1 L50.4,400.1 L50.9,400.1 L51.4,400.1 L51.9,400.1 L52.4,400.1 L52.9,400.1 L53.4,400.1 L53.9,400.11 L54.4,400.24 L54.9,400.56 L55.4,401.31 L55.5,402.2 L55.5,402.2 L55.4,403.09 L54.9,403.84 L54.4,404.16 L53.9,404.29 L53.4,404.3 L52.9,404.3 L52.4,404.3 L51.9,404.3 L51.4,404.3 L50.9,404.3 L50.4,404.3 L49.9,404.3 L49.4,404.3 L48.9,404.3 L48.4,404.27 L47.9,404.11 L47.4,403.74 L46.9,402.5Z" fill="#ff0051"/>
<path d="M57.2,401.83 L57.7,400.59 L58.2,400.22 L58.7,400.06 L59.2,400.02 L59.7,400 L60.2,399.98 L60.7,399.96 L61.2,399.94 L61.7,399.93 L62.2,399.91 L62.7,399.89 L63.2,399.87 L63.7,399.85 L64.2,399.83 L64.7,399.81 L65.2,399.79 L65.7,399.76 L66.2,399.74 L66.7,399.72 L67.2,399.69 L67.7,399.67 L68.2,399.64 L68.7,399.62 L69.2,399.6 L69.7,399.57 L70.2,399.55 L70.7,399.52 L71.2,399.5 L71.7,399.48 L72.2,399.45 L72.7,399.43 L73.2,399.4 L73.7,399.38 L74.2,399.36 L74.7,399.33 L75.2,399.31 L75.7,399.28 L76.2,399.26 L76.7,399.24 L77.2,399.21 L77.7,399.2 L78.2,399.2 L78.7,399.2 L79.2,399.2 L79.7,399.2 L80.2,399.2 L80.7,399.2 L81.2,399.2 L81.7,399.2 L82.2,399.2 L82.7,399.2 L83.2,399.2 L83.7,399.2 L84.2,399.2 L84.7,399.2 L85.2,399.2 L85.7,399.2 L86.2,399.2 L86.7,399.2 L87.2,399.2 L87.7,399.2 L88.2,399.2 L88.7,399.2 L89.2,399.2 L89.7,399.2 L90.2,399.2 L90.7,399.2 L91.2,399.2 L91.7,399.2 L92.2,399.2 L92.7,399.2 L93.2,399.2 L93.7,399.2 L94.2,399.2 L94.7,399.2 L95.2,399.2 L95.7,399.2 L96.2,399.2 L96.7,399.2 L97.2,399.2 L97.7,399.2 L98.2,399.2 L98.7,399.21 L99.2,399.22 L99.7,399.22 L100.2,399.23 L100.7,399.23 L101.2,399.24 L101.7,399.25 L102.2,399.25 L102.7,399.26 L103.2,399.26 L103.7,399.27 L104.2,399.28 L104.7,399.28 L105.2,399.29 L105.7,399.3 L106.2,399 L106.7,398.7 L107.2,398.4 L107.7,398.09 L108.2,397.79 L108.7,397.49 L109.2,397.16 L109.7,396.81 L110.2,396.45 L110.7,396.09 L111.2,395.74 L111.7,395.38 L112.2,395.03 L112.7,394.67 L113.2,394.41 L113.7,394.22 L114.2,394.03 L114.7,393.84 L115.2,393.65 L115.7,393.46 L116.2,393.3 L116.7,393.23 L117.2,393.28 L117.7,393.49 L118.2,393.74 L118.7,393.99 L119.2,394.24 L119.7,394.49 L120.2,394.74 L120.7,395.06 L121.2,395.66 L121.7,396.32 L122.2,396.97 L122.7,397.63 L123.2,398.28 L123.7,398.89 L124.2,399.19 L124.7,399.5 L125.2,399.81 L125.7,400.05 L126.2,400.18 L126.7,400.5 L127.2,401.25 L127.5,402.2 L127.5,402.2 L127.2,403.15 L126.7,403.9 L126.2,404.22 L125.7,404.35 L125.2,404.59 L124.7,404.9 L124.2,405.21 L123.7,405.51 L123.2,406.12 L122.7,406.77 L122.2,407.43 L121.7,408.08 L121.2,408.74 L120.7,409.34 L120.2,409.66 L119.7,409.91 L119.2,410.16 L118.7,410.41 L118.2,410.66 L117.7,410.91 L117.2,411.12 L116.7,411.17 L116.2,411.1 L115.7,410.94 L115.2,410.75 L114.7,410.56 L114.2,410.37 L113.7,410.18 L113.2,409.99 L112.7,409.73 L112.2,409.37 L111.7,409.02 L111.2,408.66 L110.7,408.31 L110.2,407.95 L109.7,407.59 L109.2,407.24 L108.7,406.91 L108.2,406.61 L107.7,406.31 L107.2,406 L106.7,405.7 L106.2,405.4 L105.7,405.1 L105.2,405.11 L104.7,405.12 L104.2,405.12 L103.7,405.13 L103.2,405.14 L102.7,405.14 L102.2,405.15 L101.7,405.15 L101.2,405.16 L100.7,405.17 L100.2,405.17 L99.7,405.18 L99.2,405.18 L98.7,405.19 L98.2,405.2 L97.7,405.2 L97.2,405.2 L96.7,405.2 L96.2,405.2 L95.7,405.2 L95.2,405.2 L94.7,405.2 L94.2,405.2 L93.7,405.2 L93.2,405.2 L92.7,405.2 L92.2,405.2 L91.7,405.2 L91.2,405.2 L90.7,405.2 L90.2,405.2 L89.7,405.2 L89.2,405.2 L88.7,405.2 L88.2,405.2 L87.7,405.2 L87.2,405.2 L86.7,405.2 L86.2,405.2 L85.7,405.2 L85.2,405.2 L84.7,405.2 L84.2,405.2 L83.7,405.2 L83.2,405.2 L82.7,405.2 L82.2,405.2 L81.7,405.2 L81.2,405.2 L80.7,405.2 L80.2,405.2 L79.7,405.2 L79.2,405.2 L78.7,405.2 L78.2,405.2 L77.7,405.2 L77.2,405.19 L76.7,405.16 L76.2,405.14 L75.7,405.12 L75.2,405.09 L74.7,405.07 L74.2,405.04 L73.7,405.02 L73.2,405 L72.7,404.97 L72.2,404.95 L71.7,404.92 L71.2,404.9 L70.7,404.88 L70.2,404.85 L69.7,404.83 L69.2,404.8 L68.7,404.78 L68.2,404.76 L67.7,404.73 L67.2,404.71 L66.7,404.68 L66.2,404.66 L65.7,404.64 L65.2,404.61 L64.7,404.59 L64.2,404.57 L63.7,404.55 L63.2,404.53 L62.7,404.51 L62.2,404.49 L61.7,404.47 L61.2,404.46 L60.7,404.44 L60.2,404.42 L59.7,404.4 L59.2,404.38 L58.7,404.34 L58.2,404.18 L57.7,403.81 L57.2,402.57Z" fill="#ff0051"/>
<circle cx="115.87" cy="395.36" r="1.5" fill="#ab15a7"/>
<circle cx="119.57" cy="405.03" r="1.5" fill="#ab15a7"/>
<circle cx="116.04" cy="402.69" r="1.5" fill="#ab15a7"/>
<circle cx="117.91" cy="396.48" r="1.5" fill="#ab15a7"/>
<circle cx="118.84" cy="399.16" r="1.5" fill="#ab15a7"/>
<circle cx="112.6" cy="404.61" r="1.5" fill="#007cf5"/>
<circle cx="117.83" cy="405.01" r="1.5" fill="#007cf5"/>
<circle cx="117.92" cy="408.04" r="1.5" fill="#007cf5"/>
<circle cx="132.4" cy="402.2" r="1.8" fill="#ff0051"/>
<circle cx="141.5" cy="402.2" r="1.8" fill="#ff0051"/>
<circle cx="149.4" cy="402.2" r="1.8" fill="#ff0051"/>
<circle cx="161.4" cy="402.2" r="1.8" fill="#ff0051"/>
<path d="M48,423.84 L48.5,422.59 L49,422.22 L49.5,422.06 L50,422.04 L50.5,422.03 L51,422.03 L51.5,422.03 L52,422.02 L52.5,422.02 L53,422.01 L53.5,422.01 L54,422.01 L54.5,422 L55,422 L55.5,422 L56,421.99 L56.5,421.99 L57,421.99 L57.5,421.98 L58,421.98 L58.5,421.98 L59,421.97 L59.5,421.97 L60,421.96 L60.5,421.96 L61,421.96 L61.5,421.95 L62,421.95 L62.5,421.95 L63,421.95 L63.5,421.95 L64,421.95 L64.5,421.95 L65,421.95 L65.5,421.95 L66,421.95 L66.5,421.95 L67,421.95 L67.5,421.95 L68,421.95 L68.5,421.95 L69,421.95 L69.5,421.95 L70,421.95 L70.5,421.95 L71,421.95 L71.5,421.95 L72,421.95 L72.5,421.95 L73,421.95 L73.5,421.95 L74,421.95 L74.5,421.95 L75,421.95 L75.5,421.95 L76,421.95 L76.5,421.95 L77,421.95 L77.5,421.95 L78,421.95 L78.5,421.95 L79,421.95 L79.5,421.95 L80,421.95 L80.5,421.95 L81,421.95 L81.5,421.94 L82,421.94 L82.5,421.94 L83,421.94 L83.5,421.93 L84,421.93 L84.5,421.93 L85,421.93 L85.5,421.92 L86,421.92 L86.5,421.92 L87,421.92 L87.5,421.91 L88,421.91 L88.5,421.91 L89,421.91 L89.5,421.9 L90,421.9 L90.5,421.9 L91,421.9 L91.5,421.89 L92,421.89 L92.5,421.89 L93,421.89 L93.5,421.88 L94,421.88 L94.5,421.88 L95,421.88 L95.5,421.87 L96,421.87 L96.5,421.87 L97,421.87 L97.5,421.86 L98,421.86 L98.5,421.86 L99,421.86 L99.5,421.85 L100,421.85 L100.5,421.83 L101,421.82 L101.5,421.8 L102,421.79 L102.5,421.77 L103,421.76 L103.5,421.74 L104,421.73 L104.5,421.71 L105,421.7 L105.5,421.69 L106,421.67 L106.5,421.6 L107,421.41 L107.5,421.08 L108,420.7 L108.5,420.33 L109,419.99 L109.5,419.74 L110,419.65 L110.5,419.65 L111,419.65 L111.5,419.65 L112,419.65 L112.5,419.65 L113,419.66 L113.5,419.74 L114,419.96 L114.5,420.33 L115,420.71 L115.5,421.08 L116,421.4 L116.5,421.58 L117,421.66 L117.5,421.66 L118,421.67 L118.5,421.68 L119,421.68 L119.5,421.69 L120,421.69 L120.5,421.7 L121,421.7 L121.5,421.71 L122,421.72 L122.5,421.72 L123,421.73 L123.5,421.73 L124,421.74 L124.5,421.75 L125,421.75 L125.5,421.76 L126,421.77 L126.5,421.78 L127,421.79 L127.5,421.8 L128,421.82 L128.5,421.83 L129,421.84 L129.5,421.85 L130,421.86 L130.5,421.87 L131,421.88 L131.5,421.89 L132,421.9 L132.5,421.91 L133,421.97 L133.5,422.18 L134,422.64 L134.4,424.15 L134.4,424.15 L134,425.66 L133.5,426.12 L133,426.33 L132.5,426.39 L132,426.4 L131.5,426.41 L131,426.42 L130.5,426.43 L130,426.44 L129.5,426.45 L129,426.46 L128.5,426.47 L128,426.48 L127.5,426.5 L127,426.51 L126.5,426.52 L126,426.53 L125.5,426.54 L125,426.55 L124.5,426.55 L124,426.56 L123.5,426.57 L123,426.57 L122.5,426.58 L122,426.58 L121.5,426.59 L121,426.6 L120.5,426.6 L120,426.61 L119.5,426.61 L119,426.62 L118.5,426.62 L118,426.63 L117.5,426.64 L117,426.64 L116.5,426.72 L116,426.9 L115.5,427.22 L115,427.59 L114.5,427.97 L114,428.34 L113.5,428.56 L113,428.64 L112.5,428.65 L112,428.65 L111.5,428.65 L111,428.65 L110.5,428.65 L110,428.65 L109.5,428.56 L109,428.31 L108.5,427.97 L108,427.6 L107.5,427.22 L107,426.89 L106.5,426.7 L106,426.63 L105.5,426.61 L105,426.6 L104.5,426.59 L104,426.57 L103.5,426.56 L103,426.54 L102.5,426.53 L102,426.51 L101.5,426.5 L101,426.48 L100.5,426.47 L100,426.45 L99.5,426.45 L99,426.44 L98.5,426.44 L98,426.44 L97.5,426.44 L97,426.43 L96.5,426.43 L96,426.43 L95.5,426.43 L95,426.42 L94.5,426.42 L94,426.42 L93.5,426.42 L93,426.41 L92.5,426.41 L92,426.41 L91.5,426.41 L91,426.4 L90.5,426.4 L90,426.4 L89.5,426.4 L89,426.39 L88.5,426.39 L88,426.39 L87.5,426.39 L87,426.38 L86.5,426.38 L86,426.38 L85.5,426.38 L85,426.37 L84.5,426.37 L84,426.37 L83.5,426.37 L83,426.36 L82.5,426.36 L82,426.36 L81.5,426.36 L81,426.35 L80.5,426.35 L80,426.35 L79.5,426.35 L79,426.35 L78.5,426.35 L78,426.35 L77.5,426.35 L77,426.35 L76.5,426.35 L76,426.35 L75.5,426.35 L75,426.35 L74.5,426.35 L74,426.35 L73.5,426.35 L73,426.35 L72.5,426.35 L72,426.35 L71.5,426.35 L71,426.35 L70.5,426.35 L70,426.35 L69.5,426.35 L69,426.35 L68.5,426.35 L68,426.35 L67.5,426.35 L67,426.35 L66.5,426.35 L66,426.35 L65.5,426.35 L65,426.35 L64.5,426.35 L64,426.35 L63.5,426.35 L63,426.35 L62.5,426.35 L62,426.35 L61.5,426.35 L61,426.34 L60.5,426.34 L60,426.34 L59.5,426.33 L59,426.33 L58.5,426.32 L58,426.32 L57.5,426.32 L57,426.31 L56.5,426.31 L56,426.31 L55.5,426.3 L55,426.3 L54.5,426.3 L54,426.29 L53.5,426.29 L53,426.29 L52.5,426.28 L52,426.28 L51.5,426.27 L51,426.27 L50.5,426.27 L50,426.26 L49.5,426.24 L49,426.08 L48.5,425.71 L48,424.46Z" fill="url(#g22)"/>
<circle cx="84.25" cy="424.05" r="1.5" fill="#ff0051"/>
<circle cx="83.64" cy="424.3" r="1.5" fill="#ff0051"/>
<circle cx="95.45" cy="424.26" r="1.5" fill="#ff0051"/>
<circle cx="90.35" cy="423.77" r="1.5" fill="#ff0051"/>
<circle cx="70.04" cy="423.95" r="1.5" fill="#ff0051"/>
<circle cx="94.47" cy="423.97" r="1.5" fill="#ff0051"/>
<circle cx="87.28" cy="423.72" r="1.5" fill="#ff0051"/>
<circle cx="66.49" cy="423.97" r="1.5" fill="#ff0051"/>
<circle cx="91.55" cy="424.33" r="1.5" fill="#bb00a0"/>
<circle cx="91.7" cy="423.96" r="1.5" fill="#bb00a0"/>
<circle cx="85.18" cy="424.12" r="1.5" fill="#bb00a0"/>
<circle cx="83.12" cy="423.83" r="1.5" fill="#bb00a0"/>
<circle cx="131.4" cy="423.87" r="1.5" fill="#0084f9"/>
<circle cx="132.67" cy="424.53" r="1.5" fill="#0084f9"/>
<circle cx="118.26" cy="424.09" r="1.5" fill="#0084f9"/>
<rect x="109" y="414.9" width="5" height="18.7" rx="2.5" fill="#bb00a0"/>
<circle cx="111" cy="426" r="1.6" fill="#007cf5"/>
<circle cx="112" cy="419" r="1.6" fill="#6359da"/>
<circle cx="84.9" cy="446.1" r="1.8" fill="#008bfb"/>
<path d="M88.3,445.78 L88.8,444.54 L89.3,444.17 L89.8,444.01 L90.3,443.98 L90.8,443.98 L91.3,443.97 L91.8,443.97 L92.3,443.97 L92.8,443.96 L93.3,443.96 L93.8,443.95 L94.3,443.95 L94.8,443.94 L95.3,443.94 L95.8,443.94 L96.3,443.93 L96.8,443.93 L97.3,443.92 L97.8,443.92 L98.3,443.91 L98.8,443.91 L99.3,443.91 L99.8,443.9 L100.3,443.89 L100.8,443.87 L101.3,443.86 L101.8,443.84 L102.3,443.83 L102.8,443.7 L103.3,443.37 L103.8,443.04 L104.3,442.79 L104.8,442.63 L105.3,442.6 L105.8,442.6 L106.3,442.6 L106.8,442.6 L107.3,442.6 L107.8,442.6 L108.3,442.6 L108.8,442.6 L109.3,442.6 L109.8,442.6 L110.3,442.6 L110.8,442.6 L111.3,442.6 L111.8,442.6 L112.3,442.6 L112.8,442.6 L113.3,442.6 L113.8,442.6 L114.3,442.66 L114.8,442.81 L115.3,443.12 L115.8,443.47 L116.3,443.81 L116.8,443.81 L117.3,443.81 L117.8,443.82 L118.3,443.82 L118.8,443.82 L119.3,443.83 L119.8,443.83 L120.3,443.83 L120.8,443.84 L121.3,443.84 L121.8,443.84 L122.3,443.85 L122.8,443.85 L123.3,443.85 L123.8,443.86 L124.3,443.86 L124.8,443.86 L125.3,443.87 L125.8,443.87 L126.3,443.88 L126.8,443.88 L127.3,443.88 L127.8,443.89 L128.3,443.89 L128.8,443.89 L129.3,443.9 L129.8,443.9 L130.3,443.9 L130.8,443.91 L131.3,443.91 L131.8,443.91 L132.3,443.92 L132.8,443.92 L133.3,443.93 L133.8,443.93 L134.3,443.93 L134.8,443.94 L135.3,443.94 L135.8,443.94 L136.3,443.95 L136.8,443.95 L137.3,443.95 L137.8,443.96 L138.3,443.96 L138.8,443.97 L139.3,443.97 L139.8,443.97 L140.3,443.98 L140.8,443.98 L141.3,443.98 L141.8,443.99 L142.3,444.04 L142.8,444.26 L143.3,444.72 L143.7,446.1 L143.7,446.1 L143.3,447.48 L142.8,447.94 L142.3,448.16 L141.8,448.21 L141.3,448.22 L140.8,448.22 L140.3,448.22 L139.8,448.23 L139.3,448.23 L138.8,448.23 L138.3,448.24 L137.8,448.24 L137.3,448.25 L136.8,448.25 L136.3,448.25 L135.8,448.26 L135.3,448.26 L134.8,448.26 L134.3,448.27 L133.8,448.27 L133.3,448.27 L132.8,448.28 L132.3,448.28 L131.8,448.29 L131.3,448.29 L130.8,448.29 L130.3,448.3 L129.8,448.3 L129.3,448.3 L128.8,448.31 L128.3,448.31 L127.8,448.31 L127.3,448.32 L126.8,448.32 L126.3,448.32 L125.8,448.33 L125.3,448.33 L124.8,448.34 L124.3,448.34 L123.8,448.34 L123.3,448.35 L122.8,448.35 L122.3,448.35 L121.8,448.36 L121.3,448.36 L120.8,448.36 L120.3,448.37 L119.8,448.37 L119.3,448.37 L118.8,448.38 L118.3,448.38 L117.8,448.38 L117.3,448.39 L116.8,448.39 L116.3,448.39 L115.8,448.73 L115.3,449.08 L114.8,449.39 L114.3,449.54 L113.8,449.6 L113.3,449.6 L112.8,449.6 L112.3,449.6 L111.8,449.6 L111.3,449.6 L110.8,449.6 L110.3,449.6 L109.8,449.6 L109.3,449.6 L108.8,449.6 L108.3,449.6 L107.8,449.6 L107.3,449.6 L106.8,449.6 L106.3,449.6 L105.8,449.6 L105.3,449.6 L104.8,449.57 L104.3,449.41 L103.8,449.16 L103.3,448.83 L102.8,448.5 L102.3,448.37 L101.8,448.36 L101.3,448.34 L100.8,448.33 L100.3,448.31 L99.8,448.3 L99.3,448.29 L98.8,448.29 L98.3,448.29 L97.8,448.28 L97.3,448.28 L96.8,448.27 L96.3,448.27 L95.8,448.26 L95.3,448.26 L94.8,448.26 L94.3,448.25 L93.8,448.25 L93.3,448.24 L92.8,448.24 L92.3,448.23 L91.8,448.23 L91.3,448.23 L90.8,448.22 L90.3,448.22 L89.8,448.19 L89.3,448.03 L88.8,447.66 L88.3,446.42Z" fill="url(#g23)"/>
<rect x="107.6" y="436.4" width="5" height="18.7" rx="2.5" fill="#f90067"/>
<circle cx="108" cy="446" r="1.8" fill="#007cf5"/>
<circle cx="150.5" cy="446.1" r="1.8" fill="#008bfb"/>
<circle cx="155" cy="446.1" r="1.8" fill="#008bfb"/>
<circle cx="61.8" cy="468.05" r="1.8" fill="#ff0051"/>
<path d="M69.7,467.75 L70.2,466.51 L70.7,466.14 L71.2,465.98 L71.7,465.95 L72.2,465.95 L72.7,465.95 L73.2,465.95 L73.7,465.95 L74.2,465.95 L74.7,465.95 L75.2,465.95 L75.7,465.95 L76.2,465.95 L76.7,465.95 L77.2,465.95 L77.7,465.95 L78.2,465.95 L78.7,465.95 L79.2,465.95 L79.7,465.96 L80.2,466.09 L80.7,466.41 L81.2,467.16 L81.5,468.05 L81.5,468.05 L81.2,468.94 L80.7,469.69 L80.2,470.01 L79.7,470.14 L79.2,470.15 L78.7,470.15 L78.2,470.15 L77.7,470.15 L77.2,470.15 L76.7,470.15 L76.2,470.15 L75.7,470.15 L75.2,470.15 L74.7,470.15 L74.2,470.15 L73.7,470.15 L73.2,470.15 L72.7,470.15 L72.2,470.15 L71.7,470.15 L71.2,470.12 L70.7,469.96 L70.2,469.59 L69.7,468.35Z" fill="#ff0051"/>
<rect x="107.1" y="458.6" width="4.6" height="18.8" rx="2.3" fill="#ff0051"/>
<rect x="107.1" y="471.5" width="4.6" height="5.9" rx="2.3" fill="#0084f9"/>
<circle cx="109.4" cy="462.5" r="1.8" fill="#0084f9"/>
<line x1="28.3" y1="490" x2="167.9" y2="490" stroke="#333" stroke-width="1"/>
<line x1="40.7" y1="490" x2="40.7" y2="493.2" stroke="#333" stroke-width="1"/>
<text x="40.7" y="504.3" font-size="10.7" text-anchor="middle" fill="#333" stroke="#333" stroke-width="0.12">−0.5</text>
<line x1="109" y1="490" x2="109" y2="493.2" stroke="#333" stroke-width="1"/>
<text x="109" y="504.3" font-size="10.7" text-anchor="middle" fill="#333" stroke="#333" stroke-width="0.12">0.0</text>
<text x="6.8" y="384.85" font-size="12.4" text-anchor="end" fill="#333" stroke="#333" stroke-width="0.12">3</text>
<text x="6.8" y="406.8" font-size="12.4" text-anchor="end" fill="#333" stroke="#333" stroke-width="0.12">5</text>
<text x="6.8" y="428.75" font-size="12.4" text-anchor="end" fill="#333" stroke="#333" stroke-width="0.12">4</text>
<text x="6.8" y="450.7" font-size="12.4" text-anchor="end" fill="#333" stroke="#333" stroke-width="0.12">1</text>
<text x="6.8" y="472.65" font-size="12.4" text-anchor="end" fill="#333" stroke="#333" stroke-width="0.12">2</text>
<text x="98.1" y="353.6" font-size="10.7" text-anchor="middle" fill="#000" stroke="#000" stroke-width="0.12" textLength="93.1" lengthAdjust="spacingAndGlyphs">RCPE-RCPE-RCPE</text>
<rect x="175.9" y="358.3" width="1.9" height="131.1" fill="url(#cb)"/>
<text x="181.8" y="362.3" font-size="10.7" text-anchor="start" fill="#111" stroke="#111" stroke-width="0.12">High</text>
<text x="181.8" y="493.7" font-size="10.7" text-anchor="start" fill="#111" stroke="#111" stroke-width="0.12">Low</text>
<line x1="352.3" y1="358.3" x2="352.3" y2="370.75" stroke="#999" stroke-width="1"/>
<line x1="352.3" y1="477.05" x2="352.3" y2="490" stroke="#999" stroke-width="1"/>
<path d="M288.9,380.25 L289.4,378.42 L289.9,378.05 L290.4,377.89 L290.9,377.85 L291.4,377.83 L291.9,377.8 L292.4,377.78 L292.9,377.75 L293.4,377.73 L293.9,377.7 L294.4,377.68 L294.9,377.65 L295.4,377.63 L295.9,377.61 L296.4,377.59 L296.9,377.57 L297.4,377.55 L297.9,377.53 L298.4,377.51 L298.9,377.49 L299.4,377.47 L299.9,377.45 L300.4,377.43 L300.9,377.41 L301.4,377.39 L301.9,377.37 L302.4,377.35 L302.9,377.33 L303.4,377.31 L303.9,377.29 L304.4,377.27 L304.9,377.25 L305.4,377.24 L305.9,377.22 L306.4,377.21 L306.9,377.2 L307.4,377.18 L307.9,377.17 L308.4,377.16 L308.9,377.14 L309.4,377.13 L309.9,377.12 L310.4,377.1 L310.9,377.09 L311.4,377.07 L311.9,377.06 L312.4,377.05 L312.9,377.03 L313.4,377.02 L313.9,377.01 L314.4,376.99 L314.9,376.98 L315.4,376.97 L315.9,376.95 L316.4,376.93 L316.9,376.9 L317.4,376.88 L317.9,376.85 L318.4,376.83 L318.9,376.8 L319.4,376.78 L319.9,376.75 L320.4,376.73 L320.9,376.7 L321.4,376.68 L321.9,376.65 L322.4,376.63 L322.9,376.6 L323.4,376.58 L323.9,376.55 L324.4,376.53 L324.9,376.52 L325.4,376.5 L325.9,376.48 L326.4,376.46 L326.9,376.45 L327.4,376.43 L327.9,376.41 L328.4,376.39 L328.9,376.38 L329.4,376.36 L329.9,376.34 L330.4,376.32 L330.9,376.31 L331.4,376.29 L331.9,376.27 L332.4,376.25 L332.9,376.27 L333.4,376.3 L333.9,376.33 L334.4,376.35 L334.9,376.38 L335.4,376.41 L335.9,376.43 L336.4,376.46 L336.9,376.49 L337.4,376.51 L337.9,376.54 L338.4,376.57 L338.9,376.59 L339.4,376.62 L339.9,376.65 L340.4,376.68 L340.9,376.72 L341.4,376.77 L341.9,376.81 L342.4,376.86 L342.9,376.9 L343.4,376.94 L343.9,376.99 L344.4,377.03 L344.9,377.08 L345.4,377.12 L345.9,377.16 L346.4,377.21 L346.9,377.16 L347.4,377.02 L347.9,376.89 L348.4,376.75 L348.9,376.61 L349.4,376.34 L349.9,375.87 L350.4,375.4 L350.9,374.74 L351.4,374.05 L351.9,373.38 L352.4,372.86 L352.9,372.58 L353.4,372.32 L353.9,372.06 L354.4,371.79 L354.9,371.56 L355.4,371.42 L355.9,371.29 L356.4,371.16 L356.9,371.03 L357.4,370.9 L357.9,370.89 L358.4,370.97 L358.9,371.16 L359.4,371.36 L359.9,371.56 L360.4,371.77 L360.9,372 L361.4,372.38 L361.9,372.81 L362.4,373.24 L362.9,373.68 L363.4,374.11 L363.9,374.69 L364.4,375.3 L364.9,375.92 L365.4,376.53 L365.9,376.69 L366.4,376.82 L366.9,376.96 L367.4,377.08 L367.9,377.14 L368.4,377.2 L368.9,377.25 L369.4,377.31 L369.9,377.36 L370.4,377.42 L370.9,377.48 L371.4,377.53 L371.9,377.59 L372.4,377.65 L372.9,377.7 L373.4,377.76 L373.9,377.81 L374.4,377.87 L374.9,377.93 L375.4,377.98 L375.9,378.01 L376.4,378.05 L376.9,378.09 L377.4,378.13 L377.9,378.26 L378.4,378.57 L378.9,379.32 L379,380.25 L379,380.25 L378.9,381.18 L378.4,381.93 L377.9,382.24 L377.4,382.37 L376.9,382.41 L376.4,382.45 L375.9,382.49 L375.4,382.52 L374.9,382.57 L374.4,382.63 L373.9,382.69 L373.4,382.74 L372.9,382.8 L372.4,382.85 L371.9,382.91 L371.4,382.97 L370.9,383.02 L370.4,383.08 L369.9,383.14 L369.4,383.19 L368.9,383.25 L368.4,383.3 L367.9,383.36 L367.4,383.42 L366.9,383.54 L366.4,383.68 L365.9,383.81 L365.4,383.97 L364.9,384.58 L364.4,385.2 L363.9,385.81 L363.4,386.39 L362.9,386.82 L362.4,387.26 L361.9,387.69 L361.4,388.12 L360.9,388.5 L360.4,388.73 L359.9,388.94 L359.4,389.14 L358.9,389.34 L358.4,389.53 L357.9,389.61 L357.4,389.6 L356.9,389.47 L356.4,389.34 L355.9,389.21 L355.4,389.08 L354.9,388.94 L354.4,388.71 L353.9,388.44 L353.4,388.18 L352.9,387.92 L352.4,387.64 L351.9,387.12 L351.4,386.45 L350.9,385.76 L350.4,385.1 L349.9,384.63 L349.4,384.16 L348.9,383.89 L348.4,383.75 L347.9,383.61 L347.4,383.48 L346.9,383.34 L346.4,383.29 L345.9,383.34 L345.4,383.38 L344.9,383.42 L344.4,383.47 L343.9,383.51 L343.4,383.56 L342.9,383.6 L342.4,383.64 L341.9,383.69 L341.4,383.73 L340.9,383.78 L340.4,383.82 L339.9,383.85 L339.4,383.88 L338.9,383.91 L338.4,383.93 L337.9,383.96 L337.4,383.99 L336.9,384.01 L336.4,384.04 L335.9,384.07 L335.4,384.09 L334.9,384.12 L334.4,384.15 L333.9,384.17 L333.4,384.2 L332.9,384.23 L332.4,384.25 L331.9,384.23 L331.4,384.21 L330.9,384.19 L330.4,384.18 L329.9,384.16 L329.4,384.14 L328.9,384.12 L328.4,384.11 L327.9,384.09 L327.4,384.07 L326.9,384.05 L326.4,384.04 L325.9,384.02 L325.4,384 L324.9,383.98 L324.4,383.97 L323.9,383.95 L323.4,383.92 L322.9,383.9 L322.4,383.87 L321.9,383.85 L321.4,383.82 L320.9,383.8 L320.4,383.77 L319.9,383.75 L319.4,383.72 L318.9,383.7 L318.4,383.67 L317.9,383.65 L317.4,383.62 L316.9,383.6 L316.4,383.57 L315.9,383.55 L315.4,383.53 L314.9,383.52 L314.4,383.51 L313.9,383.49 L313.4,383.48 L312.9,383.47 L312.4,383.45 L311.9,383.44 L311.4,383.43 L310.9,383.41 L310.4,383.4 L309.9,383.38 L309.4,383.37 L308.9,383.36 L308.4,383.34 L307.9,383.33 L307.4,383.32 L306.9,383.3 L306.4,383.29 L305.9,383.28 L305.4,383.26 L304.9,383.25 L304.4,383.23 L303.9,383.21 L303.4,383.19 L302.9,383.17 L302.4,383.15 L301.9,383.13 L301.4,383.11 L300.9,383.09 L300.4,383.07 L299.9,383.05 L299.4,383.03 L298.9,383.01 L298.4,382.99 L297.9,382.97 L297.4,382.95 L296.9,382.93 L296.4,382.91 L295.9,382.89 L295.4,382.87 L294.9,382.85 L294.4,382.82 L293.9,382.8 L293.4,382.77 L292.9,382.75 L292.4,382.72 L291.9,382.7 L291.4,382.67 L290.9,382.65 L290.4,382.61 L289.9,382.45 L289.4,382.08 L288.9,380.25Z" fill="#ff0051"/>
<circle cx="360.2" cy="386.36" r="1.5" fill="#0084f9"/>
<circle cx="356.49" cy="376.89" r="1.5" fill="#0084f9"/>
<circle cx="354.1" cy="385.83" r="1.5" fill="#0084f9"/>
<circle cx="354.11" cy="381.27" r="1.5" fill="#0084f9"/>
<circle cx="353.42" cy="380.53" r="1.5" fill="#0084f9"/>
<circle cx="361.53" cy="376.3" r="1.5" fill="#0084f9"/>
<circle cx="354.92" cy="380.37" r="1.5" fill="#9b23ad"/>
<circle cx="355.32" cy="383.06" r="1.5" fill="#9b23ad"/>
<circle cx="351.39" cy="382.88" r="1.5" fill="#9b23ad"/>
<circle cx="251" cy="402.2" r="1.8" fill="#008bfb"/>
<path d="M261.9,402.2 L262.4,400.56 L262.9,400.2 L263.4,400.04 L263.9,400.01 L264.4,400.01 L264.9,400.02 L265.4,400.02 L265.9,400.02 L266.4,400.03 L266.9,400.03 L267.4,400.03 L267.9,400.03 L268.4,400.04 L268.9,400.04 L269.4,400.04 L269.9,400.05 L270.4,400.05 L270.9,400.05 L271.4,400.05 L271.9,400.06 L272.4,400.06 L272.9,400.06 L273.4,400.06 L273.9,400.07 L274.4,400.07 L274.9,400.07 L275.4,400.08 L275.9,400.08 L276.4,400.08 L276.9,400.08 L277.4,400.09 L277.9,400.09 L278.4,400.09 L278.9,400.09 L279.4,400.1 L279.9,400.1 L280.4,400.1 L280.9,400.1 L281.4,400.1 L281.9,400.1 L282.4,400.1 L282.9,400.1 L283.4,400.1 L283.9,400.1 L284.4,400.1 L284.9,400.1 L285.4,400.1 L285.9,400.1 L286.4,400.1 L286.9,400.1 L287.4,400.1 L287.9,400.1 L288.4,400.1 L288.9,400.1 L289.4,400.1 L289.9,400.1 L290.4,400.1 L290.9,400.1 L291.4,400.1 L291.9,400.1 L292.4,400.1 L292.9,400.1 L293.4,400.1 L293.9,400.1 L294.4,400.1 L294.9,400.1 L295.4,400.1 L295.9,400.1 L296.4,400.1 L296.9,400.1 L297.4,400.1 L297.9,400.1 L298.4,400.1 L298.9,400.1 L299.4,400.1 L299.9,400.1 L300.4,400.1 L300.9,400.1 L301.4,400.09 L301.9,400.09 L302.4,400.09 L302.9,400.09 L303.4,400.08 L303.9,400.08 L304.4,400.08 L304.9,400.08 L305.4,400.07 L305.9,400.07 L306.4,400.07 L306.9,400.07 L307.4,400.06 L307.9,400.06 L308.4,400.06 L308.9,400.06 L309.4,400.05 L309.9,400.05 L310.4,400.05 L310.9,400.05 L311.4,400.04 L311.9,400.04 L312.4,400.04 L312.9,400.04 L313.4,400.03 L313.9,400.03 L314.4,400.03 L314.9,400.03 L315.4,400.02 L315.9,400.02 L316.4,400.02 L316.9,400.02 L317.4,400.01 L317.9,400.01 L318.4,400.01 L318.9,400.01 L319.4,400 L319.9,400 L320.4,400 L320.9,399.99 L321.4,399.99 L321.9,399.98 L322.4,399.98 L322.9,399.98 L323.4,399.97 L323.9,399.97 L324.4,399.96 L324.9,399.96 L325.4,399.96 L325.9,399.95 L326.4,399.95 L326.9,399.94 L327.4,399.94 L327.9,399.93 L328.4,399.93 L328.9,399.93 L329.4,399.92 L329.9,399.92 L330.4,399.91 L330.9,399.91 L331.4,399.91 L331.9,399.9 L332.4,399.9 L332.9,399.89 L333.4,399.89 L333.9,399.89 L334.4,399.88 L334.9,399.88 L335.4,399.87 L335.9,399.87 L336.4,399.87 L336.9,399.86 L337.4,399.86 L337.9,399.85 L338.4,399.85 L338.9,399.85 L339.4,399.84 L339.9,399.84 L340.4,399.84 L340.9,399.83 L341.4,399.83 L341.9,399.82 L342.4,399.82 L342.9,399.82 L343.4,399.81 L343.9,399.81 L344.4,399.8 L344.9,399.8 L345.4,399.8 L345.9,399.8 L346.4,399.8 L346.9,399.8 L347.4,399.8 L347.9,399.8 L348.4,399.8 L348.9,399.8 L349.4,399.56 L349.9,399 L350.4,398.43 L350.9,397.86 L351.4,397.13 L351.9,396.39 L352.4,395.66 L352.9,395.08 L353.4,394.65 L353.9,394.21 L354.4,393.78 L354.9,393.53 L355.4,393.39 L355.9,393.29 L356.4,393.19 L356.9,393.09 L357.4,392.99 L357.9,392.91 L358.4,392.9 L358.9,392.9 L359.4,392.9 L359.9,392.9 L360.4,392.9 L360.9,392.9 L361.4,392.9 L361.9,392.9 L362.4,392.96 L362.9,393.17 L363.4,393.59 L363.9,394.15 L364.4,394.73 L364.9,395.3 L365.4,396.06 L365.5,402.2 L365.5,402.2 L365.4,408.34 L364.9,409.1 L364.4,409.67 L363.9,410.25 L363.4,410.81 L362.9,411.23 L362.4,411.44 L361.9,411.5 L361.4,411.5 L360.9,411.5 L360.4,411.5 L359.9,411.5 L359.4,411.5 L358.9,411.5 L358.4,411.5 L357.9,411.49 L357.4,411.41 L356.9,411.31 L356.4,411.21 L355.9,411.11 L355.4,411.01 L354.9,410.87 L354.4,410.62 L353.9,410.19 L353.4,409.75 L352.9,409.32 L352.4,408.74 L351.9,408.01 L351.4,407.27 L350.9,406.54 L350.4,405.97 L349.9,405.4 L349.4,404.84 L348.9,404.6 L348.4,404.6 L347.9,404.6 L347.4,404.6 L346.9,404.6 L346.4,404.6 L345.9,404.6 L345.4,404.6 L344.9,404.6 L344.4,404.6 L343.9,404.59 L343.4,404.59 L342.9,404.58 L342.4,404.58 L341.9,404.58 L341.4,404.57 L340.9,404.57 L340.4,404.56 L339.9,404.56 L339.4,404.56 L338.9,404.55 L338.4,404.55 L337.9,404.55 L337.4,404.54 L336.9,404.54 L336.4,404.53 L335.9,404.53 L335.4,404.53 L334.9,404.52 L334.4,404.52 L333.9,404.51 L333.4,404.51 L332.9,404.51 L332.4,404.5 L331.9,404.5 L331.4,404.49 L330.9,404.49 L330.4,404.49 L329.9,404.48 L329.4,404.48 L328.9,404.47 L328.4,404.47 L327.9,404.47 L327.4,404.46 L326.9,404.46 L326.4,404.45 L325.9,404.45 L325.4,404.44 L324.9,404.44 L324.4,404.44 L323.9,404.43 L323.4,404.43 L322.9,404.42 L322.4,404.42 L321.9,404.42 L321.4,404.41 L320.9,404.41 L320.4,404.4 L319.9,404.4 L319.4,404.4 L318.9,404.39 L318.4,404.39 L317.9,404.39 L317.4,404.39 L316.9,404.38 L316.4,404.38 L315.9,404.38 L315.4,404.38 L314.9,404.37 L314.4,404.37 L313.9,404.37 L313.4,404.37 L312.9,404.36 L312.4,404.36 L311.9,404.36 L311.4,404.36 L310.9,404.35 L310.4,404.35 L309.9,404.35 L309.4,404.35 L308.9,404.34 L308.4,404.34 L307.9,404.34 L307.4,404.34 L306.9,404.33 L306.4,404.33 L305.9,404.33 L305.4,404.33 L304.9,404.32 L304.4,404.32 L303.9,404.32 L303.4,404.32 L302.9,404.31 L302.4,404.31 L301.9,404.31 L301.4,404.31 L300.9,404.3 L300.4,404.3 L299.9,404.3 L299.4,404.3 L298.9,404.3 L298.4,404.3 L297.9,404.3 L297.4,404.3 L296.9,404.3 L296.4,404.3 L295.9,404.3 L295.4,404.3 L294.9,404.3 L294.4,404.3 L293.9,404.3 L293.4,404.3 L292.9,404.3 L292.4,404.3 L291.9,404.3 L291.4,404.3 L290.9,404.3 L290.4,404.3 L289.9,404.3 L289.4,404.3 L288.9,404.3 L288.4,404.3 L287.9,404.3 L287.4,404.3 L286.9,404.3 L286.4,404.3 L285.9,404.3 L285.4,404.3 L284.9,404.3 L284.4,404.3 L283.9,404.3 L283.4,404.3 L282.9,404.3 L282.4,404.3 L281.9,404.3 L281.4,404.3 L280.9,404.3 L280.4,404.3 L279.9,404.3 L279.4,404.3 L278.9,404.31 L278.4,404.31 L277.9,404.31 L277.4,404.31 L276.9,404.32 L276.4,404.32 L275.9,404.32 L275.4,404.32 L274.9,404.33 L274.4,404.33 L273.9,404.33 L273.4,404.34 L272.9,404.34 L272.4,404.34 L271.9,404.34 L271.4,404.35 L270.9,404.35 L270.4,404.35 L269.9,404.35 L269.4,404.36 L268.9,404.36 L268.4,404.36 L267.9,404.37 L267.4,404.37 L266.9,404.37 L266.4,404.37 L265.9,404.38 L265.4,404.38 L264.9,404.38 L264.4,404.39 L263.9,404.39 L263.4,404.36 L262.9,404.2 L262.4,403.84 L261.9,402.2Z" fill="url(#g24)"/>
<circle cx="341.26" cy="401.66" r="1.5" fill="#ff0051"/>
<circle cx="333.06" cy="402.19" r="1.5" fill="#ff0051"/>
<circle cx="340.66" cy="401.98" r="1.5" fill="#ff0051"/>
<circle cx="335.39" cy="402.04" r="1.5" fill="#ff0051"/>
<circle cx="338.37" cy="402.57" r="1.5" fill="#ff0051"/>
<circle cx="333.03" cy="402.45" r="1.5" fill="#ff0051"/>
<circle cx="363.07" cy="397.44" r="1.5" fill="#0084f9"/>
<circle cx="364.12" cy="404.3" r="1.5" fill="#0084f9"/>
<circle cx="363.82" cy="399.93" r="1.5" fill="#0084f9"/>
<circle cx="357.47" cy="400.62" r="1.5" fill="#0084f9"/>
<circle cx="364.99" cy="402.72" r="1.5" fill="#0084f9"/>
<circle cx="357.33" cy="401.14" r="1.5" fill="#0084f9"/>
<circle cx="356.3" cy="395.73" r="1.5" fill="#e9007c"/>
<circle cx="354.22" cy="406.14" r="1.5" fill="#e9007c"/>
<circle cx="356.43" cy="408.46" r="1.5" fill="#e9007c"/>
<circle cx="355.99" cy="398.87" r="1.5" fill="#e9007c"/>
<path d="M328.2,424.15 L328.7,422.42 L329.2,422.05 L329.7,421.89 L330.2,421.86 L330.7,421.83 L331.2,421.81 L331.7,421.79 L332.2,421.76 L332.7,421.74 L333.2,421.72 L333.7,421.69 L334.2,421.67 L334.7,421.65 L335.2,421.62 L335.7,421.6 L336.2,421.58 L336.7,421.55 L337.2,421.52 L337.7,421.48 L338.2,421.44 L338.7,421.4 L339.2,421.36 L339.7,421.32 L340.2,421.29 L340.7,421.25 L341.2,421.21 L341.7,421.17 L342.2,421.12 L342.7,421.07 L343.2,421.01 L343.7,420.96 L344.2,420.9 L344.7,420.85 L345.2,420.79 L345.7,420.74 L346.2,420.67 L346.7,420.46 L347.2,420.25 L347.7,420.05 L348.2,419.71 L348.7,419.21 L349.2,418.71 L349.7,418.07 L350.2,417.38 L350.7,416.71 L351.2,416.32 L351.7,415.99 L352.2,415.67 L352.7,415.46 L353.2,415.38 L353.7,415.43 L354.2,415.64 L354.7,415.89 L355.2,416.14 L355.7,416.4 L356.2,416.86 L356.7,417.86 L357.2,419.11 L357.7,420.21 L358.2,420.85 L358.7,421.4 L359.2,421.42 L359.7,421.44 L360.2,421.47 L360.7,421.49 L361.2,421.51 L361.7,421.54 L362.2,421.56 L362.7,421.57 L363.2,421.58 L363.7,421.59 L364.2,421.6 L364.7,421.61 L365.2,421.62 L365.7,421.63 L366.2,421.64 L366.7,421.65 L367.2,421.66 L367.7,421.67 L368.2,421.68 L368.7,421.69 L369.2,421.7 L369.7,421.71 L370.2,421.77 L370.7,421.98 L371.2,422.44 L371.6,424.15 L371.6,424.15 L371.2,425.86 L370.7,426.32 L370.2,426.53 L369.7,426.59 L369.2,426.6 L368.7,426.61 L368.2,426.62 L367.7,426.63 L367.2,426.64 L366.7,426.65 L366.2,426.66 L365.7,426.67 L365.2,426.68 L364.7,426.69 L364.2,426.7 L363.7,426.71 L363.2,426.72 L362.7,426.73 L362.2,426.74 L361.7,426.76 L361.2,426.79 L360.7,426.81 L360.2,426.83 L359.7,426.86 L359.2,426.88 L358.7,426.9 L358.2,427.45 L357.7,428.09 L357.2,429.19 L356.7,430.44 L356.2,431.44 L355.7,431.9 L355.2,432.16 L354.7,432.41 L354.2,432.66 L353.7,432.87 L353.2,432.92 L352.7,432.84 L352.2,432.63 L351.7,432.31 L351.2,431.98 L350.7,431.59 L350.2,430.92 L349.7,430.23 L349.2,429.59 L348.7,429.09 L348.2,428.59 L347.7,428.25 L347.2,428.05 L346.7,427.84 L346.2,427.63 L345.7,427.56 L345.2,427.51 L344.7,427.45 L344.2,427.4 L343.7,427.34 L343.2,427.29 L342.7,427.23 L342.2,427.18 L341.7,427.13 L341.2,427.09 L340.7,427.05 L340.2,427.01 L339.7,426.98 L339.2,426.94 L338.7,426.9 L338.2,426.86 L337.7,426.82 L337.2,426.78 L336.7,426.75 L336.2,426.72 L335.7,426.7 L335.2,426.68 L334.7,426.65 L334.2,426.63 L333.7,426.61 L333.2,426.58 L332.7,426.56 L332.2,426.54 L331.7,426.51 L331.2,426.49 L330.7,426.47 L330.2,426.44 L329.7,426.41 L329.2,426.25 L328.7,425.88 L328.2,424.15Z" fill="url(#g25)"/>
<circle cx="353.07" cy="419.86" r="1.5" fill="#0084f9"/>
<circle cx="352.24" cy="429.95" r="1.5" fill="#0084f9"/>
<circle cx="355.31" cy="427.23" r="1.5" fill="#0084f9"/>
<circle cx="320.9" cy="446.1" r="1.8" fill="#008bfb"/>
<path d="M325,446.1 L325.5,444.56 L326,444.19 L326.5,444.03 L327,444 L327.5,444 L328,444 L328.5,444 L329,444 L329.5,444 L330,444 L330.5,444 L331,444 L331.5,444 L332,444 L332.5,444 L333,444 L333.5,444 L334,444 L334.5,444 L335,444 L335.5,444 L336,443.99 L336.5,443.99 L337,443.98 L337.5,443.98 L338,443.97 L338.5,443.97 L339,443.96 L339.5,443.96 L340,443.95 L340.5,443.95 L341,443.94 L341.5,443.94 L342,443.93 L342.5,443.93 L343,443.92 L343.5,443.92 L344,443.91 L344.5,443.91 L345,443.9 L345.5,443.9 L346,443.9 L346.5,443.9 L347,443.9 L347.5,443.9 L348,443.9 L348.5,443.9 L349,443.9 L349.5,443.9 L350,443.9 L350.5,443.88 L351,443.86 L351.5,443.85 L352,443.83 L352.5,443.81 L353,443.81 L353.5,443.82 L354,443.84 L354.5,443.86 L355,443.87 L355.5,443.89 L356,443.91 L356.5,443.92 L357,443.94 L357.5,443.99 L358,444.21 L358.5,444.67 L359,446.1 L359,446.1 L358.5,447.53 L358,447.99 L357.5,448.21 L357,448.26 L356.5,448.28 L356,448.29 L355.5,448.31 L355,448.33 L354.5,448.34 L354,448.36 L353.5,448.38 L353,448.39 L352.5,448.39 L352,448.37 L351.5,448.35 L351,448.34 L350.5,448.32 L350,448.3 L349.5,448.3 L349,448.3 L348.5,448.3 L348,448.3 L347.5,448.3 L347,448.3 L346.5,448.3 L346,448.3 L345.5,448.3 L345,448.3 L344.5,448.29 L344,448.29 L343.5,448.28 L343,448.28 L342.5,448.27 L342,448.27 L341.5,448.26 L341,448.26 L340.5,448.25 L340,448.25 L339.5,448.24 L339,448.24 L338.5,448.23 L338,448.23 L337.5,448.22 L337,448.22 L336.5,448.21 L336,448.21 L335.5,448.2 L335,448.2 L334.5,448.2 L334,448.2 L333.5,448.2 L333,448.2 L332.5,448.2 L332,448.2 L331.5,448.2 L331,448.2 L330.5,448.2 L330,448.2 L329.5,448.2 L329,448.2 L328.5,448.2 L328,448.2 L327.5,448.2 L327,448.2 L326.5,448.17 L326,448.01 L325.5,447.64 L325,446.1Z" fill="url(#g26)"/>
<rect x="350.3" y="436.4" width="5" height="19.2" rx="2.5" fill="#bb00a0"/>
<rect x="350.3" y="442" width="5" height="9" rx="2.5" fill="#ff0051"/>
<rect x="350.3" y="449" width="5" height="6.6" rx="2.5" fill="#0084f9"/>
<path d="M347.3,468.05 L347.8,466.41 L348.3,466.04 L348.8,465.88 L349.3,465.85 L349.8,465.85 L350.3,465.85 L350.8,465.85 L351.3,465.85 L351.8,465.85 L352.3,465.85 L352.8,465.85 L353.3,465.85 L353.8,465.85 L354.3,465.85 L354.8,465.85 L355.3,465.85 L355.8,465.85 L356.3,465.85 L356.8,465.85 L357.3,465.85 L357.8,465.85 L358.3,465.85 L358.8,465.91 L359.3,466.12 L359.8,466.58 L360.2,468.05 L360.2,468.05 L359.8,469.52 L359.3,469.98 L358.8,470.19 L358.3,470.25 L357.8,470.25 L357.3,470.25 L356.8,470.25 L356.3,470.25 L355.8,470.25 L355.3,470.25 L354.8,470.25 L354.3,470.25 L353.8,470.25 L353.3,470.25 L352.8,470.25 L352.3,470.25 L351.8,470.25 L351.3,470.25 L350.8,470.25 L350.3,470.25 L349.8,470.25 L349.3,470.25 L348.8,470.22 L348.3,470.06 L347.8,469.69 L347.3,468.05Z" fill="url(#g27)"/>
<rect x="349.5" y="458.6" width="4.6" height="18.8" rx="2.3" fill="#0084f9"/>
<circle cx="351.8" cy="460.5" r="1.8" fill="#ff0051"/>
<circle cx="351.8" cy="472.5" r="1.8" fill="#ff0051"/>
<line x1="244.7" y1="490" x2="384" y2="490" stroke="#333" stroke-width="1"/>
<line x1="295.3" y1="490" x2="295.3" y2="493.2" stroke="#333" stroke-width="1"/>
<text x="295.3" y="504.3" font-size="10.7" text-anchor="middle" fill="#333" stroke="#333" stroke-width="0.12">−0.5</text>
<line x1="352" y1="490" x2="352" y2="493.2" stroke="#333" stroke-width="1"/>
<text x="352" y="504.3" font-size="10.7" text-anchor="middle" fill="#333" stroke="#333" stroke-width="0.12">0.0</text>
<text x="223" y="384.85" font-size="12.4" text-anchor="end" fill="#333" stroke="#333" stroke-width="0.12">5</text>
<text x="223" y="406.8" font-size="12.4" text-anchor="end" fill="#333" stroke="#333" stroke-width="0.12">4</text>
<text x="223" y="428.75" font-size="12.4" text-anchor="end" fill="#333" stroke="#333" stroke-width="0.12">1</text>
<text x="223" y="450.7" font-size="12.4" text-anchor="end" fill="#333" stroke="#333" stroke-width="0.12">3</text>
<text x="223" y="472.65" font-size="12.4" text-anchor="end" fill="#333" stroke="#333" stroke-width="0.12">2</text>
<text x="314.35" y="353.6" font-size="10.7" text-anchor="middle" fill="#000" stroke="#000" stroke-width="0.12" textLength="125.6" lengthAdjust="spacingAndGlyphs">RCPE-RCPE-RCPE-RCPE</text>
<rect x="392.2" y="358.3" width="1.9" height="131.1" fill="url(#cb)"/>
<text x="397.9" y="362.3" font-size="10.7" text-anchor="start" fill="#111" stroke="#111" stroke-width="0.12">High</text>
<text x="397.9" y="493.7" font-size="10.7" text-anchor="start" fill="#111" stroke="#111" stroke-width="0.12">Low</text>
<line x1="558.7" y1="358.3" x2="558.7" y2="370.75" stroke="#999" stroke-width="1"/>
<line x1="558.7" y1="477.05" x2="558.7" y2="490" stroke="#999" stroke-width="1"/>
<path d="M465.7,380.25 L466.2,378.75 L466.7,378.38 L467.2,378.22 L467.7,378.19 L468.2,378.17 L468.7,378.15 L469.2,378.14 L469.7,378.12 L470.2,378.11 L470.7,378.09 L471.2,378.07 L471.7,378.06 L472.2,378.04 L472.7,378.02 L473.2,378 L473.7,377.97 L474.2,377.95 L474.7,377.93 L475.2,377.91 L475.7,377.89 L476.2,377.87 L476.7,377.84 L477.2,377.82 L477.7,377.8 L478.2,377.78 L478.7,377.76 L479.2,377.74 L479.7,377.72 L480.2,377.71 L480.7,377.69 L481.2,377.67 L481.7,377.66 L482.2,377.64 L482.7,377.62 L483.2,377.61 L483.7,377.59 L484.2,377.57 L484.7,377.56 L485.2,377.54 L485.7,377.52 L486.2,377.51 L486.7,377.49 L487.2,377.48 L487.7,377.46 L488.2,377.44 L488.7,377.43 L489.2,377.41 L489.7,377.4 L490.2,377.38 L490.7,377.37 L491.2,377.35 L491.7,377.33 L492.2,377.32 L492.7,377.3 L493.2,377.29 L493.7,377.27 L494.2,377.26 L494.7,377.24 L495.2,377.23 L495.7,377.21 L496.2,377.2 L496.7,377.18 L497.2,377.16 L497.7,377.14 L498.2,377.07 L498.7,377 L499.2,376.94 L499.7,376.87 L500.2,376.81 L500.7,376.74 L501.2,376.67 L501.7,376.61 L502.2,376.54 L502.7,376.48 L503.2,376.42 L503.7,376.37 L504.2,376.32 L504.7,376.27 L505.2,376.21 L505.7,376.16 L506.2,376.11 L506.7,376.06 L507.2,376.01 L507.7,375.96 L508.2,375.94 L508.7,375.92 L509.2,375.9 L509.7,375.89 L510.2,375.87 L510.7,375.86 L511.2,375.84 L511.7,375.82 L512.2,375.81 L512.7,375.79 L513.2,375.77 L513.7,375.76 L514.2,375.75 L514.7,375.76 L515.2,375.77 L515.7,375.78 L516.2,375.79 L516.7,375.79 L517.2,375.8 L517.7,375.81 L518.2,375.82 L518.7,375.82 L519.2,375.83 L519.7,375.84 L520.2,375.85 L520.7,375.88 L521.2,375.97 L521.7,376.05 L522.2,376.14 L522.7,376.23 L523.2,376.31 L523.7,376.4 L524.2,376.49 L524.7,376.57 L525.2,376.66 L525.7,376.76 L526.2,376.86 L526.7,376.96 L527.2,377.06 L527.7,377.17 L528.2,377.27 L528.7,377.37 L529.2,377.47 L529.7,377.57 L530.2,377.67 L530.7,377.77 L531.2,377.8 L531.7,377.83 L532.2,377.87 L532.7,377.9 L533.2,377.93 L533.7,377.96 L534.2,378 L534.7,378.03 L535.2,378.06 L535.7,378.07 L536.2,378.08 L536.7,378.09 L537.2,378.1 L537.7,378.11 L538.2,378.12 L538.7,378.13 L539.2,378.14 L539.7,378.15 L540.2,378.15 L540.7,378.16 L541.2,378.16 L541.7,378.17 L542.2,378.17 L542.7,378.18 L543.2,378.18 L543.7,378.19 L544.2,378.19 L544.7,378.19 L545.2,378.2 L545.7,378.2 L546.2,378.21 L546.7,378.21 L547.2,378.22 L547.7,378.22 L548.2,378.23 L548.7,378.23 L549.2,378.24 L549.7,378.37 L550.2,378.69 L550.7,379.44 L550.9,380.25 L550.9,380.25 L550.7,381.06 L550.2,381.81 L549.7,382.13 L549.2,382.26 L548.7,382.27 L548.2,382.27 L547.7,382.28 L547.2,382.28 L546.7,382.29 L546.2,382.29 L545.7,382.3 L545.2,382.3 L544.7,382.31 L544.2,382.31 L543.7,382.31 L543.2,382.32 L542.7,382.32 L542.2,382.33 L541.7,382.33 L541.2,382.34 L540.7,382.34 L540.2,382.35 L539.7,382.35 L539.2,382.36 L538.7,382.37 L538.2,382.38 L537.7,382.39 L537.2,382.4 L536.7,382.41 L536.2,382.42 L535.7,382.43 L535.2,382.44 L534.7,382.47 L534.2,382.5 L533.7,382.54 L533.2,382.57 L532.7,382.6 L532.2,382.63 L531.7,382.67 L531.2,382.7 L530.7,382.73 L530.2,382.83 L529.7,382.93 L529.2,383.03 L528.7,383.13 L528.2,383.23 L527.7,383.33 L527.2,383.44 L526.7,383.54 L526.2,383.64 L525.7,383.74 L525.2,383.84 L524.7,383.93 L524.2,384.01 L523.7,384.1 L523.2,384.19 L522.7,384.27 L522.2,384.36 L521.7,384.45 L521.2,384.53 L520.7,384.62 L520.2,384.65 L519.7,384.66 L519.2,384.67 L518.7,384.68 L518.2,384.68 L517.7,384.69 L517.2,384.7 L516.7,384.71 L516.2,384.71 L515.7,384.72 L515.2,384.73 L514.7,384.74 L514.2,384.75 L513.7,384.74 L513.2,384.73 L512.7,384.71 L512.2,384.69 L511.7,384.68 L511.2,384.66 L510.7,384.64 L510.2,384.63 L509.7,384.61 L509.2,384.6 L508.7,384.58 L508.2,384.56 L507.7,384.54 L507.2,384.49 L506.7,384.44 L506.2,384.39 L505.7,384.34 L505.2,384.29 L504.7,384.23 L504.2,384.18 L503.7,384.13 L503.2,384.08 L502.7,384.02 L502.2,383.96 L501.7,383.89 L501.2,383.83 L500.7,383.76 L500.2,383.69 L499.7,383.63 L499.2,383.56 L498.7,383.5 L498.2,383.43 L497.7,383.36 L497.2,383.34 L496.7,383.32 L496.2,383.3 L495.7,383.29 L495.2,383.27 L494.7,383.26 L494.2,383.24 L493.7,383.23 L493.2,383.21 L492.7,383.2 L492.2,383.18 L491.7,383.17 L491.2,383.15 L490.7,383.13 L490.2,383.12 L489.7,383.1 L489.2,383.09 L488.7,383.07 L488.2,383.06 L487.7,383.04 L487.2,383.02 L486.7,383.01 L486.2,382.99 L485.7,382.98 L485.2,382.96 L484.7,382.94 L484.2,382.93 L483.7,382.91 L483.2,382.89 L482.7,382.88 L482.2,382.86 L481.7,382.84 L481.2,382.83 L480.7,382.81 L480.2,382.79 L479.7,382.78 L479.2,382.76 L478.7,382.74 L478.2,382.72 L477.7,382.7 L477.2,382.68 L476.7,382.66 L476.2,382.63 L475.7,382.61 L475.2,382.59 L474.7,382.57 L474.2,382.55 L473.7,382.53 L473.2,382.5 L472.7,382.48 L472.2,382.46 L471.7,382.44 L471.2,382.43 L470.7,382.41 L470.2,382.39 L469.7,382.38 L469.2,382.36 L468.7,382.35 L468.2,382.33 L467.7,382.31 L467.2,382.28 L466.7,382.12 L466.2,381.75 L465.7,380.25Z" fill="url(#g28)"/>
<circle cx="508.44" cy="382.33" r="1.5" fill="#ab15a7"/>
<circle cx="524.86" cy="380.43" r="1.5" fill="#ab15a7"/>
<circle cx="513.14" cy="377.84" r="1.5" fill="#ab15a7"/>
<circle cx="513.81" cy="379.99" r="1.5" fill="#ab15a7"/>
<circle cx="514.89" cy="381.03" r="1.5" fill="#ab15a7"/>
<circle cx="490.17" cy="379.29" r="1.5" fill="#ab15a7"/>
<circle cx="524.12" cy="378.79" r="1.5" fill="#ab15a7"/>
<circle cx="500.03" cy="379.75" r="1.5" fill="#ab15a7"/>
<circle cx="490.78" cy="380.77" r="1.5" fill="#ab15a7"/>
<circle cx="526.74" cy="379.56" r="1.5" fill="#ab15a7"/>
<circle cx="509.77" cy="379.23" r="1.5" fill="#ab15a7"/>
<circle cx="504.54" cy="379.79" r="1.5" fill="#ab15a7"/>
<circle cx="483.87" cy="379.67" r="1.5" fill="#ab15a7"/>
<circle cx="486.02" cy="381.01" r="1.5" fill="#ab15a7"/>
<circle cx="501.35" cy="379.25" r="1.5" fill="#ff0051"/>
<circle cx="523.03" cy="382.38" r="1.5" fill="#ff0051"/>
<circle cx="498.85" cy="379.2" r="1.5" fill="#ff0051"/>
<circle cx="485.2" cy="379.51" r="1.5" fill="#ff0051"/>
<circle cx="493.12" cy="379.3" r="1.5" fill="#ff0051"/>
<circle cx="487.67" cy="379.77" r="1.5" fill="#ff0051"/>
<circle cx="505.19" cy="381.98" r="1.5" fill="#ff0051"/>
<circle cx="514.73" cy="379.78" r="1.5" fill="#ff0051"/>
<circle cx="553.5" cy="380.25" r="1.8" fill="#ab15a7"/>
<path d="M555.9,379.91 L556.4,378.66 L556.9,378.3 L557.4,378.13 L557.9,378.09 L558.4,378.05 L558.9,378.01 L559.4,377.97 L559.9,377.93 L560.4,377.89 L560.9,377.84 L561.4,377.75 L561.9,377.67 L562.4,377.07 L562.9,376.37 L563.4,375.68 L563.9,375.01 L564.4,374.47 L564.9,373.93 L565.4,373.4 L565.9,372.86 L566.4,372.33 L566.9,371.84 L567.4,371.59 L567.9,371.45 L568.4,371.4 L568.9,371.34 L569.4,371.29 L569.9,371.23 L570.4,371.18 L570.9,371.16 L571.4,371.29 L571.9,371.61 L572.4,372.05 L572.9,372.5 L573.4,372.95 L573.9,373.39 L574.4,373.84 L574.9,374.31 L575.4,374.81 L575.9,375.31 L576.4,375.81 L576.9,376.31 L577.4,376.7 L577.9,376.9 L578.4,377.11 L578.9,377.27 L579.4,377.3 L579.9,377.32 L580.4,377.34 L580.9,377.37 L581.4,377.39 L581.9,377.41 L582.4,377.43 L582.9,377.46 L583.4,377.48 L583.9,377.5 L584.4,377.52 L584.9,377.55 L585.4,377.57 L585.9,377.59 L586.4,377.61 L586.9,377.62 L587.4,377.64 L587.9,377.66 L588.4,377.68 L588.9,377.7 L589.4,377.72 L589.9,377.74 L590.4,377.76 L590.9,377.78 L591.4,377.8 L591.9,377.82 L592.4,377.83 L592.9,377.85 L593.4,377.87 L593.9,377.89 L594.4,378.02 L594.9,378.34 L595.4,379.09 L595.5,380.25 L595.5,380.25 L595.4,381.41 L594.9,382.16 L594.4,382.48 L593.9,382.61 L593.4,382.63 L592.9,382.65 L592.4,382.67 L591.9,382.68 L591.4,382.7 L590.9,382.72 L590.4,382.74 L589.9,382.76 L589.4,382.78 L588.9,382.8 L588.4,382.82 L587.9,382.84 L587.4,382.86 L586.9,382.88 L586.4,382.89 L585.9,382.91 L585.4,382.93 L584.9,382.95 L584.4,382.98 L583.9,383 L583.4,383.02 L582.9,383.04 L582.4,383.07 L581.9,383.09 L581.4,383.11 L580.9,383.13 L580.4,383.16 L579.9,383.18 L579.4,383.2 L578.9,383.23 L578.4,383.39 L577.9,383.6 L577.4,383.8 L576.9,384.19 L576.4,384.69 L575.9,385.19 L575.4,385.69 L574.9,386.19 L574.4,386.66 L573.9,387.11 L573.4,387.55 L572.9,388 L572.4,388.45 L571.9,388.89 L571.4,389.21 L570.9,389.34 L570.4,389.32 L569.9,389.27 L569.4,389.21 L568.9,389.16 L568.4,389.1 L567.9,389.05 L567.4,388.91 L566.9,388.66 L566.4,388.17 L565.9,387.64 L565.4,387.1 L564.9,386.57 L564.4,386.03 L563.9,385.49 L563.4,384.82 L562.9,384.13 L562.4,383.43 L561.9,382.83 L561.4,382.75 L560.9,382.66 L560.4,382.61 L559.9,382.57 L559.4,382.53 L558.9,382.49 L558.4,382.45 L557.9,382.41 L557.4,382.37 L556.9,382.2 L556.4,381.84 L555.9,380.59Z" fill="url(#g29)"/>
<circle cx="569.55" cy="380.6" r="1.5" fill="#9b23ad"/>
<circle cx="569.15" cy="377.94" r="1.5" fill="#9b23ad"/>
<circle cx="565.68" cy="378.24" r="1.5" fill="#9b23ad"/>
<circle cx="575.64" cy="378.26" r="1.5" fill="#9b23ad"/>
<circle cx="570.54" cy="382.14" r="1.5" fill="#9b23ad"/>
<path d="M526.7,401.79 L527.2,400.55 L527.7,400.18 L528.2,400.02 L528.7,399.98 L529.2,399.95 L529.7,399.92 L530.2,399.84 L530.7,399.76 L531.2,399.68 L531.7,399.59 L532.2,399.51 L532.7,399.43 L533.2,399.31 L533.7,399.2 L534.2,399.09 L534.7,398.98 L535.2,398.87 L535.7,398.75 L536.2,398.64 L536.7,398.53 L537.2,398.36 L537.7,398.07 L538.2,397.77 L538.7,397.48 L539.2,397.18 L539.7,396.89 L540.2,396.63 L540.7,396.37 L541.2,396.11 L541.7,395.85 L542.2,395.59 L542.7,395.42 L543.2,395.34 L543.7,395.4 L544.2,395.61 L544.7,395.99 L545.2,396.36 L545.7,396.74 L546.2,397.12 L546.7,397.5 L547.2,397.88 L547.7,398.24 L548.2,398.57 L548.7,398.9 L549.2,399.24 L549.7,399.57 L550.2,399.61 L550.7,399.37 L551.2,399.13 L551.7,398.89 L552.2,398.73 L552.7,398.62 L553.2,398.51 L553.7,398.4 L554.2,398.3 L554.7,398.19 L555.2,398.11 L555.7,398.17 L556.2,398.32 L556.7,398.53 L557.2,398.73 L557.7,398.93 L558.2,399.14 L558.7,399.33 L559.2,399.47 L559.7,399.61 L560.2,399.32 L560.7,398.5 L561.2,397.71 L561.7,396.97 L562.2,396.23 L562.7,395.49 L563.2,394.75 L563.7,394.05 L564.2,393.62 L564.7,393.37 L565.2,393.28 L565.7,393.34 L566.2,393.55 L566.7,394.02 L567.2,394.85 L567.7,395.68 L568.2,396.52 L568.7,397.28 L569.2,397.98 L569.7,398.66 L570.2,398.88 L570.7,399.1 L571.2,399.32 L571.7,399.46 L572.2,399.51 L572.7,399.56 L573.2,399.61 L573.7,399.66 L574.2,399.71 L574.7,399.74 L575.2,399.77 L575.7,399.8 L576.2,399.83 L576.7,399.86 L577.2,399.89 L577.7,400.02 L578.2,400.34 L578.7,401.09 L579,402.2 L579,402.2 L578.7,403.31 L578.2,404.06 L577.7,404.38 L577.2,404.51 L576.7,404.54 L576.2,404.57 L575.7,404.6 L575.2,404.63 L574.7,404.66 L574.2,404.69 L573.7,404.74 L573.2,404.79 L572.7,404.84 L572.2,404.89 L571.7,404.94 L571.2,405.08 L570.7,405.3 L570.2,405.52 L569.7,405.74 L569.2,406.42 L568.7,407.12 L568.2,407.88 L567.7,408.72 L567.2,409.55 L566.7,410.38 L566.2,410.85 L565.7,411.06 L565.2,411.12 L564.7,411.03 L564.2,410.78 L563.7,410.35 L563.2,409.65 L562.7,408.91 L562.2,408.17 L561.7,407.43 L561.2,406.69 L560.7,405.9 L560.2,405.08 L559.7,404.79 L559.2,404.93 L558.7,405.07 L558.2,405.26 L557.7,405.47 L557.2,405.67 L556.7,405.87 L556.2,406.08 L555.7,406.23 L555.2,406.29 L554.7,406.21 L554.2,406.1 L553.7,406 L553.2,405.89 L552.7,405.78 L552.2,405.67 L551.7,405.51 L551.2,405.27 L550.7,405.03 L550.2,404.79 L549.7,404.83 L549.2,405.16 L548.7,405.5 L548.2,405.83 L547.7,406.16 L547.2,406.52 L546.7,406.9 L546.2,407.28 L545.7,407.66 L545.2,408.04 L544.7,408.41 L544.2,408.79 L543.7,409 L543.2,409.06 L542.7,408.98 L542.2,408.81 L541.7,408.55 L541.2,408.29 L540.7,408.03 L540.2,407.77 L539.7,407.51 L539.2,407.22 L538.7,406.92 L538.2,406.63 L537.7,406.33 L537.2,406.04 L536.7,405.87 L536.2,405.76 L535.7,405.65 L535.2,405.53 L534.7,405.42 L534.2,405.31 L533.7,405.2 L533.2,405.09 L532.7,404.97 L532.2,404.89 L531.7,404.81 L531.2,404.72 L530.7,404.64 L530.2,404.56 L529.7,404.48 L529.2,404.45 L528.7,404.42 L528.2,404.38 L527.7,404.22 L527.2,403.85 L526.7,402.61Z" fill="url(#g30)"/>
<circle cx="546.49" cy="400.72" r="1.5" fill="#ff0051"/>
<circle cx="539.98" cy="400.49" r="1.5" fill="#ff0051"/>
<circle cx="541.4" cy="401.75" r="1.5" fill="#ff0051"/>
<circle cx="547.49" cy="403.55" r="1.5" fill="#ff0051"/>
<circle cx="546.6" cy="399.78" r="1.5" fill="#ff0051"/>
<circle cx="537.35" cy="403.03" r="1.5" fill="#ff0051"/>
<circle cx="546.85" cy="402.07" r="1.5" fill="#9b23ad"/>
<circle cx="543.46" cy="397.3" r="1.5" fill="#9b23ad"/>
<circle cx="541.31" cy="405.72" r="1.5" fill="#9b23ad"/>
<circle cx="546.08" cy="404.27" r="1.5" fill="#9b23ad"/>
<path d="M526.1,423.61 L526.6,422.36 L527.1,422 L527.6,421.83 L528.1,421.8 L528.6,421.79 L529.1,421.78 L529.6,421.77 L530.1,421.76 L530.6,421.75 L531.1,421.74 L531.6,421.73 L532.1,421.71 L532.6,421.7 L533.1,421.69 L533.6,421.68 L534.1,421.67 L534.6,421.66 L535.1,421.65 L535.6,421.64 L536.1,421.63 L536.6,421.62 L537.1,421.61 L537.6,421.6 L538.1,421.59 L538.6,421.58 L539.1,421.57 L539.6,421.56 L540.1,421.55 L540.6,421.56 L541.1,421.57 L541.6,421.58 L542.1,421.59 L542.6,421.6 L543.1,421.61 L543.6,421.62 L544.1,421.63 L544.6,421.64 L545.1,421.65 L545.6,421.67 L546.1,421.68 L546.6,421.69 L547.1,421.71 L547.6,421.72 L548.1,421.73 L548.6,421.75 L549.1,421.76 L549.6,421.77 L550.1,421.79 L550.6,421.8 L551.1,421.86 L551.6,422.07 L552.1,422.53 L552.5,424.15 L552.5,424.15 L552.1,425.77 L551.6,426.23 L551.1,426.44 L550.6,426.5 L550.1,426.51 L549.6,426.53 L549.1,426.54 L548.6,426.55 L548.1,426.57 L547.6,426.58 L547.1,426.59 L546.6,426.61 L546.1,426.62 L545.6,426.63 L545.1,426.65 L544.6,426.66 L544.1,426.67 L543.6,426.68 L543.1,426.69 L542.6,426.7 L542.1,426.71 L541.6,426.72 L541.1,426.73 L540.6,426.74 L540.1,426.75 L539.6,426.74 L539.1,426.73 L538.6,426.72 L538.1,426.71 L537.6,426.7 L537.1,426.69 L536.6,426.68 L536.1,426.67 L535.6,426.66 L535.1,426.65 L534.6,426.64 L534.1,426.63 L533.6,426.62 L533.1,426.61 L532.6,426.6 L532.1,426.59 L531.6,426.57 L531.1,426.56 L530.6,426.55 L530.1,426.54 L529.6,426.53 L529.1,426.52 L528.6,426.51 L528.1,426.5 L527.6,426.47 L527.1,426.3 L526.6,425.94 L526.1,424.69Z" fill="#ff0051"/>
<path d="M558,423.52 L558.5,422.28 L559,421.91 L559.5,421.75 L560,421.69 L560.5,421.63 L561,421.57 L561.5,421.51 L562,421.46 L562.5,421.4 L563,421.36 L563.5,421.42 L564,421.51 L564.5,421.64 L565,421.96 L565.5,422.71 L565.7,424.15 L565.7,424.15 L565.5,425.59 L565,426.34 L564.5,426.66 L564,426.79 L563.5,426.88 L563,426.94 L562.5,426.9 L562,426.84 L561.5,426.79 L561,426.73 L560.5,426.67 L560,426.61 L559.5,426.55 L559,426.39 L558.5,426.02 L558,424.78Z" fill="#008bfb"/>
<rect x="558.2" y="414.9" width="4.4" height="18.7" rx="2.2" fill="#008bfb"/>
<path d="M532.6,445.78 L533.1,444.53 L533.6,444.16 L534.1,444 L534.6,443.97 L535.1,443.97 L535.6,443.96 L536.1,443.95 L536.6,443.95 L537.1,443.94 L537.6,443.93 L538.1,443.93 L538.6,443.92 L539.1,443.91 L539.6,443.91 L540.1,443.9 L540.6,443.88 L541.1,443.87 L541.6,443.85 L542.1,443.84 L542.6,443.82 L543.1,443.81 L543.6,443.79 L544.1,443.78 L544.6,443.76 L545.1,443.75 L545.6,443.73 L546.1,443.72 L546.6,443.7 L547.1,443.69 L547.6,443.67 L548.1,443.66 L548.6,443.64 L549.1,443.63 L549.6,443.61 L550.1,443.61 L550.6,443.62 L551.1,443.64 L551.6,443.66 L552.1,443.67 L552.6,443.69 L553.1,443.71 L553.6,443.72 L554.1,443.74 L554.6,443.76 L555.1,443.77 L555.6,443.79 L556.1,443.8 L556.6,443.78 L557.1,443.77 L557.6,443.76 L558.1,443.74 L558.6,443.73 L559.1,443.72 L559.6,443.69 L560.1,443.55 L560.6,443.42 L561.1,443.28 L561.6,443.15 L562.1,443.14 L562.6,443.19 L563.1,443.31 L563.6,443.43 L564.1,443.64 L564.6,444.1 L565,446.1 L565,446.1 L564.6,448.1 L564.1,448.56 L563.6,448.77 L563.1,448.89 L562.6,449.01 L562.1,449.06 L561.6,449.05 L561.1,448.92 L560.6,448.78 L560.1,448.65 L559.6,448.51 L559.1,448.48 L558.6,448.47 L558.1,448.46 L557.6,448.44 L557.1,448.43 L556.6,448.42 L556.1,448.4 L555.6,448.41 L555.1,448.43 L554.6,448.44 L554.1,448.46 L553.6,448.48 L553.1,448.49 L552.6,448.51 L552.1,448.53 L551.6,448.54 L551.1,448.56 L550.6,448.58 L550.1,448.59 L549.6,448.59 L549.1,448.57 L548.6,448.56 L548.1,448.54 L547.6,448.53 L547.1,448.51 L546.6,448.5 L546.1,448.48 L545.6,448.47 L545.1,448.45 L544.6,448.44 L544.1,448.42 L543.6,448.41 L543.1,448.39 L542.6,448.38 L542.1,448.36 L541.6,448.35 L541.1,448.33 L540.6,448.32 L540.1,448.3 L539.6,448.29 L539.1,448.29 L538.6,448.28 L538.1,448.27 L537.6,448.27 L537.1,448.26 L536.6,448.25 L536.1,448.25 L535.6,448.24 L535.1,448.23 L534.6,448.23 L534.1,448.2 L533.6,448.04 L533.1,447.67 L532.6,446.42Z" fill="url(#g31)"/>
<rect x="557.3" y="436.7" width="5" height="18.9" rx="2.5" fill="#f90067"/>
<rect x="557.3" y="436.7" width="5" height="6.3" rx="2.5" fill="#0088fa"/>
<circle cx="559" cy="448" r="1.6" fill="#007cf5"/>
<circle cx="560.5" cy="452" r="1.6" fill="#236cea"/>
<path d="M541.4,467.29 L541.9,466.05 L542.4,465.68 L542.9,465.52 L543.4,465.47 L543.9,465.43 L544.4,465.39 L544.9,465.34 L545.4,465.3 L545.9,465.26 L546.4,465.23 L546.9,465.2 L547.4,465.18 L547.9,465.15 L548.4,465.12 L548.9,465.1 L549.4,465.07 L549.9,465.05 L550.4,465.02 L550.9,464.99 L551.4,464.97 L551.9,464.9 L552.4,464.8 L552.9,464.71 L553.4,464.54 L553.9,464.23 L554.4,463.92 L554.9,463.67 L555.4,463.52 L555.9,463.4 L556.4,463.27 L556.9,463.09 L557.4,462.75 L557.9,461.58 L558.4,460.08 L558.9,459.54 L559.4,459.17 L559.9,458.99 L560.4,458.82 L560.9,458.65 L561.4,458.57 L561.9,458.62 L562.4,458.76 L562.9,458.92 L563.4,459.09 L563.9,459.3 L564.4,459.77 L564.9,460.66 L565.4,461.66 L565.9,462.62 L566.4,462.95 L566.9,463.29 L567.4,463.71 L567.9,464.23 L568.4,468.05 L568.4,468.05 L567.9,471.87 L567.4,472.39 L566.9,472.81 L566.4,473.15 L565.9,473.48 L565.4,474.44 L564.9,475.44 L564.4,476.33 L563.9,476.8 L563.4,477.01 L562.9,477.18 L562.4,477.34 L561.9,477.48 L561.4,477.53 L560.9,477.45 L560.4,477.28 L559.9,477.11 L559.4,476.93 L558.9,476.56 L558.4,476.02 L557.9,474.52 L557.4,473.35 L556.9,473.01 L556.4,472.83 L555.9,472.7 L555.4,472.58 L554.9,472.43 L554.4,472.18 L553.9,471.87 L553.4,471.56 L552.9,471.39 L552.4,471.3 L551.9,471.2 L551.4,471.13 L550.9,471.11 L550.4,471.08 L549.9,471.05 L549.4,471.03 L548.9,471 L548.4,470.98 L547.9,470.95 L547.4,470.92 L546.9,470.9 L546.4,470.87 L545.9,470.84 L545.4,470.8 L544.9,470.76 L544.4,470.71 L543.9,470.67 L543.4,470.63 L542.9,470.58 L542.4,470.42 L541.9,470.05 L541.4,468.81Z" fill="#ff0051"/>
<circle cx="558.89" cy="465.88" r="1.5" fill="#0084f9"/>
<circle cx="555.44" cy="466.37" r="1.5" fill="#0084f9"/>
<circle cx="557.09" cy="467.9" r="1.5" fill="#0084f9"/>
<circle cx="558.71" cy="469.83" r="1.5" fill="#9b23ad"/>
<circle cx="557.24" cy="469.71" r="1.5" fill="#9b23ad"/>
<line x1="460.9" y1="490" x2="600.75" y2="490" stroke="#333" stroke-width="1"/>
<line x1="499.7" y1="490" x2="499.7" y2="493.2" stroke="#333" stroke-width="1"/>
<text x="499.7" y="504.3" font-size="10.7" text-anchor="middle" fill="#333" stroke="#333" stroke-width="0.12">−2</text>
<line x1="558.7" y1="490" x2="558.7" y2="493.2" stroke="#333" stroke-width="1"/>
<text x="558.7" y="504.3" font-size="10.7" text-anchor="middle" fill="#333" stroke="#333" stroke-width="0.12">0</text>
<text x="439.6" y="384.85" font-size="12.4" text-anchor="end" fill="#333" stroke="#333" stroke-width="0.12">1</text>
<text x="439.6" y="406.8" font-size="12.4" text-anchor="end" fill="#333" stroke="#333" stroke-width="0.12">4</text>
<text x="439.6" y="428.75" font-size="12.4" text-anchor="end" fill="#333" stroke="#333" stroke-width="0.12">2</text>
<text x="439.6" y="450.7" font-size="12.4" text-anchor="end" fill="#333" stroke="#333" stroke-width="0.12">3</text>
<text x="439.6" y="472.65" font-size="12.4" text-anchor="end" fill="#333" stroke="#333" stroke-width="0.12">5</text>
<text x="530.83" y="353.6" font-size="10.7" text-anchor="middle" fill="#000" stroke="#000" stroke-width="0.12" textLength="36" lengthAdjust="spacingAndGlyphs">Rs_Ws</text>
<rect x="609.1" y="358.3" width="1.9" height="131.1" fill="url(#cb)"/>
<text x="614.3" y="362.3" font-size="10.7" text-anchor="start" fill="#111" stroke="#111" stroke-width="0.12">High</text>
<text x="614.3" y="493.7" font-size="10.7" text-anchor="start" fill="#111" stroke="#111" stroke-width="0.12">Low</text></svg>
</body></html>
